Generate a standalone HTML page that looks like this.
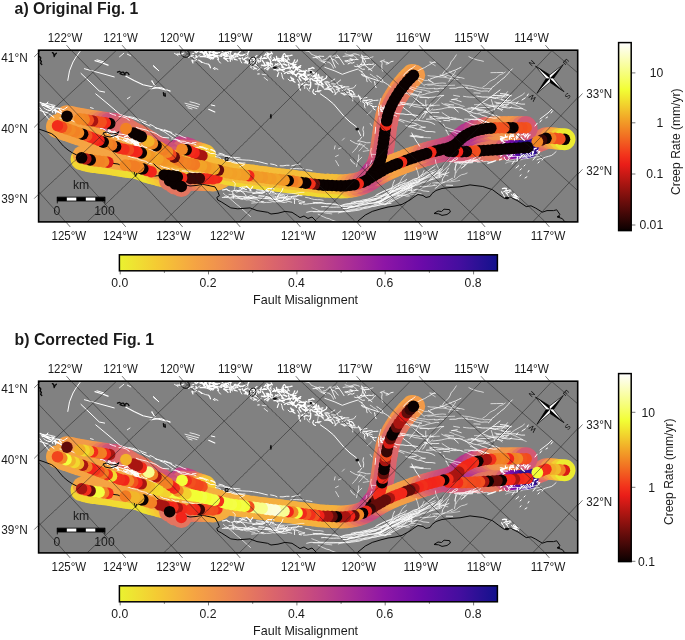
<!DOCTYPE html><html><head><meta charset="utf-8"><title>Fig. 1</title>
<style>html,body{margin:0;padding:0;background:#fff}svg{display:block;font-family:"Liberation Sans",sans-serif}</style></head><body>
<svg width="685" height="640" viewBox="0 0 685 640">
<defs><linearGradient id="gplasma" x1="0" x2="1" y1="0" y2="0">
<stop offset="0.000" stop-color="#eaf230"/>
<stop offset="0.050" stop-color="#f0de32"/>
<stop offset="0.100" stop-color="#f5ca33"/>
<stop offset="0.150" stop-color="#f5b73b"/>
<stop offset="0.200" stop-color="#f5a443"/>
<stop offset="0.250" stop-color="#f1954c"/>
<stop offset="0.300" stop-color="#ec8556"/>
<stop offset="0.350" stop-color="#e47660"/>
<stop offset="0.400" stop-color="#dc676a"/>
<stop offset="0.450" stop-color="#d25a74"/>
<stop offset="0.500" stop-color="#c84c7e"/>
<stop offset="0.550" stop-color="#bb3f89"/>
<stop offset="0.600" stop-color="#ae3194"/>
<stop offset="0.650" stop-color="#9e249d"/>
<stop offset="0.700" stop-color="#8e16a6"/>
<stop offset="0.750" stop-color="#7c10a7"/>
<stop offset="0.800" stop-color="#6b0aa9"/>
<stop offset="0.850" stop-color="#570ca4"/>
<stop offset="0.900" stop-color="#440e9f"/>
<stop offset="0.950" stop-color="#2b1095"/>
<stop offset="1.000" stop-color="#12118c"/>
</linearGradient>
<linearGradient id="ghot" x1="0" x2="0" y1="1" y2="0">
<stop offset="0.000" stop-color="#0a0101"/>
<stop offset="0.050" stop-color="#2a0504"/>
<stop offset="0.100" stop-color="#4a0908"/>
<stop offset="0.150" stop-color="#690d0b"/>
<stop offset="0.200" stop-color="#89110e"/>
<stop offset="0.250" stop-color="#a91511"/>
<stop offset="0.300" stop-color="#c91915"/>
<stop offset="0.350" stop-color="#e91d18"/>
<stop offset="0.400" stop-color="#f2331b"/>
<stop offset="0.450" stop-color="#f2501f"/>
<stop offset="0.500" stop-color="#f26e22"/>
<stop offset="0.550" stop-color="#f28b25"/>
<stop offset="0.600" stop-color="#f2a828"/>
<stop offset="0.650" stop-color="#f2c62c"/>
<stop offset="0.700" stop-color="#f2e32f"/>
<stop offset="0.750" stop-color="#f2fe35"/>
<stop offset="0.800" stop-color="#f5fe5e"/>
<stop offset="0.850" stop-color="#f7fe86"/>
<stop offset="0.900" stop-color="#fafeae"/>
<stop offset="0.950" stop-color="#fcfed7"/>
<stop offset="1.000" stop-color="#fffeff"/>
</linearGradient>
<clipPath id="clipmap"><rect x="38.6" y="50.2" width="539.1" height="171.7"/></clipPath>
<g id="faults"></g>
<g id="faults2"><path d="M80.0 51.5 L76.0 57.0 L73.0 62.0 L69.5 70.8 L67.8 80.4 M97.0 59.8 L104.0 62.0 M84.4 68.7 L100.0 73.0 L114.2 76.9 M81.0 73.4 L90.0 82.0 L99.3 91.0 L104.6 92.1 M95.8 93.9 L108.0 104.0 L120.3 114.6 L136.0 119.5 L150.0 126.0 M153.6 66.4 L158.0 70.0 M153.5 65.5 L158.8 70.8 M150.0 89.0 L160.5 87.4 L170.0 91.0 M211.3 105.0 L214.8 105.8 M155.3 127.7 L169.3 132.0 L176.3 136.5 M320.4 93.9 L327.0 98.5 L333.6 104.0 L344.0 116.3 L350.0 122.0 L356.4 126.8 L360.7 135.6 M39.8 107.6 L43.0 112.0 L46.8 116.3 M41.0 104.0 L50.0 108.3 L57.0 112.2 M40.0 110.5 L48.0 113.0 L54.0 117.5 M100.3 128.6 L102.5 128.6 L105.4 130.1 M108.7 130.2 L111.9 132.0 L115.6 132.1 L118.1 133.8 L121.8 134.4 L124.5 134.5 L128.2 136.1 L130.5 137.9 L134.2 139.0 M136.5 140.2 L140.0 141.0 M113.1 133.6 L114.7 133.0 L117.1 132.9 M134.2 143.8 L135.9 144.2 M112.5 134.9 L113.7 133.2 L114.2 130.9 M135.5 142.5 L137.2 143.6 M131.2 140.7 L133.5 140.6 M124.9 137.8 L126.1 139.4 M113.5 132.6 L115.5 132.2 M60.8 108.5 L62.7 109.5 L64.3 109.3 L65.6 108.0 L67.2 107.1 M43.0 105.6 L44.7 105.0 L46.5 103.9 L47.9 102.0 M43.7 107.7 L45.7 109.1 L47.1 109.8 L49.3 110.5 L51.6 110.6 M58.3 111.7 L59.6 112.5 L61.6 114.1 L63.1 115.2 M52.4 108.1 L54.4 108.6 M151.7 142.1 L153.8 143.2 L155.6 144.3 M178.6 154.7 L179.7 153.3 L180.2 151.7 M156.1 146.4 L157.6 146.7 L159.7 147.3 M193.4 57.3 L195.3 58.7 L196.9 59.9 M189.8 56.2 L191.5 56.7 L193.4 55.5 M253.2 57.6 L254.7 58.3 L257.1 58.3 M307.1 78.4 L308.4 79.3 M225.3 54.8 L227.6 54.8 M305.4 77.2 L306.3 79.1 L307.5 80.7 L308.8 82.3 M206.0 52.0 L207.2 53.3 L208.3 54.7 M226.2 55.5 L228.5 56.1 L229.9 56.8 L232.3 56.7 M226.4 58.4 L228.5 58.4 L230.7 58.0 L232.3 56.7 M319.0 83.0 L320.5 81.4 L321.6 79.9 L322.1 78.0 M307.6 79.4 L310.0 78.9 L312.3 78.1 M217.5 59.1 L218.2 60.3 L219.2 61.6 L220.5 63.1 M191.9 54.0 L194.0 53.3 M221.7 51.1 L223.5 52.3 M238.3 54.6 L240.7 55.3 M291.8 72.9 L292.7 74.6 M291.3 73.1 L293.5 73.1 L295.0 74.4 L297.0 74.8 M292.9 71.9 L293.5 74.1 M297.7 79.5 L298.8 81.6 M193.7 48.9 L195.3 48.4 L196.7 48.6 L198.5 49.6 M321.6 84.0 L323.8 84.9 M204.4 56.7 L206.8 57.3 L209.0 58.1 L210.4 58.9 M326.7 88.1 L328.9 87.0 L330.7 86.5 M281.4 58.7 L282.6 60.7 M306.0 70.2 L307.5 71.0 M308.2 69.9 L310.4 70.3 L312.5 71.1 M294.6 64.7 L294.7 66.7 L293.5 68.7 M271.1 55.6 L270.5 57.6 M287.6 58.9 L289.7 59.9 M267.4 54.9 L268.1 56.8 L269.4 58.0 M304.3 71.0 L305.7 73.1 M270.6 60.3 L271.2 58.1 L270.2 56.5 M280.7 58.4 L282.4 60.4 M291.3 63.4 L292.6 64.9 L294.4 66.5 M281.4 59.9 L283.3 61.1 L284.7 62.3 M229.7 57.0 L231.0 58.9 L232.6 59.9 M243.2 59.5 L245.1 58.6 M250.2 66.9 L252.0 68.2 M257.7 70.3 L259.6 68.9 L261.2 67.4 M235.0 55.2 L235.4 56.9 M251.1 64.1 L251.8 66.1 M349.3 90.3 L349.4 92.7 L350.8 93.5 L351.7 94.8 L352.9 96.7 M380.5 109.6 L382.4 109.2 L384.6 108.7 L386.5 108.9 L388.6 109.0 M351.1 93.4 L350.8 95.0 L351.5 96.7 L352.8 98.7 L352.8 100.9 M370.2 105.1 L372.0 105.8 L373.0 107.3 L373.5 108.9 L375.2 109.9 M331.8 86.9 L333.3 88.9 L334.6 90.2 L334.9 91.8 L335.6 94.2 M336.3 89.2 L337.7 89.5 L339.3 88.6 M372.2 106.2 L374.6 106.8 L376.3 106.5 M336.0 86.3 L337.4 87.8 L338.7 89.3 L339.2 91.6 M385.1 107.9 L386.8 107.6 L387.9 106.3 L389.7 106.0 L391.6 105.2 L393.2 105.4 M363.1 100.1 L365.0 100.3 L367.2 100.3 L369.0 99.8 L370.7 99.7 L372.2 99.9 M331.1 81.1 L332.9 80.3 L334.8 79.0 M339.2 88.1 L341.1 87.8 L343.1 87.4 L344.7 86.6 M383.0 108.5 L384.7 109.3 L387.1 109.8 L388.5 110.7 M321.9 79.8 L321.5 82.2 L321.6 84.5 L322.7 86.7 L323.3 88.1 M317.8 91.7 L319.9 91.8 M281.3 72.9 L282.0 74.8 L282.3 77.1 L283.5 79.1 M268.2 62.8 L268.6 65.0 L268.0 67.1 L268.4 68.6 M302.4 83.2 L301.6 84.8 M315.4 91.6 L317.1 91.2 L319.0 90.8 L321.0 90.6 M288.1 79.1 L289.9 80.8 L292.1 80.5 L294.3 81.3 M301.6 84.5 L303.3 83.9 L305.4 84.2 L307.1 84.4 M310.7 50.1 L312.9 50.4 L315.1 50.4 L317.5 50.0 L319.8 50.3 L321.9 49.9 M345.1 61.0 L347.0 60.7 L348.6 60.2 L350.7 59.7 L352.6 60.0 M374.5 81.7 L375.0 83.6 L375.3 85.7 L376.1 87.6 M360.4 64.4 L362.3 64.8 L364.4 64.9 L366.8 64.7 L368.9 64.2 L371.4 64.5 L373.6 64.0 M348.1 63.9 L350.2 62.8 L352.4 63.1 L354.1 62.3 M346.6 50.8 L348.7 49.1 L350.8 49.0 M277.5 196.5 L280.0 197.2 L281.8 197.4 L284.2 197.4 L285.9 197.1 L287.5 195.6 M278.1 196.0 L279.5 195.0 L281.5 195.0 L283.5 194.9 L284.9 196.2 L285.7 198.1 L287.4 199.7 M224.1 197.0 L226.6 196.9 L228.3 196.4 M235.7 191.2 L237.8 190.6 L239.3 190.2 L240.7 189.0 L242.9 187.9 M299.2 203.5 L301.4 203.9 L302.8 202.5 L304.7 201.8 M256.1 191.7 L258.5 192.3 L260.9 192.9 L262.8 192.6 L265.0 192.1 M279.2 200.4 L281.2 201.3 L282.9 200.3 L284.1 198.4 M239.2 191.0 L240.8 191.1 L242.5 192.1 L243.9 193.0 L245.1 194.6 L246.1 195.9 M266.0 190.0 L268.0 188.4 L269.9 188.6 L272.3 188.3 L274.1 188.9 M232.4 191.2 L233.9 190.7 L236.4 190.2 L238.0 190.7 M262.3 191.8 L264.2 191.9 L266.6 191.2 L268.0 189.9 M236.8 192.1 L239.0 191.1 L240.9 190.3 L242.4 189.1 L244.4 188.4 M252.6 193.7 L255.0 193.3 L257.3 192.7 L259.3 192.2 L261.6 192.0 M242.7 188.1 L244.9 189.2 L246.5 189.6 M246.3 197.7 L252.1 197.6 L257.8 197.9 L264.8 198.5 L270.3 198.9 L276.9 199.8 M519.7 135.1 L518.6 133.6 L516.9 132.9 M528.3 135.2 L530.3 134.9 M527.6 136.8 L527.3 138.4 M521.2 134.8 L523.5 134.6 M510.2 137.6 L511.7 138.6 M520.4 154.0 L522.0 153.0 L523.9 152.0 M528.6 149.7 L530.3 149.6 M520.6 157.6 L522.3 156.4 M522.2 155.3 L524.6 154.6 L526.8 155.3 M504.2 157.1 L504.7 158.8 L506.0 160.1 M534.3 149.1 L533.8 150.7 L533.4 153.0 M528.8 155.9 L530.7 156.2 M510.7 154.3 L512.8 154.3 M536.5 151.0 L538.3 150.1 M523.4 154.4 L524.8 155.6 M530.2 151.3 L530.8 149.8 L530.0 148.3 M502.2 192.9 L503.3 194.4 L504.4 196.7 M507.7 195.7 L509.9 197.3 L511.3 198.0 M514.8 198.1 L517.2 198.2 L518.7 199.5 M510.0 108.0 L511.3 107.1 M516.0 104.0 L518.0 101.7 M522.0 100.0 L525.3 97.8 M527.0 96.0 L528.3 94.0 M535.0 126.0 L537.2 123.2 M540.0 122.0 L541.6 119.9 M546.0 118.0 L547.6 117.0 M551.0 113.0 L552.6 110.8 M508.0 160.0 L509.7 157.8 M512.0 164.0 L514.3 160.9 M516.0 168.0 L518.7 165.7 M520.0 170.0 L521.4 168.8 M524.0 166.0 L525.1 164.9 M528.0 172.0 L529.0 170.4 M533.0 160.0 L535.5 156.9 M538.0 163.0 L539.4 161.7 M542.0 160.0 L543.4 159.0 M520.0 176.0 L521.0 174.8 M525.0 178.0 L526.9 176.8" fill="none" stroke="#fff" stroke-width="1.0" stroke-linecap="round" stroke-linejoin="round"/><path d="M95.0 60.6 L101.0 62.5 L108.0 65.2 M110.8 134.8 L112.0 135.8 M112.5 136.4 L114.3 136.2 M136.8 142.0 L138.4 142.0 L140.7 142.0 M112.8 134.9 L114.4 135.6 L116.5 135.8 M198.8 60.2 L200.5 61.2 L201.7 62.3 M234.8 53.7 L237.1 54.1 L238.6 54.5 L240.7 55.7 M298.7 73.1 L300.3 74.9 M247.6 55.7 L247.8 53.6 L248.6 51.6 L249.7 49.8 M209.1 55.2 L211.3 55.2 L213.5 55.2 L215.2 56.9 M203.8 54.8 L205.4 52.9 L206.8 51.7 M200.1 56.6 L202.6 56.4 L204.6 56.5 L206.3 55.8 M315.1 83.8 L316.8 84.1 M291.0 72.8 L292.6 73.0 M195.9 55.4 L196.8 57.2 M231.6 58.1 L233.2 58.0 M253.7 58.6 L255.5 59.4 M264.0 65.9 L265.9 65.5 L267.3 64.9 L267.4 63.3 M261.4 65.1 L263.4 65.5 L265.2 64.6 M207.3 56.8 L209.1 57.0 L210.9 57.5 L212.6 57.7 M255.5 63.2 L255.9 64.9 M210.4 57.3 L212.5 57.5 L214.6 56.8 L217.0 56.7 M270.6 61.6 L270.6 63.9 M324.7 89.1 L327.0 88.9 L329.2 89.0 L331.6 88.8 M207.5 55.5 L209.3 55.7 L211.6 55.6 M264.6 68.8 L266.5 67.7 M215.3 55.5 L216.9 56.2 M311.8 79.1 L313.2 80.3 L315.4 80.8 L317.2 82.1 M262.3 60.5 L263.7 62.4 L264.6 64.0 M196.1 52.8 L197.3 51.7 L198.7 50.1 L200.5 48.4 M296.0 75.4 L297.1 74.2 M310.7 82.1 L310.7 84.6 L310.5 87.0 L309.6 88.6 M198.4 50.5 L200.6 50.8 L202.6 51.0 M328.7 89.4 L330.4 89.8 L331.5 90.9 L332.8 92.2 M238.4 53.4 L240.3 51.5 M311.0 71.6 L313.1 72.3 L314.5 73.7 L316.5 74.4 M293.3 64.9 L294.4 66.8 M267.2 55.4 L268.5 53.4 M267.4 56.6 L267.8 54.8 L267.0 52.4 M266.9 56.8 L268.6 58.0 L269.9 60.0 L271.1 62.0 M279.0 59.9 L280.6 60.8 L281.9 61.5 M287.9 67.9 L290.0 67.9 L292.2 66.8 M276.8 58.7 L278.6 58.3 M282.7 57.3 L282.9 55.4 L284.2 53.6 M283.1 63.9 L285.0 64.6 L286.7 65.4 M285.4 56.6 L287.8 55.9 L290.1 55.7 L292.1 55.1 M297.4 73.4 L299.7 73.9 L302.0 74.3 L304.2 74.3 M312.7 76.5 L314.3 76.7 L316.0 76.1 L317.4 76.0 M314.0 78.8 L316.3 78.2 L317.7 78.4 M283.1 63.9 L285.4 64.5 L286.9 65.0 M312.9 72.2 L314.4 72.9 M509.4 136.8 L511.6 136.0 L513.7 136.4 M516.0 137.2 L517.8 137.1 M525.0 137.1 L526.6 135.3 L528.0 133.4 M500.5 139.4 L502.1 141.3 M521.1 137.1 L522.6 139.2 L524.2 140.3 M501.7 159.0 L499.6 159.9 M502.1 154.3 L503.4 152.9 L504.2 150.9 M517.5 156.9 L517.2 158.8 L517.3 160.9 M503.1 153.6 L504.8 153.4 M519.7 158.0 L521.5 156.8 M505.9 192.8 L507.4 194.3 M502.5 188.7 L504.5 188.2 L506.6 188.5" fill="none" stroke="#fff" stroke-width="1.3" stroke-linecap="round" stroke-linejoin="round"/><path d="M125.6 76.0 L134.0 80.5 L143.0 84.8 L158.0 88.0 L170.0 91.0 M43.3 105.0 L52.0 109.5 L62.5 113.7 M132.5 142.6 L134.5 143.7 M124.5 136.4 L125.9 136.6 L127.7 135.8 M130.0 140.0 L131.0 141.3 L133.3 141.7 M113.1 135.5 L115.5 135.9 M131.7 141.8 L134.0 140.6 M134.4 142.3 L135.9 143.5 L137.2 145.0 L138.4 147.2 M133.0 141.1 L134.9 141.4 L136.4 142.0 L138.5 143.0 M108.5 129.6 L109.9 130.3 L111.3 131.8 L113.2 131.9 M116.3 136.3 L118.0 136.2 M51.8 105.7 L53.9 106.8 L55.6 107.8 M50.1 108.4 L51.4 109.5 L52.2 111.0 L52.9 112.4 M42.1 105.8 L43.6 105.3 L44.5 104.1 L46.9 103.8 M53.1 108.3 L54.6 109.2 L56.6 110.7 L57.9 111.6 L59.7 112.5 M48.3 110.2 L50.2 110.6 L51.9 110.6 M151.5 140.4 L153.5 140.8 M154.5 146.7 L156.7 147.9 M157.1 145.7 L157.7 143.6 L159.8 142.7 M150.8 143.4 L151.6 145.6 L151.2 147.9 M176.5 153.6 L177.0 155.2 L176.5 157.5 M168.7 150.9 L170.3 150.9 M191.9 60.1 L193.7 60.9 L195.4 60.9 M179.8 53.1 L182.0 53.8 L183.9 53.0 M213.4 68.4 L214.9 69.4 M316.3 77.8 L318.6 77.8 L320.7 77.3 L323.0 76.9 M233.5 57.6 L235.7 56.8 L238.0 56.4 M303.4 74.7 L305.2 76.5 L306.7 78.1 M214.1 54.8 L215.4 53.4 L217.4 53.8 M314.2 74.8 L314.9 76.2 L315.9 77.9 L317.7 79.6 M292.5 68.1 L294.5 67.1 M200.3 50.7 L202.5 49.6 M291.3 70.5 L292.8 71.2 M215.5 52.5 L217.5 52.9 L219.8 52.5 M324.7 82.1 L326.3 81.9 L328.1 81.8 M223.5 54.7 L224.8 53.6 L226.7 52.8 M233.8 54.2 L236.1 54.7 L237.3 55.9 M244.1 62.8 L246.4 63.0 L248.3 62.5 M242.2 57.4 L243.1 59.5 M287.5 73.4 L289.2 73.2 L291.1 72.4 L293.3 71.4 M307.0 74.9 L308.8 75.5 M278.8 67.9 L280.8 69.5 L282.4 70.5 L284.1 71.7 M208.6 51.9 L210.9 52.1 L212.6 52.3 M222.3 53.7 L224.3 53.8 L226.4 54.3 M247.8 56.3 L249.2 57.7 L250.2 59.4 L250.5 60.9 M308.0 79.5 L309.3 78.3 M290.1 71.6 L292.5 72.3 L294.0 72.2 M212.4 52.7 L213.6 51.7 L215.1 50.2 L216.2 48.6 M308.1 74.9 L310.4 74.7 M232.2 56.5 L233.7 55.2 L235.2 53.2 M276.9 69.3 L277.6 70.6 M281.3 67.0 L283.6 67.9 L285.9 68.4 L287.9 68.2 M269.7 63.9 L271.7 63.8 L272.6 65.1 M210.6 59.1 L212.4 58.3 L213.9 58.0 M295.2 67.9 L296.7 68.3 L298.7 69.0 M319.1 83.9 L320.7 85.1 L321.9 86.2 L323.4 86.9 M274.9 65.3 L276.3 64.4 L278.1 63.4 M249.1 58.4 L250.9 59.3 L252.1 60.4 M253.7 58.9 L255.6 59.7 L257.1 60.7 L258.9 62.4 M304.5 71.9 L304.7 73.6 M282.3 59.0 L283.9 59.7 M286.4 61.9 L288.3 62.2 M272.5 60.4 L274.1 60.4 M288.4 58.4 L287.6 56.4 L285.7 55.5 L284.6 53.5 M276.7 59.7 L278.2 59.1 L280.3 58.5 M273.8 57.7 L275.0 59.2 M288.6 62.5 L290.6 63.7 M295.6 66.3 L297.2 67.5 M294.9 62.7 L296.8 61.7 L297.5 59.9 M280.1 60.2 L281.8 59.9 M299.5 69.7 L301.2 70.6 M283.2 58.1 L283.4 60.3 L283.1 61.8 M299.7 73.9 L301.4 74.8 L303.0 75.1 L304.5 76.4 M272.4 53.9 L271.1 51.8 M230.9 56.0 L232.6 55.9 M257.7 74.0 L259.2 73.9 M225.8 52.4 L228.1 52.1 L230.1 51.4 M227.9 52.0 L228.8 53.8 M230.1 54.2 L230.6 52.7 L231.4 50.8 M245.0 60.7 L246.7 61.8 L247.5 63.8 M253.8 67.4 L255.8 68.3 M318.9 81.9 L321.0 82.7 L322.7 83.6 M366.3 101.8 L367.3 102.9 L367.6 105.1 M340.1 85.6 L341.6 86.6 L342.0 88.9 M358.3 95.2 L359.7 97.2 L360.2 98.8 L360.6 101.1 M348.0 89.6 L349.6 90.2 L351.3 90.5 L352.9 91.8 L354.1 93.7 L353.9 95.3 M304.4 82.7 L305.9 82.5 M291.8 79.7 L293.6 81.4 L295.1 82.2 M284.3 73.6 L286.1 72.6 L288.2 71.8 L290.3 71.2 M313.6 89.5 L312.7 91.7 L313.6 93.4 L315.5 94.4 M266.1 62.1 L267.6 63.3 M304.4 85.4 L306.3 84.4 L308.4 85.1 L310.1 84.8 M268.7 62.7 L268.0 65.1 L267.9 67.1 M222.4 190.0 L224.4 189.6 L226.5 189.0 L228.1 190.3 L230.0 191.0 M246.4 186.3 L248.3 187.8 L249.7 189.0 L251.1 190.9 M249.9 190.3 L251.2 188.7 L252.7 186.7 M501.2 137.9 L502.8 138.4 M514.3 138.2 L514.6 140.2 M500.2 136.7 L501.7 136.7 L503.8 137.6 M501.6 140.4 L502.3 138.9 L503.0 137.4 M503.8 138.2 L505.7 137.1 L505.3 134.7 M516.5 136.7 L517.1 134.6 L518.8 132.7 M511.6 136.4 L513.6 135.1 M500.4 138.5 L502.1 139.9 L503.4 141.8 M518.0 136.6 L518.3 134.7 L517.9 133.0 M502.8 137.7 L505.2 136.9 L507.2 137.1 M502.8 143.2 L504.9 142.5 M511.4 134.7 L513.3 134.1 M520.6 157.9 L522.6 156.6 M526.8 153.8 L527.5 151.8 M500.5 156.1 L502.2 154.9 L504.3 153.6 M536.9 154.9 L538.6 153.4 L539.8 151.5 M505.8 154.5 L507.6 155.4 L508.6 157.3 M521.5 151.4 L523.9 151.4 M510.4 156.5 L512.1 155.7 M530.3 154.0 L531.2 155.5 M527.2 153.2 L528.2 155.1 M507.1 192.0 L509.2 192.7 M503.8 191.8 L505.6 190.7 L506.4 188.9 M501.6 191.7 L502.4 193.2 M506.2 190.9 L508.5 190.3 L510.6 189.7" fill="none" stroke="#fff" stroke-width="1.1" stroke-linecap="round" stroke-linejoin="round"/><path d="M119.5 56.8 L123.8 53.3 M127.3 54.1 L130.8 55.9 M151.9 80.4 L154.5 85.7 M127.3 98.8 L130.0 97.0 M90.5 107.6 L93.2 108.4 M151.7 81.3 L155.2 85.7 M47.0 103.5 L55.0 105.5 M44.0 114.0 L49.0 119.5 M128.8 116.6 L132.8 117.3 L136.4 118.5 L139.5 119.5 L142.8 120.9 L146.2 122.0 M149.9 124.4 L152.9 125.7 L156.8 128.5 M160.1 129.9 L163.9 131.5 L167.1 133.7 L169.6 135.5 L173.1 138.0 L176.3 139.4 L180.0 141.0 M109.9 113.3 L113.4 114.6 L115.7 115.3 M119.0 116.6 L122.3 116.7 L126.2 118.0 L129.2 120.3 M136.2 127.3 L139.6 128.5 L142.8 129.2 L146.6 130.1 L149.9 131.4 L153.5 132.5 L156.2 133.5 L159.2 135.7 L162.6 137.4 L165.0 137.6 L168.7 137.9 M171.7 138.9 L174.5 139.5 L178.3 140.2 L180.7 141.1 L184.4 141.3 L186.9 142.5 L190.5 143.4 L193.4 143.7 L195.9 144.8 M199.5 146.5 L201.6 146.6 L204.7 147.7 L208.3 149.1 M211.4 149.4 L215.0 151.0 M195.4 147.5 L199.5 147.2 L203.1 147.7 L206.5 149.4 M210.4 149.7 L212.7 150.5 L215.6 152.1 M219.0 153.2 L221.8 153.7 L225.7 155.6 L229.1 156.4 L232.4 157.3 L235.7 157.5 L240.0 158.0 M215.5 156.6 L218.5 157.2 L220.7 158.3 M223.6 159.6 L227.1 161.2 L230.4 161.5 L233.2 162.6 L235.5 163.2 L239.5 163.3 L242.3 163.0 L245.0 163.0 M205.5 151.3 L207.6 151.6 L210.6 153.5 L214.4 153.6 L217.4 155.1 L220.2 154.8 L223.1 155.1 L225.4 156.6 L229.7 157.0 L233.5 157.9 L236.9 159.4 L239.7 159.7 L242.8 159.9 L246.1 160.1 L248.9 160.2 L252.5 160.6 L254.9 161.1 L258.7 161.7 L262.0 162.5 L264.8 163.3 L267.4 163.9 M270.6 163.9 L274.4 164.6 L277.0 165.8 M280.1 165.8 L283.0 165.9 L286.3 165.3 L289.1 165.3 M291.7 165.8 L296.0 164.8 L300.0 164.0 M108.0 132.7 L110.5 133.6 L113.5 134.6 L116.8 135.8 L120.3 136.7 L123.0 137.7 L125.8 138.6 L128.7 139.7 L132.3 141.5 L134.6 142.5 L138.5 143.3 M141.4 145.0 L144.0 146.8 L146.9 147.7 M125.3 141.2 L127.5 142.5 L131.5 143.4 M134.3 144.7 L136.6 145.4 L140.0 146.9 L143.6 148.0 M146.5 149.2 L149.8 150.0 L152.5 150.3 L156.0 152.0 M160.5 165.6 L163.6 167.3 L165.4 167.5 L169.4 168.8 M171.9 168.7 L175.2 170.2 L178.7 170.3 M182.1 170.9 L186.5 171.1 L189.9 171.9 L193.5 172.5 L196.2 173.1 L200.0 173.0 M134.0 144.9 L135.0 146.6 L137.1 146.9 M134.3 141.4 L135.0 139.6 L135.1 137.9 L135.1 135.6 M127.6 138.0 L129.3 139.4 M57.9 111.4 L58.9 112.3 L60.3 113.2 L61.8 114.7 M149.7 144.2 L151.3 143.2 M157.2 147.7 L158.5 145.4 M169.4 152.0 L171.3 152.3 L173.0 150.9 M167.7 152.7 L169.2 154.2 M156.3 144.9 L157.8 146.2 M174.4 53.3 L176.6 54.6 L178.1 55.7 M201.8 62.2 L203.6 62.8 L205.5 63.6 L207.7 64.0 M195.4 57.3 L197.7 56.9 L198.7 55.5 L200.3 54.9 M214.4 67.5 L216.0 68.5 L217.9 69.4 M245.7 56.0 L247.4 54.8 M278.2 65.1 L279.9 64.5 M199.8 52.4 L202.2 52.8 M214.1 54.3 L214.2 56.7 L213.3 59.1 M251.3 63.0 L253.2 62.7 L255.3 62.0 L255.7 60.4 M266.6 69.5 L268.7 68.9 L269.9 67.2 M320.1 81.9 L321.7 80.1 M258.6 59.1 L259.9 58.3 L261.6 57.9 M301.2 71.4 L302.9 71.5 M207.5 57.2 L209.4 57.0 L211.1 58.1 L212.4 59.0 M265.3 53.6 L266.8 55.0 M290.5 68.4 L289.9 70.2 M226.4 53.6 L228.5 54.9 L229.7 56.4 M249.5 63.0 L249.7 64.8 L251.0 66.3 M256.2 65.1 L257.4 66.8 L259.1 67.1 M239.6 58.6 L240.6 60.9 L241.8 63.0 M237.4 54.2 L239.7 55.2 M252.8 66.5 L254.9 65.6 L256.3 65.0 M234.4 58.1 L235.8 59.6 L237.4 60.1 M342.2 93.6 L344.3 94.1 L346.1 93.9 L347.8 92.6 M367.2 103.2 L369.3 101.8 L371.1 101.3 L373.3 100.5 L375.8 100.4 L378.0 100.2 M338.3 90.1 L338.0 91.7 L336.0 93.2 L334.6 94.9 M325.3 83.4 L327.7 82.9 L329.4 82.4 M342.2 90.4 L344.4 90.2 L346.3 88.4 M362.8 100.9 L365.3 100.8 L367.7 100.2 M381.6 110.6 L383.3 111.7 L384.8 112.3 L386.4 112.5 L388.1 113.1 M384.1 105.9 L384.6 108.0 L386.6 109.3 L388.3 109.2 M346.3 92.0 L348.6 92.6 L350.7 93.8 M336.9 82.9 L337.8 84.7 L339.3 85.6 M331.7 83.8 L334.1 84.0 L336.0 83.9 L337.6 82.3 L338.9 81.4 L340.6 80.0 M360.1 98.4 L361.9 98.6 L363.8 97.9 L365.3 97.8 L367.0 97.4 M342.5 87.6 L344.4 87.0 L346.5 86.8 L348.9 86.9 M362.4 101.8 L363.9 102.7 L364.9 104.1 L364.4 106.1 L365.1 107.9 M380.2 108.0 L382.0 107.8 L383.9 107.5 L385.6 107.2 M306.9 87.9 L308.0 89.5 L309.5 91.2 M267.4 62.1 L269.0 63.0 L270.9 63.7 L272.6 63.9 M269.6 65.6 L271.5 66.6 L273.4 66.7 L275.0 65.4 M298.9 81.9 L299.8 83.4 L299.9 85.4 M302.9 84.8 L304.8 86.3 L304.7 88.5 M292.8 78.0 L293.3 80.1 M357.3 64.7 L358.3 66.0 L359.6 67.7 L360.9 68.4 L362.4 69.3 L364.5 69.2 M358.4 66.9 L360.7 66.6 L362.5 65.4 L364.5 64.7 L364.6 63.0 M335.5 57.8 L337.0 57.4 L339.2 57.4 M376.9 75.8 L378.6 76.7 L379.8 77.7 L381.9 79.1 L382.9 81.0 M319.5 57.5 L320.4 59.1 L322.2 60.8 L323.7 62.1 L325.3 63.4 M313.0 57.7 L315.2 57.6 L317.5 56.8 L319.4 56.1 L321.4 56.3 L323.7 56.4 M350.1 58.6 L352.4 59.4 L354.2 59.8 L356.0 59.4 L358.1 59.6 M383.9 61.6 L385.9 62.1 L388.2 62.8 M386.1 64.0 L387.9 63.8 L389.4 62.9 L390.9 61.7 L393.1 61.3 M362.6 56.9 L364.5 56.6 L366.9 56.2 L369.0 57.8 L370.5 59.2 M330.9 56.8 L333.0 62.0 L335.3 67.3 M337.0 55.0 L341.0 60.0 L344.0 64.6 M324.8 67.3 L335.0 71.0 L342.3 74.3 L350.0 71.5 L358.0 69.0 M361.6 55.0 L363.0 61.0 L365.1 65.5 L372.0 70.8 M361.6 74.3 L370.0 78.0 L380.0 81.3 M411.8 133.0 L412.9 135.4 L414.6 138.3 L416.1 141.0 L417.9 143.4 L419.6 146.2 M476.7 96.0 L479.4 96.5 L482.3 97.0 L485.6 97.0 L488.4 97.1 L491.7 97.6 L494.8 97.9 L497.6 97.8 M392.9 105.2 L395.7 105.2 L398.7 105.3 L401.6 104.6 L404.9 104.4 M500.4 93.6 L503.5 93.8 L506.1 94.2 L509.2 95.0 M468.5 120.2 L471.3 119.5 L474.5 119.8 L477.6 119.6 L480.7 119.7 L483.1 121.0 L486.0 121.6 L488.9 122.9 L491.7 123.8 M454.0 108.1 L456.3 110.1 L458.2 111.9 M428.4 79.4 L430.9 81.4 L433.3 82.8 M493.2 95.7 L496.1 95.4 L499.0 95.6 L502.3 95.4 L505.2 95.0 L508.1 95.7 L511.3 95.7 M408.1 126.1 L411.3 125.8 L413.9 125.6 L416.8 124.9 M403.6 75.3 L405.5 73.1 L407.5 71.1 L410.0 69.3 L412.9 67.8 L414.9 65.8 M394.3 112.5 L397.0 113.6 L400.1 113.9 L403.0 113.9 L406.2 114.5 L409.2 114.4 L411.8 114.6 L415.3 115.2 L418.1 115.7 M403.1 107.4 L405.4 109.2 L407.7 110.8 L410.1 112.5 L412.4 114.7 L415.0 116.2 L417.2 118.6 M399.9 87.6 L402.5 88.9 L404.6 91.0 L406.9 93.1 L409.4 94.9 L412.0 96.9 L414.2 98.5 L416.8 99.9 L419.3 102.2 L421.9 103.7 L424.3 105.4 M293.6 197.9 L294.8 200.0 L294.4 202.0 L294.6 203.6 M266.5 193.9 L268.7 193.9 L270.3 192.9 L270.8 190.8 L271.5 189.2 L273.2 188.3 M276.6 198.8 L277.3 197.2 L278.1 194.9 L280.0 193.1 L281.3 192.0 L282.4 189.9 L283.0 188.2 M239.1 187.9 L241.5 187.2 L243.8 187.0 L245.7 186.9 M286.5 199.6 L288.6 198.5 L290.5 198.0 L292.7 196.9 L295.2 197.0 L296.7 196.3 L298.6 194.8 M275.7 197.4 L277.5 199.3 L278.9 201.0 M231.3 191.1 L232.9 192.5 L232.9 194.5 L233.2 196.4 L233.4 198.2 M265.2 190.5 L267.2 190.3 L269.3 191.3 L271.4 191.8 L273.0 192.6 L274.5 192.9 L276.2 193.9 M256.6 189.8 L260.2 190.1 L263.4 190.5 L266.9 191.9 L269.3 191.0 L273.4 191.4 M243.8 197.5 L248.1 197.9 L252.2 198.6 L256.5 199.2 L259.4 201.1 L263.8 201.8 M230.9 197.2 L235.5 196.1 L241.0 196.6 L247.2 196.9 L251.0 195.7 L257.0 197.6 M313.1 202.3 L318.3 202.9 L322.0 202.7 L326.6 203.8 L331.1 203.8 L336.0 204.1 L340.4 205.7 L345.2 204.1 L348.9 203.5 L353.2 203.1 L357.3 201.5 L361.0 201.8 L364.7 200.8 L370.0 199.9 L373.3 198.9 L377.7 198.2 L380.9 196.8 L385.6 194.6 L388.6 193.7 L392.0 191.6 L396.2 189.8 L400.3 188.5 L403.3 187.4 L406.9 185.5 L410.7 183.4 L414.4 182.3 L418.3 180.7 L422.4 178.3 L425.5 176.8 L429.6 174.1 L433.8 172.4 L436.8 171.0 L440.8 168.6 M342.7 208.5 L346.9 208.7 L350.6 207.5 L354.9 206.5 L359.9 205.0 L364.2 204.3 L367.9 203.6 L372.3 203.2 L376.7 202.1 L380.3 201.7 L384.6 199.7 L387.9 197.8 L392.5 195.2 L396.1 193.1 L399.6 191.4 L403.3 188.8 L407.7 187.8 L411.4 185.3 M287.3 196.9 L290.5 196.7 L293.3 196.2 L296.4 195.9 L299.2 195.6 L302.1 195.7 M321.6 206.7 L324.6 206.5 L327.6 206.8 L330.5 207.2 L333.7 207.2 L336.3 207.1 L339.7 207.1 L342.4 206.3 L345.8 206.5 L348.4 206.1 L351.8 206.4 L354.2 207.0 M502.7 139.8 L505.1 140.0 L507.5 140.2 M523.8 134.7 L523.3 133.0 M503.5 138.1 L505.3 137.1 L507.6 136.2 M524.0 132.2 L525.2 133.8 L526.3 135.7 M514.5 154.5 L515.8 152.9 M529.2 154.0 L530.4 152.4 L530.0 150.2 M509.4 157.1 L509.9 155.2 L511.0 153.9 M524.6 155.9 L525.7 157.4 L527.9 158.2 M511.3 194.1 L512.8 196.2 M470.0 112.0 L480.0 104.0 L492.0 96.0 L500.0 90.0 M498.0 108.0 L506.0 100.0 L511.0 95.0 M540.0 119.0 L548.0 113.0 L552.0 109.0" fill="none" stroke="#fff" stroke-width="0.9" stroke-linecap="round" stroke-linejoin="round"/><path d="M185.0 103.2 L192.0 105.0 L198.5 106.8 M186.5 105.6 L193.0 107.4 L197.0 108.6 M190.0 101.8 L195.0 103.0 L199.5 104.6 M188.0 107.8 L192.0 109.0 M164.5 129.7 L168.3 131.3 L171.8 132.4 M175.6 134.0 L179.2 135.1 L183.1 137.0 L186.0 138.0 M177.8 141.0 L182.4 143.1 L186.0 143.5 L188.8 142.7 M192.5 142.6 L196.0 142.5 M227.5 159.2 L232.3 161.0 L235.6 162.3 L240.2 162.6 L244.5 164.6 L240.0 166.5 M290.6 168.9 L292.9 168.6 L296.7 168.6 L299.6 168.8 L303.3 168.8 M306.1 169.7 L308.4 169.9 L312.0 170.5 M117.5 139.3 L120.7 139.3 L123.5 140.9 L127.4 141.5 L129.7 141.7 L132.8 143.2 L135.6 144.4 L138.7 146.3 L142.0 147.0 M59.9 118.0 L63.0 118.4 L66.0 118.9 L68.7 119.8 L71.9 120.5 L74.4 121.6 L77.7 122.9 L81.0 123.9 L84.0 124.5 M150.2 150.2 L153.2 151.2 L155.4 152.9 L159.3 153.8 L162.0 155.2 L164.8 156.3 L168.4 156.5 L172.0 158.0 M127.9 156.0 L131.2 157.2 L134.1 157.9 L136.5 158.2 L139.7 159.8 L142.8 160.7 L145.4 161.2 L148.7 163.1 L152.0 164.0 M185.8 165.8 L189.7 166.4 L193.0 168.4 L195.5 169.5 L199.6 170.8 L202.4 171.5 L206.0 173.0 M47.5 105.1 L48.4 106.6 L50.6 106.6 M262.1 74.2 L264.1 74.6 L266.2 74.8 M245.5 60.8 L247.9 61.5 L250.0 62.5 M264.2 77.4 L265.7 79.0 L267.7 80.3 M340.9 93.2 L343.2 93.4 L344.8 92.7 M365.0 102.2 L366.6 103.0 L367.5 104.3 L369.5 104.0 M333.3 86.3 L334.9 86.6 L337.0 87.6 L339.2 88.0 L341.5 88.4 M341.6 93.0 L343.0 94.5 L344.9 95.2 M347.2 89.0 L348.8 88.8 L350.9 88.4 L353.4 88.0 L354.4 87.0 L355.8 85.1 M317.4 82.1 L318.1 83.9 L318.2 85.8 L318.0 87.5 L317.5 89.6 L317.9 91.8 M348.1 94.5 L349.7 95.6 L351.7 96.2 L353.2 96.4 L355.4 95.9 M380.8 111.4 L383.1 111.7 L385.5 111.6 L387.7 112.1 M354.4 96.8 L355.9 96.7 L358.3 96.7 L360.7 97.2 M381.0 105.1 L380.8 106.7 L380.3 108.6 L381.3 110.9 M369.1 103.1 L370.8 103.2 L372.3 103.8 M336.9 86.1 L337.6 87.4 L339.1 88.7 M275.4 69.4 L277.2 70.8 L279.0 72.7 M329.9 56.5 L330.8 58.0 L332.2 59.2 L334.2 59.8 L335.5 60.6 L336.8 62.8 L338.3 64.0 M358.8 69.9 L360.7 71.0 L362.5 71.9 M361.0 71.1 L362.3 72.9 L364.2 74.2 L365.0 76.2 L366.6 78.0 L366.6 80.0 L367.2 81.7 M345.1 61.0 L347.0 62.0 L348.6 61.5 L350.3 60.9 L352.5 60.2 M368.4 69.7 L370.0 69.2 L371.3 68.8 L373.0 67.5 L373.8 65.7 L375.7 64.7 M323.1 60.1 L325.3 59.7 L326.6 58.9 L328.0 57.4 L329.8 55.9 L332.2 56.3 L334.4 55.9 L336.0 56.1 M354.3 66.0 L356.0 66.7 L358.4 66.4 L360.0 65.2 L361.5 64.2 L362.2 62.2 L362.7 60.3 M380.0 81.2 L381.8 81.9 L383.7 82.0 L385.6 83.2 L387.5 84.4 L389.1 85.5 L390.5 87.1 M361.2 74.4 L362.8 75.9 L364.4 76.3 L366.4 77.2 L367.9 78.0 L368.9 79.5 L370.1 80.7 L371.2 82.1 M315.3 56.8 L317.6 57.2 L319.6 57.2 M323.8 61.8 L326.2 61.6 L328.3 62.1 L330.2 63.1 L331.5 64.3 L332.7 66.4 L333.5 68.2 M380.2 61.5 L382.3 60.6 L384.3 60.0 M362.0 55.2 L362.7 57.0 L364.2 59.0 L365.1 60.2 L365.7 62.0 M349.7 55.3 L351.9 54.6 L353.7 53.9 L355.9 54.0 L357.4 54.5 L359.3 55.2 M360.7 57.3 L362.6 58.4 L364.7 58.4 L366.8 58.2 L368.5 58.5 M381.8 61.4 L382.1 63.7 L381.7 65.9 L381.9 67.9 L381.9 69.5 L382.9 71.3 M343.1 56.4 L345.5 56.0 L347.3 56.0 L349.5 55.8 L351.4 56.2 L353.6 55.6 M489.9 97.0 L492.7 97.9 L495.7 98.5 M400.5 102.3 L403.7 102.5 L406.5 103.5 L409.5 103.8 L412.3 104.2 L415.2 104.5 L418.4 105.1 L421.3 105.3 L424.1 105.5 L427.2 105.0 L430.5 105.1 L433.3 105.7 M434.5 88.8 L437.2 88.9 L440.5 88.2 L443.6 88.3 M488.3 91.9 L490.5 89.9 L492.2 87.3 L494.8 85.6 L497.0 83.4 L499.4 81.6 L501.4 79.7 L503.9 78.0 L506.0 75.7 L508.0 73.6 L510.2 71.0 L512.3 68.9 M426.4 119.2 L429.2 119.1 L432.1 119.0 L435.5 118.9 L438.1 118.8 L441.1 118.4 L444.5 118.2 L447.1 118.0 L450.5 117.6 L453.1 118.1 L456.0 118.2 M429.8 116.2 L432.8 116.3 L435.7 116.5 L439.0 117.2 L442.0 117.2 L444.8 118.1 L447.9 118.3 L450.4 119.5 L453.3 119.6 L456.3 119.6 L459.6 119.3 L462.4 119.9 M468.0 108.3 L470.9 107.9 L474.1 108.3 L477.0 108.3 L479.8 107.8 L482.9 107.5 L486.0 107.3 L488.9 107.3 M429.9 117.4 L432.9 118.1 L435.3 119.8 L438.2 121.0 L440.8 121.5 M404.7 85.7 L407.3 87.2 L410.0 88.4 L412.9 89.7 L415.4 90.8 L418.4 91.5 L421.6 92.3 M405.8 125.5 L408.4 126.7 L411.4 127.1 L414.5 128.0 L417.3 129.2 L420.0 129.4 L422.9 130.2 L425.7 131.4 L429.1 131.5 L432.1 131.6 L435.0 132.1 M494.8 102.0 L497.8 102.7 L500.8 103.0 L503.4 102.5 L506.8 102.7 L509.6 102.7 L512.3 102.8 L515.5 102.8 L518.3 103.5 L521.4 104.1 L524.7 104.1 M449.8 88.3 L452.9 88.2 L455.8 88.2 L458.8 87.3 L461.9 87.1 L464.5 87.4 L467.4 87.2 M410.5 136.0 L413.2 136.7 L416.4 136.7 L419.2 137.1 L422.3 137.5 M440.2 75.0 L443.2 75.7 L446.3 76.7 M424.2 111.6 L427.2 111.6 L430.2 112.2 L433.1 112.5 L435.9 112.6 L438.9 112.4 M477.1 109.9 L480.0 110.7 L482.7 110.8 L485.9 112.2 L488.4 113.0 L491.1 114.5 L494.2 115.8 L496.8 115.9 M452.6 99.5 L455.8 99.8 L458.5 100.8 L461.2 101.7 M497.7 97.2 L500.8 97.0 L503.7 96.7 L506.8 97.2 M496.2 103.8 L499.2 103.5 L502.2 104.2 L505.1 104.5 L508.4 104.2 M430.1 79.1 L432.8 78.1 L435.7 77.2 L438.6 76.5 L441.7 75.4 L444.4 74.6 L446.9 73.2 L449.6 72.4 L452.5 71.0 L455.5 70.0 L458.4 68.5 L461.0 67.3 M444.8 104.0 L447.8 104.1 L450.8 104.7 L453.6 105.0 M496.8 108.3 L499.9 108.8 L502.7 109.5 M471.4 107.4 L474.5 108.2 L477.2 109.0 L480.1 109.6 L482.9 109.8 L485.8 110.6 M420.0 97.5 L423.2 97.2 L425.8 97.3 L428.9 97.5 L431.8 97.3 L435.1 97.0 L438.2 96.2 L441.2 95.5 L443.7 95.6 M501.9 107.5 L504.9 107.5 L507.8 108.0 L511.0 107.5 L513.8 107.9 L517.2 108.3 L520.1 108.5 L522.9 108.8 M501.4 99.7 L504.1 100.4 L507.6 100.7 L510.4 100.2 M411.2 120.1 L414.4 120.3 L417.2 120.0 L420.3 120.7 L423.0 121.1 L426.1 121.4 L429.0 121.9 L432.0 122.9 L434.8 124.5 M422.6 118.2 L424.5 115.8 L425.9 113.2 L427.1 110.4 L428.1 107.5 M443.7 120.4 L446.9 120.6 L449.8 120.8 M465.1 110.0 L468.0 111.2 L470.6 111.8 L473.3 113.0 L476.5 113.6 L479.4 114.0 L482.0 115.3 L485.1 116.1 L487.7 117.4 L491.1 117.6 L493.6 118.2 L496.9 117.9 M488.7 107.2 L491.8 106.5 L494.9 106.4 L497.8 106.3 L500.6 106.2 L503.8 105.3 M451.3 99.7 L454.2 99.2 L457.2 98.7 M375.6 127.2 L375.5 130.0 L375.1 133.4 M363.5 126.8 L362.9 129.6 L363.7 132.7 L363.5 136.0 M378.6 106.2 L378.3 109.3 L378.8 112.3 L378.9 115.3 M350.6 159.5 L352.3 162.0 L354.9 164.0 M358.0 141.4 L360.0 139.4 L361.8 137.0 M280.2 195.7 L282.5 196.2 L284.6 197.4 L286.5 197.5 L288.7 198.4 M233.0 193.9 L234.6 194.8 L236.5 196.2 L238.3 197.9 L240.1 198.9 L242.4 199.4 M265.8 195.1 L267.4 193.5 L269.1 192.0 L270.8 190.9 L271.7 188.9 M258.3 196.0 L265.6 196.2 L271.4 198.6 L278.3 200.3 L284.9 200.5 L291.8 202.2 M385.0 204.9 L388.3 203.1 L392.9 201.1 L395.8 199.4 L400.7 197.0 L404.3 195.0 L408.4 194.1 L412.6 191.6 L416.1 189.5 M306.7 212.3 L311.0 211.3 L316.4 211.7 L320.3 211.9 L324.1 211.6 L328.7 212.1 L333.5 212.0 L337.2 211.8 L342.4 211.4 L346.0 211.9 L351.2 211.2 L355.1 210.7 L359.2 210.1 L363.0 208.8 L367.6 208.0 L372.3 206.5 L376.0 205.9 L380.9 204.6 L385.3 204.1 L388.4 201.5 L392.8 198.7 L396.7 196.5 L400.4 194.5 L404.2 192.6 L407.7 189.7 L411.0 187.6 L415.1 184.9 L418.8 182.2 L422.0 179.6 L425.2 177.3 L428.7 175.1 L432.9 172.5 M376.8 194.6 L381.5 192.5 L384.9 191.0 L388.9 189.5 L393.3 188.0 L397.8 185.8 L401.8 184.1 L405.2 183.4 L409.1 181.7 L413.6 179.2 L417.3 178.4 L420.8 175.4 L424.3 173.6 L428.6 170.4 L431.9 167.9 L435.0 165.8 M374.8 202.9 L378.8 201.4 L383.6 200.0 L387.8 197.6 L391.3 195.8 L394.9 194.4 L399.3 193.2 L403.3 191.4 L407.3 188.8 L411.8 187.0 L415.6 185.4 L418.7 184.6 L422.7 182.4 L426.2 182.0 L430.6 180.0 L433.6 178.0 L437.4 177.3 L441.8 175.0 L444.8 174.3 L449.0 172.4 M375.5 195.6 L379.9 193.1 L383.8 191.0 L388.0 189.5 L391.8 187.7 L394.8 185.7 L399.1 183.3 L403.1 181.8 L406.7 179.5 M351.2 202.4 L355.5 201.3 L359.2 201.1 L362.9 200.0 L367.3 199.2 L371.1 197.9 L375.0 196.4 L379.8 195.9 L382.8 195.0 L386.7 192.9 L390.2 191.1 L394.8 190.0 L398.5 188.6 L401.5 185.9 L405.1 185.0 L409.4 183.1 L413.3 181.3 L416.8 180.1 M348.1 207.5 L352.4 206.8 L356.5 205.6 L360.6 203.8 L364.5 203.1 L368.2 202.3 L372.0 200.6 L376.0 200.0 M342.6 208.8 L346.7 208.4 L350.1 207.2 L354.2 206.6 L358.9 206.3 L362.1 205.0 L365.9 204.6 L370.0 203.1 L374.4 203.0 L377.8 202.3 L381.9 201.2 M263.9 197.0 L267.1 197.9 L269.8 198.0 L272.9 199.0 L276.0 199.2 L278.5 200.4 M242.1 191.1 L245.3 191.3 L248.1 192.1 L250.9 192.1 L253.8 192.5 L257.0 193.2 L260.2 193.5 L263.0 193.6 M222.3 197.5 L225.3 197.3 L228.4 197.7 L231.0 198.0 L234.5 197.8 L237.0 198.3 L240.4 198.0 L243.4 198.5 L246.0 198.4 L249.3 198.2 L252.3 198.7 M303.5 204.1 L306.5 204.1 L309.3 203.7 L312.5 203.5 L315.5 203.3 L318.7 202.9 L321.1 202.7 M379.0 203.5 L382.2 203.6 L384.8 203.9 L387.8 203.7 L391.0 203.4 M442.1 181.4 L442.8 178.3 L444.5 176.0 L445.7 173.1 L447.0 170.6 L448.6 168.1 M461.2 168.4 L463.4 166.6 L465.9 164.3 M411.4 191.3 L411.4 188.4 L412.0 185.6 M397.5 195.2 L400.3 195.5 L403.7 195.2 L406.6 196.1 L409.4 195.9 M435.1 188.4 L437.8 186.5 L439.6 184.6 L442.5 183.0 L445.2 181.8 M447.0 181.0 L449.6 179.8 L452.4 178.4 M380.2 201.3 L382.9 199.8 L385.4 198.0 L387.6 195.7 L389.7 193.9 L391.9 191.8 L393.4 189.3 L395.6 187.1 M446.3 185.2 L449.0 185.2 L452.6 185.4 M407.3 189.1 L409.2 186.6 L410.6 183.9 M389.6 191.4 L391.4 189.1 L392.5 186.1 L393.2 183.4 L394.5 180.3 M430.1 180.0 L433.2 179.4 L436.1 178.2 L438.8 177.8 L441.7 176.5 M429.8 178.3 L432.2 176.3 L435.0 175.2 L437.1 172.9 L439.7 171.7 M487.4 163.2 L490.2 162.4 L493.0 161.3 L495.9 160.3 M462.8 167.2 L465.0 165.7 L467.1 163.4 L469.3 160.9 L471.1 159.2 M472.8 158.9 L475.2 157.8 L478.0 156.2 L480.6 154.7 L483.2 152.6 L485.2 150.5 L487.7 148.9 L490.2 147.2 L492.5 145.8 M449.6 161.6 L452.6 161.2 L455.3 160.4 L457.8 158.6 M454.4 162.2 L457.4 161.8 L460.2 161.8 L463.3 162.1 L466.3 162.2 L469.6 162.9 L472.5 162.7 M512.3 156.5 L515.3 156.2 L518.0 156.7 L521.3 156.3 L524.4 156.5 L527.1 156.0 M458.8 162.5 L461.6 161.9 L464.5 161.5 L467.5 160.9 L470.6 161.2 L473.8 160.6 L476.3 160.3 L479.6 159.5 M537.1 159.8 L539.9 158.7 L543.0 158.2 L545.5 157.1 L548.5 156.3 L551.4 155.5 L553.6 153.9 L556.1 151.6" fill="none" stroke="#fff" stroke-width="0.8" stroke-linecap="round" stroke-linejoin="round"/><path d="M208.7 109.3 L214.8 112.0 M39.8 102.3 L46.0 105.0 L53.8 107.6 L60.0 108.6 M113.1 135.2 L114.8 135.4 L115.8 136.8 L118.0 138.0 M123.5 139.7 L125.6 140.6 L127.2 140.3 L129.4 139.6 M126.1 138.6 L127.7 138.6 M111.6 134.9 L112.0 136.3 L113.4 137.4 M59.1 108.8 L59.8 110.0 L61.3 111.5 M43.2 103.5 L45.2 104.6 L46.5 105.6 L47.5 106.7 M53.3 108.6 L55.2 109.8 L55.9 111.6 L55.4 113.2 M52.6 107.0 L53.0 109.1 L52.5 111.3 M192.0 60.8 L193.0 62.9 M176.8 54.2 L179.1 54.1 L180.7 54.5 L182.2 55.1 M208.5 64.2 L209.7 65.7 L210.5 67.8 M188.5 57.2 L190.3 56.5 L192.1 55.6 M230.1 54.9 L232.2 55.5 L233.7 56.1 M225.5 53.3 L226.8 54.4 M301.3 76.6 L302.8 78.3 L304.4 79.2 M304.7 78.5 L306.6 79.3 L308.9 79.3 L310.5 78.0 M304.4 72.1 L304.8 74.1 L305.5 75.6 L307.2 77.2 M204.3 55.0 L204.8 53.0 M275.5 64.0 L277.3 65.1 M300.2 75.7 L302.2 75.2 L303.6 73.8 L305.0 72.5 M273.9 69.7 L275.6 69.6 M215.9 55.2 L216.7 56.4 L218.2 57.8 L218.4 59.4 M229.7 57.9 L230.3 59.4 L230.3 61.3 M209.2 53.3 L209.9 51.7 L211.0 50.8 L212.9 50.3 M206.5 54.2 L208.0 55.0 M322.4 80.1 L324.4 79.1 L326.3 77.9 L327.0 75.7 M328.8 84.0 L330.0 85.5 M221.1 54.5 L222.1 53.2 M266.6 63.8 L269.0 64.7 M209.5 52.0 L209.9 53.5 M216.0 55.4 L218.0 55.7 L219.6 55.8 L221.7 56.3 M292.3 72.1 L293.7 73.8 L295.0 74.9 L296.5 76.3 M225.4 59.2 L226.7 60.1 L228.0 61.4 M316.8 82.7 L317.8 84.0 L319.5 84.9 M326.1 84.2 L327.5 85.4 L328.6 87.5 M255.6 56.5 L257.0 55.5 M234.3 59.5 L236.0 59.7 M267.9 68.0 L267.8 70.0 M224.0 57.4 L226.1 56.4 L227.9 56.1 M212.6 55.1 L214.5 54.2 M238.7 58.1 L240.9 58.6 M252.9 60.3 L254.5 60.3 L255.7 61.5 L256.6 63.3 M293.1 63.3 L293.9 61.8 L294.8 59.8 M311.6 75.8 L313.9 75.6 L315.4 75.4 M294.6 65.4 L296.0 67.1 L296.2 69.6 M310.2 77.0 L310.3 79.1 L310.0 81.5 M281.5 58.1 L283.9 58.6 L285.7 59.5 M292.7 63.9 L294.2 65.7 L295.5 67.6 M294.5 67.0 L295.9 67.5 L297.8 69.3 M290.7 64.2 L292.8 64.2 L294.5 64.3 L296.0 64.4 M282.2 60.3 L284.7 60.9 M277.6 60.2 L279.8 61.0 M316.3 75.1 L316.4 72.8 M261.4 56.4 L260.7 57.9 L260.7 60.3 M315.8 77.5 L317.4 78.9 L319.2 79.0 L321.4 78.5 M281.9 57.1 L282.3 58.6 M286.0 60.3 L287.3 61.7 L288.6 62.7 M245.7 60.7 L245.5 62.3 M253.4 69.2 L255.1 68.5 L256.8 68.8 M267.7 62.7 L268.9 64.9 L270.7 65.6 L271.3 67.1 M298.3 84.2 L299.2 86.0 L299.2 87.9 L300.5 90.1 M278.4 73.1 L277.9 74.7 L277.3 76.5 M262.2 58.7 L264.5 58.4 L266.8 58.4 M509.4 139.2 L509.6 136.8 L510.6 134.8 M528.9 135.3 L528.0 137.0 M524.0 135.1 L525.2 136.3 M516.5 138.9 L517.6 137.3 L518.4 135.9 M521.2 155.2 L523.3 155.8 M530.3 151.8 L531.2 150.7 M534.2 148.8 L536.4 148.2 M537.8 151.8 L539.4 151.8 M532.5 152.9 L532.8 155.3 M510.4 154.3 L511.7 155.7 M531.0 151.2 L532.7 151.9 M513.0 197.1 L514.8 197.5 L516.7 198.4 M513.3 194.3 L514.4 196.1 M514.2 193.3 L515.7 194.7 L516.8 196.1 M515.6 196.0 L517.5 196.6 L519.2 197.2 M509.4 191.2 L511.2 190.9 M514.8 195.6 L516.3 196.7" fill="none" stroke="#fff" stroke-width="1.2" stroke-linecap="round" stroke-linejoin="round"/><path d="M135.2 143.3 L136.0 145.2 M137.0 142.8 L138.3 144.3 L139.2 146.0 M130.2 140.0 L132.5 139.5 M135.7 141.1 L136.4 139.4 M106.4 131.2 L107.9 133.4 M117.2 136.8 L118.7 138.6 M108.0 130.8 L109.4 132.3 L110.2 133.8 M223.9 55.4 L224.5 53.2 L225.7 52.4 M281.8 65.5 L283.3 67.3 M258.3 60.6 L260.4 61.3 M263.8 57.6 L265.8 58.2 M292.1 72.5 L293.9 72.0 L295.0 70.4 L296.1 68.9 M249.3 57.7 L250.7 58.9 M255.7 59.2 L255.0 60.6 L254.9 63.0 L254.1 64.2 M206.0 52.6 L207.0 54.1 M240.8 55.2 L242.8 55.3 L244.3 54.4 L245.9 53.8 M290.8 77.1 L291.6 78.4 L293.7 79.4 M195.0 51.6 L196.4 52.3 M252.1 58.2 L254.1 58.0 L255.7 59.0 M201.0 51.3 L203.0 52.9 L203.9 54.3 L205.7 55.7 M223.9 58.3 L226.2 59.0 M220.6 55.0 L222.8 55.0 L224.7 55.7 L226.2 56.6 M299.0 76.9 L301.2 75.6 M204.2 52.4 L205.8 51.0 L207.1 49.7 M299.0 77.5 L299.8 79.0 L301.0 80.7 M303.5 78.5 L305.0 79.4 L305.8 80.6 M288.0 67.7 L290.4 67.8 M256.0 61.1 L257.1 59.1 M292.8 63.3 L293.8 65.1 M276.5 56.5 L276.9 58.8 L275.6 60.5 M308.9 70.9 L309.8 72.3 M292.4 63.8 L293.1 65.7 M273.4 59.7 L275.4 59.8 M264.2 55.6 L266.0 54.3 M288.4 64.0 L289.0 65.5 L289.1 67.2 M283.6 56.4 L283.0 57.9 L282.0 59.5 M308.8 68.8 L310.9 68.4 L312.5 67.5 L314.1 68.3 M301.6 71.2 L303.7 71.3 L305.3 71.5 M305.7 71.0 L305.0 73.4 L304.1 75.4 M298.4 67.3 L300.3 67.2 M277.7 61.0 L279.0 61.7 L280.5 63.7 L281.9 64.9 M293.5 65.9 L295.3 66.9 L296.6 68.3 L297.6 70.2" fill="none" stroke="#fff" stroke-width="1.4" stroke-linecap="round" stroke-linejoin="round"/><path d="M243.9 59.8 L245.3 58.3 L247.1 57.6 M316.0 80.6 L317.7 80.2 L320.1 81.0 M212.9 52.0 L215.2 52.4 M207.6 55.2 L209.9 54.8 L212.1 54.9 L213.7 53.7 M278.2 70.0 L280.5 69.7 L282.7 69.5 L284.5 69.4 M285.7 61.3 L287.2 60.1 M267.5 55.9 L269.1 54.2 L271.2 53.5 M318.4 74.4 L318.9 76.2 L319.3 77.8 M299.1 71.4 L300.8 71.1 M297.7 67.9 L298.9 66.9 L300.7 65.7 M312.0 76.2 L314.2 75.9" fill="none" stroke="#fff" stroke-width="1.5" stroke-linecap="round" stroke-linejoin="round"/><path d="M333.6 85.6 L335.6 86.4 L337.9 86.0 L340.4 85.6 L342.2 85.3 L343.4 87.0 M349.4 94.4 L351.2 94.3 L352.8 94.5 L355.0 94.2 M383.4 110.2 L385.0 110.6 L387.2 110.3 L388.8 111.2 M344.4 94.5 L346.9 94.4 L348.5 95.0 M370.2 74.2 L371.8 75.2 L373.5 76.7 L375.4 77.5 L376.4 78.5 L377.7 79.4 M305.2 50.7 L307.5 51.4 L309.8 50.6 L311.5 50.3 L311.6 48.4 L312.5 46.3 M308.5 51.4 L310.3 52.6 L311.2 54.2 L313.3 55.0 L315.3 55.9 L317.3 56.4 M316.2 57.8 L318.2 58.8 L319.3 59.9 L320.9 61.1 L322.6 62.0 L324.8 62.7 M345.1 53.8 L347.3 54.5 L348.7 54.9 L350.6 55.5 L352.8 55.8 M363.7 59.0 L365.4 58.7 L367.2 58.5 L369.0 58.2 L371.4 57.3 L373.0 56.8 M354.6 56.7 L355.9 57.4 L356.9 58.9 M501.4 98.2 L503.9 96.1 L505.8 93.9 L507.5 91.7 M399.5 119.2 L402.5 120.1 L405.4 120.9 L408.3 121.7 L411.2 122.5 L413.9 123.0 L416.6 123.9 L419.4 125.4 L422.1 126.8 L424.9 127.4 M441.7 103.2 L444.2 104.6 L447.0 105.4 L450.2 106.2 M443.3 124.1 L445.0 126.9 L446.3 129.6 L447.1 132.3 L448.7 135.2 M491.3 99.5 L492.2 102.3 L493.1 105.4 L494.2 107.8 L494.8 110.8 M463.5 96.3 L466.6 96.8 L469.7 97.1 L472.3 97.1 L475.4 97.3 M448.0 106.8 L450.7 106.9 L454.2 107.1 L456.7 107.5 L459.7 107.4 M470.3 115.4 L473.2 116.2 L476.2 117.5 L478.8 119.0 L481.2 120.2 L484.1 121.7 L486.6 123.3 M411.3 135.4 L414.6 135.3 L417.2 135.7 L420.3 136.6 L423.2 136.7 M473.9 92.9 L477.1 93.0 L480.1 93.2 M466.6 88.2 L469.5 88.4 L472.5 88.5 L475.6 89.7 L478.3 90.5 L481.3 91.2 L484.3 91.0 L487.5 91.0 M409.5 94.8 L412.3 94.8 L415.6 95.4 L418.4 95.2 L421.7 94.9 L424.4 94.4 L427.3 93.3 L430.1 92.7 L433.0 92.1 L436.3 91.4 L438.7 91.4 M442.1 112.6 L444.4 114.2 L447.4 116.1 L449.6 117.3 M464.6 119.1 L467.7 119.0 L470.5 119.3 L473.4 119.2 L476.8 119.2 M448.8 81.4 L450.3 78.9 L452.1 76.2 L453.8 73.9 L455.5 71.5 M401.7 92.6 L404.9 93.2 L407.8 93.1 L410.9 93.1 L413.4 93.8 L416.7 94.8 M446.5 127.5 L449.1 128.5 L452.2 129.5 L455.2 130.6 L457.9 131.0 L461.0 131.7 L463.7 132.3 M482.8 103.0 L485.5 103.8 L488.5 105.1 L491.2 106.0 L494.3 106.8 L496.9 108.0 L499.6 109.1 L502.1 110.9 M419.6 128.1 L422.8 127.5 L425.4 127.2 M418.7 119.7 L420.7 117.1 L422.3 114.7 L424.4 112.7 L426.4 110.3 L427.9 108.0 L429.8 105.7 L430.9 103.0 M425.8 100.0 L425.7 103.2 L426.0 105.8 L427.0 108.6 L428.3 111.4 M391.4 114.0 L393.9 115.2 L396.6 116.3 M442.4 74.2 L444.2 71.6 L446.1 69.5 L448.4 67.2 L449.9 65.0 L451.0 61.9 L453.1 59.6 L454.9 57.1 L456.3 54.9 M400.3 103.1 L403.1 104.1 L406.3 104.4 L408.8 104.9 L412.3 105.6 L414.9 106.6 L417.9 106.9 L420.7 107.5 L423.7 107.9 L426.8 108.6 L429.4 109.1 M406.5 77.6 L409.2 75.8 L411.9 74.4 L414.2 73.2 L417.0 71.5 L419.6 69.8 L421.9 68.7 L424.7 67.6 L427.3 65.9 L430.0 64.5 L432.8 62.6 L435.2 61.4 M432.8 110.0 L435.6 109.7 L438.8 109.3 L441.6 108.9 L444.8 108.1 L447.5 107.6 L450.3 107.6 L453.9 107.9 L456.9 107.4 L459.8 107.9 L462.6 108.2 M460.6 107.9 L463.5 109.3 L466.1 110.3 L468.3 112.4 L471.0 114.1 L473.1 116.2 L475.4 117.8 L478.1 119.9 L480.4 121.5 L482.7 123.4 L485.1 124.6 M453.6 95.3 L456.8 95.9 L459.5 96.4 M504.7 106.4 L507.3 105.0 L509.4 103.2 L511.9 101.2 L514.5 99.3 L517.1 97.8 L519.8 96.3 L522.3 94.9 L524.4 93.1 M398.5 120.2 L401.1 121.1 L404.0 122.5 M468.9 56.6 L471.5 58.0 L474.3 58.9 L477.1 59.9 L480.2 60.5 L483.4 61.3 M490.9 72.7 L493.9 72.6 L496.6 72.6 L500.1 72.5 L502.9 72.5 M360.8 143.8 L363.3 145.6 L365.4 147.6 L367.9 149.1 M370.2 123.5 L371.9 125.9 M369.6 165.7 L370.8 163.1 L371.9 160.3 M358.7 154.9 L358.7 158.0 L357.8 161.0 L357.2 163.7 L356.5 166.5 M350.3 140.4 L352.8 141.9 L355.6 143.4 L358.6 144.2 L361.0 145.0 M338.4 148.9 L341.3 147.7 M352.6 152.3 L354.6 150.3 L356.7 147.8 L358.2 145.4 L359.9 142.9 M335.7 160.6 L337.4 163.5 L338.7 165.8 M335.6 156.5 L338.3 155.2 M334.4 149.0 L335.1 145.8 M357.4 161.9 L359.4 159.6 L361.8 157.3 M358.1 140.7 L360.9 141.3 L364.0 142.0 L366.8 142.8 L370.1 142.7 M233.0 190.9 L234.4 189.5 L234.8 187.8 L234.9 185.4 L235.3 183.9 L234.5 182.3 L232.8 181.3 M298.4 201.6 L300.0 202.4 L301.6 202.3 M270.0 195.8 L274.7 196.2 L278.6 197.7 L282.7 197.4 L287.0 199.5 L290.5 199.2 M313.5 211.8 L318.2 211.6 L321.4 211.2 L326.3 211.3 L329.8 211.4 L334.0 211.4 L338.1 211.7 L342.4 212.0 L346.3 210.8 L350.9 209.5 L354.9 209.1 L358.8 207.8 L362.6 207.8 L366.8 206.3 L370.4 206.2 L374.1 204.9 L378.6 204.0 L381.9 202.8 L386.8 200.9 L389.9 198.7 L393.5 195.9 L398.2 194.5 L401.3 191.6 L405.0 189.4 L409.3 187.3 M338.3 213.0 L342.1 211.7 L346.6 211.4 L351.2 210.6 L355.2 209.6 L359.8 209.1 L363.7 207.6 L367.9 207.2 L372.2 206.4 L376.4 205.7 L380.9 204.8 L384.6 204.5 L388.8 201.9 L393.3 200.2 L396.2 197.3 L400.5 195.7 L405.1 192.8 L408.7 190.3 L412.5 188.3 M381.1 199.9 L384.2 197.8 L388.8 194.5 L391.9 192.1 L395.8 190.0 L398.9 187.9 L402.9 185.7 L406.6 183.6 L410.8 181.2 L414.3 179.5 L418.9 177.6 L422.7 176.2 L426.5 173.1 L431.0 171.7 L435.1 169.7 M378.0 202.9 L382.2 201.0 L385.3 198.5 L389.5 196.4 L394.0 193.8 L397.3 192.4 L401.6 189.7 L405.0 187.5 L409.2 186.0 L413.2 183.6 L417.0 182.7 L420.5 180.6 L425.0 178.4 L428.3 177.4 L432.3 176.0 L436.1 174.0 L440.4 172.3 M376.0 202.0 L379.6 200.8 L382.9 199.5 L386.4 197.2 L390.8 195.7 L393.7 194.3 L398.0 192.4 L401.4 190.7 L405.7 189.5 L408.7 188.3 L412.9 186.2 M305.5 197.4 L308.7 197.9 L311.6 198.9 L314.4 199.5 L317.4 199.7 L320.1 199.7 L323.2 200.3 M251.7 203.1 L254.8 202.8 L257.8 202.7 L260.5 202.2 L263.5 202.7 L266.4 202.4 L269.8 202.4 L272.5 201.7 L275.5 202.0 L278.9 201.7 L281.7 201.9 L284.3 202.3 M229.0 194.4 L232.1 194.7 L234.6 195.9 L237.6 197.0 L240.2 198.2 L243.0 198.9 L246.3 199.9 L249.1 199.7 L251.9 201.0 L254.9 201.4 M223.3 193.2 L225.4 195.2 L228.0 196.6 L230.5 199.0 L232.6 200.8 L235.0 203.0 L236.9 204.6 L239.2 206.4 L241.6 208.6 L243.9 210.6 L246.1 212.6 L248.2 214.4 L250.5 216.5 M318.2 214.2 L321.0 215.6 L323.3 216.7 L326.5 218.1 L329.2 218.7 L331.8 220.0 L335.0 221.2 L337.8 222.0 L340.8 222.8 L343.5 224.0 L345.8 225.3 L348.5 226.6 M296.0 199.0 L298.8 200.1 L301.8 201.1 L304.4 202.0 M259.3 195.5 L262.4 196.1 L265.2 196.4 L268.0 196.9 L271.3 197.8 L274.2 197.9 L277.3 198.5 L280.2 198.6 L282.8 198.7 L286.3 199.1 L289.2 199.1 L291.7 198.7 L294.7 198.9 L298.1 199.4 M414.6 180.5 L417.6 179.7 L420.7 179.0 L423.4 178.2 M454.4 177.5 L455.1 174.8 L455.4 171.7 L455.4 168.4 L455.6 165.3 L456.0 162.6 M379.9 202.8 L382.2 200.7 L384.5 198.9 L386.8 196.7 L389.0 194.9 L390.9 192.5 L393.5 191.1 M454.6 169.9 L455.3 167.1 L456.7 164.2 L457.9 161.6 M436.0 177.7 L438.2 175.3 L440.5 173.4 L442.3 171.7 L444.5 169.6 L446.8 167.7 L449.0 165.3 L450.5 162.7 L453.0 160.5 M420.1 186.7 L423.1 186.3 L426.2 186.5 L428.9 186.2 L432.0 185.9 L434.7 184.8 M396.0 188.6 L398.6 188.2 L401.6 187.0 L404.9 186.3 L407.6 185.0 L410.2 183.8 L412.8 183.3 L415.8 182.8 L419.2 181.6 M408.5 190.5 L411.4 190.6 L414.6 189.6 L417.4 189.3 L420.6 189.9 L423.1 190.9 L425.9 191.1 L428.9 191.5 M465.4 161.1 L468.1 160.5 L471.4 160.5 L474.2 160.3 M452.3 160.5 L454.7 158.5 L457.3 157.4 L459.9 155.1 L462.4 154.1 M458.8 163.4 L461.6 163.8 L464.8 164.3 M472.3 161.4 L475.0 160.4 L477.8 158.9 L480.6 157.8 M465.1 162.8 L467.8 162.1 L471.1 161.8 L474.1 161.1 L477.2 161.5 L480.0 161.0 L482.8 160.3 M488.4 162.9 L491.5 162.3 L494.0 161.5" fill="none" stroke="#fff" stroke-width="0.7" stroke-linecap="round" stroke-linejoin="round"/><path d="M474.4 104.7 L477.2 104.6 L480.4 104.8 L483.7 105.0 L486.4 105.3 L489.3 105.4 L492.4 105.1 L495.4 105.5 L498.1 105.2 L501.1 105.8 L504.5 106.7 L507.3 106.7 M482.8 87.1 L485.5 85.5 L487.7 83.6 L489.6 81.5 L492.3 80.1 L495.2 78.7 L497.4 76.8 L499.7 74.9 L502.8 73.7 L505.3 72.0 M429.7 106.6 L432.1 105.0 L434.6 103.6 L437.1 101.3 L438.7 99.3 L441.1 96.7 L443.3 95.4 M430.7 105.9 L433.9 105.6 L436.8 105.2 L439.4 105.2 M496.1 97.9 L499.1 98.9 L501.7 99.5 L504.9 100.5 L507.8 101.6 L510.0 102.6 L512.9 104.0 L515.5 105.2 L518.6 106.5 L521.3 107.8 L523.8 109.5 L526.2 110.4 M416.6 86.6 L419.4 87.3 L422.3 87.8 L425.6 88.2 L428.2 88.7 L431.2 88.5 L434.5 88.3 M427.7 85.1 L430.4 85.0 L433.7 84.7 L436.6 85.4 L439.8 85.7 L442.7 85.9 L445.9 85.6 L448.7 85.4 L451.8 85.3 L454.7 85.2 M445.6 130.3 L448.3 131.1 L451.7 131.5 L454.2 132.0 L456.9 133.6 L460.3 134.0 L463.3 134.9 L465.4 136.3 L468.3 137.0 L471.2 137.5 M461.4 84.8 L464.4 85.2 L467.2 85.4 L470.6 86.0 L473.1 86.6 L476.3 87.2 L479.4 87.9 L482.3 88.2 L484.8 88.8 L487.9 88.6 L491.2 88.8 M451.5 117.4 L454.1 118.5 L457.1 118.7 L460.5 119.6 L463.0 120.8 L466.0 121.4 L468.5 122.6 L471.1 123.9 L474.3 125.0 L477.3 125.0 L480.2 125.3 M407.0 75.5 L410.3 75.8 L413.0 76.7 L416.1 77.5 L419.0 78.1 L421.8 79.1 L424.5 80.4 L427.5 80.4 L430.5 81.2 M424.7 84.7 L427.9 84.2 L430.8 84.2 L433.7 83.9 L436.9 83.4 L439.6 83.2 L442.5 83.0 L445.6 83.3 M446.1 75.1 L448.9 75.8 L452.0 76.6 L454.8 77.0 L458.0 77.5 L461.0 77.6 L464.1 78.5 M417.9 79.9 L420.3 81.7 L422.3 84.0 L424.5 85.7 M403.7 85.5 L406.8 86.4 L409.6 86.7 L412.7 87.5 L415.7 88.6 L418.1 89.0 L420.9 89.5 L424.0 90.1 L427.2 91.0 L430.0 91.4 M425.9 112.2 L428.9 112.8 L431.6 113.3 M428.0 75.6 L431.0 76.1 L434.2 76.1 L437.0 76.5 L439.9 77.0 L442.9 77.1 L446.1 77.6 L448.9 78.2 L451.9 78.7 L454.7 79.4 L458.0 79.6 M491.4 114.3 L494.3 114.8 L497.2 116.1 L499.8 117.2 M478.6 113.2 L481.3 112.8 L484.2 112.4 L487.7 111.5 L490.3 110.9 L493.4 109.6 L496.0 108.7 M411.7 94.2 L414.6 94.6 L417.3 95.7 L420.4 96.6 L422.9 97.4 L426.5 97.5 L428.8 98.4 M422.2 114.5 L424.7 113.1 L427.8 111.6 L430.3 110.7 L432.6 108.8 M409.9 136.0 L412.7 136.1 L415.6 136.6 L418.9 136.9 L421.5 137.5 L424.6 137.5 L427.7 137.7 L430.6 137.8 M463.3 109.3 L466.4 109.0 L469.3 109.1 L472.1 109.0 L475.5 109.0 L478.1 109.4 M409.4 107.9 L411.4 105.4 L412.9 102.8 L415.2 100.7 L416.5 98.3 L418.0 95.5 L419.5 93.1 L421.6 90.8 M449.8 101.3 L452.3 102.0 L455.1 103.5 L458.3 104.3 L461.2 105.6 L464.2 106.4 M430.1 62.6 L432.6 64.0 L435.3 65.7 M429.9 61.9 L433.0 62.6 L435.8 62.5 M371.3 148.3 L370.7 151.1 L371.1 154.2 L372.1 157.4 M359.0 151.0 L361.1 148.9 L363.0 146.2 L365.2 144.6 M371.5 154.4 L374.3 154.4 L377.2 154.6 L380.6 154.4 L383.4 154.0 M380.2 109.5 L382.3 111.3 L384.7 112.9 L387.5 114.5 L390.2 115.8 M379.3 104.5 L379.8 101.6 L380.7 98.4 M380.8 106.0 L383.0 108.3 L384.7 110.5 M342.3 140.3 L344.4 138.1 M363.2 151.4 L366.2 150.9 L369.0 150.5 M316.0 202.7 L319.7 202.9 L324.3 203.7 L329.2 203.6 L333.0 204.2 L337.0 204.9 L341.3 205.7 L346.3 205.8 L349.5 204.6 L353.9 203.7 L357.2 203.5 L361.9 203.1 L365.7 201.3 L370.2 201.0 L374.4 199.9 L377.6 198.9 L381.8 198.5 M376.5 199.1 L380.0 197.9 L384.4 195.4 L388.0 194.9 L391.5 192.2 L396.4 191.6 L400.0 189.1 L403.7 188.3 L408.2 185.8 L412.0 185.0 L415.7 182.9 L419.6 180.8 L423.4 179.5 L427.7 176.8 L431.5 174.8 L435.1 173.0 L438.8 171.1 L442.4 169.4 M343.2 204.9 L348.0 204.3 L352.5 203.3 L356.6 202.2 L361.7 201.7 L365.5 200.1 L369.7 199.2 L373.8 199.1 L378.3 197.5 L382.4 195.1 L385.9 193.4 L390.5 190.4 L394.1 188.4 L398.3 186.2 L401.9 184.6 L405.8 181.8 M374.6 204.3 L379.3 202.2 L382.5 200.6 L385.7 198.4 L389.7 196.9 L393.5 195.1 L397.9 193.1 L400.6 190.8 L405.2 189.6 L408.4 187.3 L411.7 185.7 L416.4 184.3 L419.4 183.3 L423.4 181.5 L427.2 180.5 L431.3 178.3 L434.2 176.8 L437.9 175.4 L441.3 174.6 L445.5 172.7 M348.9 206.2 L353.1 205.0 L356.7 203.5 L361.6 202.9 L364.6 201.9 L369.2 200.4 L373.3 199.7 L376.5 199.3 L380.6 196.8 L384.1 195.9 L388.3 194.0 L392.3 192.2 L395.4 191.0 L399.3 189.0 L402.9 187.8 L407.4 186.5 L410.6 184.8 L414.8 182.8 M311.8 207.7 L314.5 208.8 L317.3 209.8 L319.9 211.1 L323.2 212.3 L325.5 213.1 L328.8 213.5 L331.8 213.9 M268.2 194.2 L271.2 193.9 L274.1 194.2 L277.0 193.8 L280.3 194.0 L283.1 194.0 L286.1 194.2 L289.0 193.8 L291.9 193.6 L295.1 193.5 L298.3 192.8 L301.0 192.4 L304.0 192.4 M269.0 200.4 L271.7 200.8 L275.0 201.3 L277.8 201.6 L280.9 201.5 L283.7 202.3 L286.8 202.3 M381.1 197.5 L383.4 195.5 L386.0 193.4 L388.6 192.3 L391.2 190.9 M451.1 180.6 L454.3 179.7 L456.7 178.1 L458.8 176.3 L461.7 174.7 L464.6 174.1 L467.1 173.0 M432.7 183.0 L435.9 182.7 L438.5 182.8 L441.6 183.9 M433.8 185.5 L436.6 185.3 M438.1 174.5 L440.2 172.4 L441.7 169.6 L442.7 166.6 L444.1 164.2 L446.1 161.6 L448.3 159.8 L450.1 157.4 M412.2 192.5 L415.2 192.5 L418.2 193.2 L421.2 193.7 M398.2 186.7 L399.1 183.6 L400.6 181.1 L401.9 178.6 L403.9 176.1 L406.3 174.2 M421.4 175.8 L422.6 173.4 L424.1 170.3 M430.4 174.2 L433.6 174.1 L436.6 173.7 L439.5 173.8 L442.2 174.2 L444.9 174.9 L447.9 175.8 M439.4 177.4 L439.7 174.4 L438.9 171.2 L438.4 168.3 L437.0 165.6 L435.9 163.1 L435.4 159.9 M419.6 182.1 L419.3 178.9 L418.7 176.5 L418.0 173.0 L417.2 170.5 L416.1 167.5 M477.4 162.3 L480.4 162.1 L483.2 161.7 L486.5 161.3 L489.4 161.9 L492.3 161.7 L495.3 161.4 M487.9 163.5 L490.8 162.7 L493.6 161.5 M454.9 162.5 L457.6 162.8 L460.6 162.4 L463.6 162.8 L466.8 163.1 L469.6 162.5 L472.9 162.0 M519.2 158.2 L521.9 157.9 L525.3 157.1 L528.2 156.2 L531.1 155.7 L533.7 155.1 L536.8 154.1 M520.8 159.9 L523.3 158.8 L526.3 158.6 L529.3 158.1 L532.5 157.3 L535.1 157.1 L538.1 156.6 L541.0 155.9" fill="none" stroke="#fff" stroke-width="0.6" stroke-linecap="round" stroke-linejoin="round"/><path d="M449.5 71.4 L451.8 73.3 L454.1 75.1 L457.1 76.4 L459.5 77.6 M366.8 164.3 L366.1 167.3 M379.7 117.7 L380.2 120.5 L380.5 123.6 M371.6 110.6 L369.5 113.1 L367.2 114.7 M456.1 172.8 L457.2 170.0 L459.6 168.0 L461.1 165.1 L463.0 162.8 L465.0 160.9 M418.3 190.9 L420.3 188.8 L423.0 187.6 L426.2 186.5 L428.8 185.1 L430.8 183.4 M435.8 183.1 L438.6 182.9 L441.5 182.5 L445.0 181.9 L447.8 181.9 L450.8 181.8 L454.0 181.4 L456.9 181.0 L459.8 180.4 M410.6 194.2 L413.9 194.3 L416.4 194.9 M468.9 159.6 L472.1 159.4 L474.8 159.8 L478.1 160.1 L480.7 160.6 M506.3 160.7 L509.2 160.4 L512.2 159.6 L515.4 159.0 L518.1 158.5 M505.6 163.2 L508.1 162.1 L511.1 161.5 L514.1 161.4 L517.5 161.4" fill="none" stroke="#fff" stroke-width="0.5" stroke-linecap="round" stroke-linejoin="round"/></g>
<g id="coast"><path d="M38.6 129.0 L44.0 130.8 L51.7 133.7 L56.0 137.0 L59.0 141.0 L63.4 146.1 L68.0 150.0 L72.1 152.7 L76.5 154.9 L82.0 158.0 L92.0 160.5 L100.0 161.5 L108.0 162.8 L114.0 163.5 L118.0 164.0 L123.0 166.6 L127.0 168.0 L131.0 170.0 L134.0 171.5 L135.6 176.4 L137.0 172.5 L141.0 174.0 L146.0 173.0 L150.0 175.0 L155.0 176.0 L160.0 175.5 L166.0 178.0 L172.0 180.0 L178.0 182.0 L184.0 184.5 L190.0 186.0 L196.0 185.5 L202.8 184.3 L215.0 186.9 L217.7 191.3 L219.4 195.7 L216.8 197.4 L217.7 200.0 L221.2 201.8 L230.8 207.9 L237.8 208.8 L250.0 207.9 L257.0 210.6 L267.6 212.3 L271.0 214.0 L278.0 213.2 L285.0 211.4 L292.0 212.3 L297.4 215.8 L300.0 217.6 L304.0 216.0 L308.0 218.5 L312.0 217.0 L316.0 221.0 L318.0 223.0 M148.0 158.1 L152.0 162.0 L156.8 166.9 L162.6 171.3 L166.0 175.0 M356.0 223.0 L358.0 221.0 L365.3 215.0 L372.3 211.4 L381.0 208.8 L388.0 207.0 L395.0 206.0 L402.0 204.4 L410.0 200.0 L414.0 197.0 L418.0 194.5 L423.0 195.5 L426.0 197.5 L430.0 196.5 L432.0 193.5 L436.0 190.5 L442.0 188.5 L450.0 187.5 L460.0 186.8 L470.0 184.9 L482.8 186.5 L492.5 189.7 L498.9 194.5 L504.5 198.5 L510.0 197.0 L518.0 201.0 L526.2 206.6 L531.0 205.8 L535.8 208.2 L542.3 212.2 L547.0 210.6 L553.5 210.6 L556.7 209.8 L560.0 214.6 L557.5 217.0 L562.3 218.6 L564.8 221.8 L570.0 223.0 M189.0 55.7 L187.9 56.9 L186.2 57.3 L184.2 57.1 L182.4 56.1 L181.1 54.6 L180.6 52.9 L181.0 51.3 L182.1 50.1 L183.8 49.7 L185.8 49.9 L187.6 50.9 L188.9 52.4 L189.4 54.1 L189.0 55.7 M255.5 62.4 L254.5 64.0 L253.2 65.0 L251.7 65.2 L250.3 64.7 L249.5 63.4 L249.2 61.8 L249.7 60.0 L250.7 58.4 L252.0 57.4 L253.5 57.2 L254.9 57.7 L255.7 59.0 L256.0 60.6 L255.5 62.4 M434.0 213.5 L438.0 211.0 L441.5 211.5 L444.0 209.2 L449.5 209.6 L450.4 212.0 L447.0 214.5 L442.0 215.4 L438.5 213.8 L434.0 213.5 M103.0 133.0 L107.0 132.0 L111.0 134.0 L116.0 133.5 L119.0 131.5 L117.0 135.0 L110.0 137.0 L105.0 136.0 L103.0 133.0 M225.2 157.6 L228.0 157.6 L228.0 160.4 L225.2 160.4 L225.2 157.6" fill="none" stroke="#0a0a0a" stroke-width="1.0" stroke-linejoin="round"/><path d="M39.6 56.5 L40.8 58.0 L40.2 60.0 L41.4 61.5 L40.6 63.2 L41.8 64.5 M52.4 52.6 L53.6 53.4 L54.2 56.6 L55.2 54.2 L56.4 53.2 M117.5 72.2 L119.5 71.4 L121.0 72.6 L123.0 72.0 L124.5 73.6 L126.5 72.4 L128.0 73.0 L129.0 74.6 M120.0 73.6 L122.5 74.6 L125.5 74.8 M163.4 92.6 L163.8 95.6 L165.4 96.0 L165.0 93.4" fill="none" stroke="#0a0a0a" stroke-width="1.3" stroke-linejoin="round" stroke-linecap="round"/><ellipse cx="274.9" cy="67.6" rx="2.0" ry="1.2" fill="#0a0a0a"/><ellipse cx="310.8" cy="72.0" rx="1.6" ry="1.0" fill="#0a0a0a"/><ellipse cx="270.9" cy="116.3" rx="0.9" ry="2.6" fill="#0a0a0a"/><ellipse cx="357.2" cy="129.0" rx="1.8" ry="1.5" fill="#0a0a0a"/><ellipse cx="507.0" cy="198.0" rx="2.0" ry="1.2" fill="#0a0a0a"/><ellipse cx="558.5" cy="216.6" rx="1.6" ry="0.9" fill="#0a0a0a"/></g>
<g id="deco"><rect x="57.3" y="197.1" width="47.5" height="3.9" fill="#fff" stroke="#000" stroke-width="0.8"/><rect x="57.3" y="197.1" width="9.5" height="3.9" fill="#000"/><rect x="76.3" y="197.1" width="9.5" height="3.9" fill="#000"/><rect x="95.3" y="197.1" width="9.5" height="3.9" fill="#000"/><path d="M57.3 197.1 V203.4 M104.8 197.1 V203.4" stroke="#000" stroke-width="0.8"/><g font-size="12.2" fill="#1a1a1a" text-anchor="middle"><text x="81" y="189.4">km</text><text x="57" y="215.4">0</text><text x="104.5" y="215.4">100</text></g><path d="M549.8 78.6 L535.5 66.1 L549.8 74.9 Z" fill="#000"/><path d="M549.8 78.6 L535.5 66.1 L546.1 78.6 Z" fill="#fff"/><path d="M549.8 78.6 L563.3 64.5 L549.8 74.9 Z" fill="#fff"/><path d="M549.8 78.6 L563.3 64.5 L553.5 78.6 Z" fill="#000"/><path d="M549.8 78.6 L564.0 91.7 L553.5 78.6 Z" fill="#fff"/><path d="M549.8 78.6 L564.0 91.7 L549.8 82.3 Z" fill="#000"/><path d="M549.8 78.6 L536.9 93.3 L549.8 82.3 Z" fill="#fff"/><path d="M549.8 78.6 L536.9 93.3 L546.1 78.6 Z" fill="#000"/><path d="M535.5 66.1 L549.8 74.9 L563.3 64.5 L553.5 78.6 L564.0 91.7 L549.8 82.3 L536.9 93.3 L546.1 78.6 Z" fill="none" stroke="#000" stroke-width="0.7" stroke-linejoin="miter"/><text transform="translate(531.7,63.1) rotate(-45)" font-size="7.2" text-anchor="middle" y="2.5" fill="#000">N</text><text transform="translate(565.9,61.7) rotate(45)" font-size="7.2" text-anchor="middle" y="2.5" fill="#000">E</text><text transform="translate(567.8,95.9) rotate(135)" font-size="7.2" text-anchor="middle" y="2.5" fill="#000">S</text><text transform="translate(532.7,97.8) rotate(-135)" font-size="7.2" text-anchor="middle" y="2.5" fill="#000">W</text></g>
</defs>
<rect width="685" height="640" fill="#fff"/>
<text x="14.6" y="14.2" font-size="15.8" font-weight="bold" fill="#1a1a1a">a) Original Fig. 1</text>
<text x="14.6" y="345.2" font-size="15.8" font-weight="bold" fill="#1a1a1a">b) Corrected Fig. 1</text>
<g transform="translate(0,0)">
<rect x="38.6" y="50.2" width="539.1" height="171.7" fill="#818181"/>
<g clip-path="url(#clipmap)">
<use href="#faults"/>
<circle cx="81.6" cy="159.3" r="11.0" fill="#f2d632"/>
<circle cx="85.9" cy="160.4" r="11.0" fill="#f2d632"/>
<circle cx="90.2" cy="161.4" r="11.0" fill="#f2d732"/>
<circle cx="94.6" cy="162.1" r="11.0" fill="#f2d732"/>
<circle cx="99.0" cy="162.7" r="11.0" fill="#f1d832"/>
<circle cx="103.5" cy="163.2" r="11.0" fill="#f1d832"/>
<circle cx="107.9" cy="163.8" r="11.0" fill="#f1d932"/>
<circle cx="112.3" cy="164.5" r="11.0" fill="#f1d932"/>
<circle cx="116.7" cy="165.3" r="11.0" fill="#f1da32"/>
<circle cx="121.1" cy="166.0" r="11.0" fill="#f1da32"/>
<circle cx="125.5" cy="166.7" r="11.0" fill="#f0dc32"/>
<circle cx="129.9" cy="167.2" r="11.0" fill="#f0dd32"/>
<circle cx="134.3" cy="167.7" r="11.0" fill="#efdf31"/>
<circle cx="138.6" cy="168.8" r="11.0" fill="#efe031"/>
<circle cx="142.8" cy="170.3" r="11.0" fill="#efe131"/>
<circle cx="146.9" cy="171.9" r="11.0" fill="#eee231"/>
<circle cx="151.2" cy="173.2" r="11.0" fill="#efe131"/>
<circle cx="155.5" cy="174.3" r="11.0" fill="#f1d732"/>
<circle cx="159.8" cy="175.4" r="11.0" fill="#f4ce33"/>
<circle cx="164.1" cy="176.5" r="11.0" fill="#f5c535"/>
<circle cx="168.5" cy="177.1" r="11.0" fill="#f5b43c"/>
<circle cx="172.9" cy="177.8" r="11.0" fill="#f4a145"/>
<circle cx="177.3" cy="178.4" r="11.0" fill="#ef914e"/>
<circle cx="181.7" cy="179.4" r="11.0" fill="#ec8556"/>
<circle cx="186.1" cy="180.0" r="11.0" fill="#e97f59"/>
<circle cx="190.5" cy="180.0" r="11.0" fill="#e67a5d"/>
<circle cx="195.0" cy="180.0" r="11.0" fill="#e37560"/>
<circle cx="199.4" cy="180.0" r="11.0" fill="#ea8158"/>
<circle cx="203.9" cy="180.1" r="11.0" fill="#ee8d51"/>
<circle cx="208.3" cy="180.3" r="11.0" fill="#f29949"/>
<circle cx="212.8" cy="180.4" r="11.0" fill="#f5a642"/>
<circle cx="217.0" cy="179.4" r="11.0" fill="#f5ad3f"/>
<circle cx="221.0" cy="177.5" r="11.0" fill="#f5ad3f"/>
<circle cx="81.6" cy="154.8" r="9.0" fill="#f5a443"/>
<circle cx="85.9" cy="155.9" r="9.0" fill="#f5a443"/>
<circle cx="90.2" cy="156.9" r="9.0" fill="#f5a443"/>
<circle cx="94.6" cy="157.6" r="9.0" fill="#f5a443"/>
<circle cx="99.0" cy="158.2" r="9.0" fill="#f5a443"/>
<circle cx="103.5" cy="158.7" r="9.0" fill="#f5a443"/>
<circle cx="107.9" cy="159.3" r="9.0" fill="#f5a443"/>
<circle cx="112.3" cy="160.0" r="9.0" fill="#f5a443"/>
<circle cx="116.7" cy="160.8" r="9.0" fill="#f5a443"/>
<circle cx="121.1" cy="161.5" r="9.0" fill="#f5a443"/>
<circle cx="125.5" cy="162.2" r="9.0" fill="#f5a443"/>
<circle cx="129.9" cy="162.7" r="9.0" fill="#f5a443"/>
<circle cx="134.3" cy="163.2" r="9.0" fill="#f5a443"/>
<circle cx="138.6" cy="164.3" r="9.0" fill="#f5a443"/>
<circle cx="142.8" cy="165.8" r="9.0" fill="#f5a443"/>
<circle cx="146.9" cy="167.4" r="9.0" fill="#f5a443"/>
<circle cx="151.2" cy="168.7" r="9.0" fill="#f5a443"/>
<circle cx="155.5" cy="169.8" r="9.0" fill="#f5a244"/>
<circle cx="159.8" cy="170.9" r="9.0" fill="#f4a045"/>
<circle cx="164.1" cy="172.0" r="9.0" fill="#f49e46"/>
<circle cx="168.5" cy="172.6" r="9.0" fill="#f39c48"/>
<circle cx="172.9" cy="173.3" r="9.0" fill="#f29a49"/>
<circle cx="177.3" cy="173.9" r="9.0" fill="#f29a49"/>
<circle cx="181.7" cy="174.9" r="9.0" fill="#f39c47"/>
<circle cx="186.1" cy="175.5" r="9.0" fill="#f49e46"/>
<circle cx="190.5" cy="175.5" r="9.0" fill="#f4a045"/>
<circle cx="195.0" cy="175.5" r="9.0" fill="#f5a344"/>
<circle cx="199.4" cy="175.5" r="9.0" fill="#f5a543"/>
<circle cx="203.9" cy="175.6" r="9.0" fill="#f5a742"/>
<circle cx="208.3" cy="175.8" r="9.0" fill="#f5a941"/>
<circle cx="212.8" cy="175.9" r="9.0" fill="#f5ac40"/>
<circle cx="217.0" cy="174.9" r="9.0" fill="#f5ad3f"/>
<circle cx="221.0" cy="173.0" r="9.0" fill="#f5ad3f"/>
<circle cx="181.0" cy="147.3" r="11.0" fill="#bf4385"/>
<circle cx="185.2" cy="147.8" r="11.0" fill="#c04485"/>
<circle cx="189.2" cy="149.1" r="11.0" fill="#c24683"/>
<circle cx="193.1" cy="150.9" r="11.0" fill="#da646c"/>
<circle cx="197.0" cy="152.4" r="11.0" fill="#ed8754"/>
<circle cx="201.0" cy="153.7" r="11.0" fill="#f5a642"/>
<circle cx="205.0" cy="155.3" r="11.0" fill="#f5c336"/>
<circle cx="182.0" cy="149.8" r="10.5" fill="#d8626e"/>
<circle cx="186.2" cy="150.3" r="10.5" fill="#d9636d"/>
<circle cx="190.2" cy="151.6" r="10.5" fill="#db666b"/>
<circle cx="194.1" cy="153.4" r="10.5" fill="#ed8754"/>
<circle cx="198.0" cy="154.9" r="10.5" fill="#f5ad3f"/>
<circle cx="202.0" cy="156.2" r="10.5" fill="#f5c635"/>
<circle cx="206.0" cy="157.8" r="10.5" fill="#f5cc33"/>
<circle cx="67.0" cy="116.2" r="11.0" fill="#f39d47"/>
<circle cx="71.2" cy="117.1" r="11.0" fill="#f39c48"/>
<circle cx="75.5" cy="117.9" r="11.0" fill="#f39c48"/>
<circle cx="79.7" cy="118.8" r="11.0" fill="#f39b48"/>
<circle cx="84.0" cy="119.5" r="11.0" fill="#f29b48"/>
<circle cx="88.3" cy="120.2" r="11.0" fill="#f29a49"/>
<circle cx="92.6" cy="120.9" r="11.0" fill="#f29a49"/>
<circle cx="96.8" cy="121.6" r="11.0" fill="#ef904f"/>
<circle cx="101.1" cy="122.2" r="11.0" fill="#e77c5c"/>
<circle cx="105.4" cy="122.8" r="11.0" fill="#dd6969"/>
<circle cx="109.7" cy="123.5" r="11.0" fill="#d05776"/>
<circle cx="114.0" cy="123.7" r="11.0" fill="#cd5279"/>
<circle cx="118.1" cy="125.0" r="11.0" fill="#d45c72"/>
<circle cx="122.1" cy="126.7" r="11.0" fill="#d9636d"/>
<circle cx="126.0" cy="128.6" r="11.0" fill="#dd6869"/>
<circle cx="129.7" cy="130.8" r="11.0" fill="#df6e66"/>
<circle cx="133.5" cy="133.0" r="11.0" fill="#e27362"/>
<circle cx="137.4" cy="134.8" r="11.0" fill="#e37560"/>
<circle cx="141.3" cy="136.6" r="11.0" fill="#e37560"/>
<circle cx="145.0" cy="138.9" r="11.0" fill="#e37560"/>
<circle cx="148.7" cy="141.2" r="11.0" fill="#e37560"/>
<circle cx="152.3" cy="143.6" r="11.0" fill="#e17064"/>
<circle cx="156.1" cy="145.7" r="11.0" fill="#dc6869"/>
<circle cx="160.0" cy="147.4" r="11.0" fill="#d7616f"/>
<circle cx="163.7" cy="149.7" r="11.0" fill="#d25a74"/>
<circle cx="167.4" cy="152.0" r="11.0" fill="#cd5379"/>
<circle cx="170.8" cy="154.6" r="11.0" fill="#cb507b"/>
<circle cx="174.3" cy="157.2" r="11.0" fill="#d25a74"/>
<circle cx="177.8" cy="159.8" r="11.0" fill="#d9646d"/>
<circle cx="181.7" cy="161.5" r="11.0" fill="#e27262"/>
<circle cx="185.8" cy="162.9" r="11.0" fill="#ec8555"/>
<circle cx="190.1" cy="163.8" r="11.0" fill="#f29949"/>
<circle cx="194.3" cy="164.7" r="11.0" fill="#f29949"/>
<circle cx="412.2" cy="75.3" r="11.2" fill="#f4a145"/>
<circle cx="409.0" cy="78.4" r="11.2" fill="#f4a145"/>
<circle cx="406.0" cy="81.7" r="11.2" fill="#f49f46"/>
<circle cx="403.1" cy="85.1" r="11.2" fill="#f39d47"/>
<circle cx="400.4" cy="88.7" r="11.2" fill="#f29a49"/>
<circle cx="397.8" cy="92.3" r="11.2" fill="#f2974a"/>
<circle cx="395.4" cy="96.1" r="11.2" fill="#f1954c"/>
<circle cx="393.1" cy="99.9" r="11.2" fill="#f0924e"/>
<circle cx="391.0" cy="103.9" r="11.2" fill="#ef904f"/>
<circle cx="389.2" cy="107.9" r="11.2" fill="#ef8e50"/>
<circle cx="387.6" cy="112.1" r="11.2" fill="#ee8c51"/>
<circle cx="386.4" cy="116.4" r="11.2" fill="#ed8a53"/>
<circle cx="385.5" cy="120.8" r="11.2" fill="#ed8754"/>
<circle cx="384.6" cy="125.2" r="11.2" fill="#ec8555"/>
<circle cx="384.0" cy="129.6" r="11.2" fill="#eb8357"/>
<circle cx="383.4" cy="134.0" r="11.2" fill="#e98059"/>
<circle cx="382.8" cy="138.4" r="11.2" fill="#e87d5b"/>
<circle cx="382.2" cy="142.9" r="11.2" fill="#e67a5d"/>
<circle cx="381.5" cy="147.3" r="11.2" fill="#e4775f"/>
<circle cx="380.8" cy="151.7" r="11.2" fill="#e27263"/>
<circle cx="380.2" cy="156.1" r="11.2" fill="#dd6a68"/>
<circle cx="379.0" cy="160.4" r="11.2" fill="#d8626e"/>
<circle cx="377.5" cy="164.6" r="11.2" fill="#d35b73"/>
<circle cx="375.4" cy="168.6" r="11.2" fill="#c94e7d"/>
<circle cx="372.6" cy="172.0" r="11.2" fill="#be4286"/>
<circle cx="369.8" cy="175.5" r="11.2" fill="#b33690"/>
<circle cx="414.6" cy="75.3" r="10.6" fill="#f29a49"/>
<circle cx="411.4" cy="78.4" r="10.6" fill="#f29a49"/>
<circle cx="408.4" cy="81.7" r="10.6" fill="#f1954c"/>
<circle cx="405.5" cy="85.1" r="10.6" fill="#ee8c51"/>
<circle cx="402.8" cy="88.7" r="10.6" fill="#eb8456"/>
<circle cx="400.2" cy="92.3" r="10.6" fill="#e77c5c"/>
<circle cx="397.8" cy="96.1" r="10.6" fill="#e5785e"/>
<circle cx="395.5" cy="99.9" r="10.6" fill="#e37461"/>
<circle cx="393.4" cy="103.9" r="10.6" fill="#e17064"/>
<circle cx="391.6" cy="107.9" r="10.6" fill="#df6d66"/>
<circle cx="390.0" cy="112.1" r="10.6" fill="#dd6a68"/>
<circle cx="388.8" cy="116.4" r="10.6" fill="#dd6969"/>
<circle cx="387.9" cy="120.8" r="10.6" fill="#dc686a"/>
<circle cx="387.0" cy="125.2" r="10.6" fill="#db676b"/>
<circle cx="386.4" cy="129.6" r="10.6" fill="#db666b"/>
<circle cx="385.8" cy="134.0" r="10.6" fill="#da646c"/>
<circle cx="385.2" cy="138.4" r="10.6" fill="#d9636d"/>
<circle cx="384.6" cy="142.9" r="10.6" fill="#d8626e"/>
<circle cx="383.9" cy="147.3" r="10.6" fill="#d8616e"/>
<circle cx="383.2" cy="151.7" r="10.6" fill="#d65f70"/>
<circle cx="382.6" cy="156.1" r="10.6" fill="#d35b73"/>
<circle cx="381.4" cy="160.4" r="10.6" fill="#d05776"/>
<circle cx="379.9" cy="164.6" r="10.6" fill="#cd5379"/>
<circle cx="377.8" cy="168.6" r="10.6" fill="#ca4f7c"/>
<circle cx="375.0" cy="172.0" r="10.6" fill="#c14584"/>
<circle cx="372.2" cy="175.5" r="10.6" fill="#b3368f"/>
<circle cx="537.3" cy="141.6" r="11.0" fill="#de6a68"/>
<circle cx="541.7" cy="140.0" r="11.0" fill="#de6a68"/>
<circle cx="546.0" cy="138.3" r="11.0" fill="#e77b5c"/>
<circle cx="550.6" cy="138.1" r="11.0" fill="#f1954c"/>
<circle cx="555.2" cy="138.4" r="11.0" fill="#f5af3e"/>
<circle cx="559.9" cy="138.9" r="11.0" fill="#f4cf33"/>
<circle cx="564.5" cy="139.3" r="11.0" fill="#eceb30"/>
<circle cx="448.8" cy="151.1" r="11.0" fill="#d25a74"/>
<circle cx="453.2" cy="151.4" r="11.0" fill="#d25a74"/>
<circle cx="457.6" cy="151.6" r="11.0" fill="#d25a74"/>
<circle cx="461.9" cy="151.7" r="11.0" fill="#d25a74"/>
<circle cx="466.3" cy="151.5" r="11.0" fill="#d25a74"/>
<circle cx="470.7" cy="151.3" r="11.0" fill="#d35b73"/>
<circle cx="475.1" cy="151.1" r="11.0" fill="#d7616f"/>
<circle cx="479.5" cy="150.9" r="11.0" fill="#db666b"/>
<circle cx="483.8" cy="150.5" r="11.0" fill="#df6c66"/>
<circle cx="488.2" cy="150.2" r="11.0" fill="#e27362"/>
<circle cx="492.6" cy="149.9" r="11.0" fill="#e4775f"/>
<circle cx="497.0" cy="149.6" r="11.0" fill="#e67a5d"/>
<circle cx="501.3" cy="149.3" r="11.0" fill="#e37560"/>
<circle cx="505.7" cy="148.9" r="11.0" fill="#d65f70"/>
<circle cx="510.1" cy="148.6" r="11.0" fill="#bd4187"/>
<circle cx="514.5" cy="148.3" r="11.0" fill="#9219a3"/>
<circle cx="518.8" cy="148.0" r="11.0" fill="#730da8"/>
<circle cx="523.2" cy="147.7" r="11.0" fill="#550ca4"/>
<circle cx="527.6" cy="147.4" r="11.0" fill="#330f99"/>
<circle cx="57.5" cy="126.7" r="11.5" fill="#f5a443"/>
<circle cx="61.7" cy="128.1" r="11.5" fill="#f5a443"/>
<circle cx="65.9" cy="129.5" r="11.5" fill="#f5a443"/>
<circle cx="70.0" cy="130.9" r="11.5" fill="#f5a443"/>
<circle cx="74.2" cy="132.4" r="11.5" fill="#f5a443"/>
<circle cx="78.4" cy="133.8" r="11.5" fill="#f5a443"/>
<circle cx="82.6" cy="135.2" r="11.5" fill="#f5a443"/>
<circle cx="86.7" cy="136.7" r="11.5" fill="#f5a443"/>
<circle cx="90.8" cy="138.3" r="11.5" fill="#f5a443"/>
<circle cx="94.9" cy="139.9" r="11.5" fill="#f5a443"/>
<circle cx="99.0" cy="141.5" r="11.5" fill="#f5a443"/>
<circle cx="103.2" cy="143.1" r="11.5" fill="#f5a443"/>
<circle cx="107.3" cy="144.7" r="11.5" fill="#f5a443"/>
<circle cx="111.4" cy="146.2" r="11.5" fill="#f5a443"/>
<circle cx="115.6" cy="147.7" r="11.5" fill="#f5a443"/>
<circle cx="119.7" cy="149.2" r="11.5" fill="#f5a443"/>
<circle cx="124.0" cy="150.1" r="11.5" fill="#f5a443"/>
<circle cx="128.4" cy="151.0" r="11.5" fill="#f5a443"/>
<circle cx="132.7" cy="151.9" r="11.5" fill="#f5a443"/>
<circle cx="137.0" cy="152.8" r="11.5" fill="#f5a443"/>
<circle cx="141.3" cy="153.9" r="11.5" fill="#f5a443"/>
<circle cx="145.5" cy="155.2" r="11.5" fill="#f5a443"/>
<circle cx="149.6" cy="156.8" r="11.5" fill="#f5a443"/>
<circle cx="153.7" cy="158.5" r="11.5" fill="#f5a741"/>
<circle cx="157.9" cy="159.8" r="11.5" fill="#f5ab40"/>
<circle cx="162.2" cy="160.9" r="11.5" fill="#f5ae3f"/>
<circle cx="166.5" cy="161.7" r="11.5" fill="#f5b13d"/>
<circle cx="170.9" cy="162.2" r="11.5" fill="#f5b53c"/>
<circle cx="175.2" cy="162.8" r="11.5" fill="#f5b83a"/>
<circle cx="179.6" cy="163.4" r="11.5" fill="#f5bc39"/>
<circle cx="184.0" cy="164.0" r="11.5" fill="#f5bf38"/>
<circle cx="188.3" cy="164.7" r="11.5" fill="#f5c336"/>
<circle cx="192.7" cy="165.5" r="11.5" fill="#f5c635"/>
<circle cx="197.0" cy="166.2" r="11.5" fill="#f5c933"/>
<circle cx="201.4" cy="167.0" r="11.5" fill="#f5cc33"/>
<circle cx="205.7" cy="168.0" r="11.5" fill="#f4ce33"/>
<circle cx="210.0" cy="169.1" r="11.5" fill="#f4cf33"/>
<circle cx="214.2" cy="170.1" r="11.5" fill="#f3d033"/>
<circle cx="218.5" cy="171.1" r="11.5" fill="#f3d233"/>
<circle cx="222.8" cy="172.3" r="11.5" fill="#f3d332"/>
<circle cx="227.0" cy="173.5" r="11.5" fill="#f2d432"/>
<circle cx="231.3" cy="174.4" r="11.5" fill="#f2d532"/>
<circle cx="235.7" cy="175.0" r="11.5" fill="#f2d632"/>
<circle cx="240.1" cy="175.5" r="11.5" fill="#f2d632"/>
<circle cx="244.5" cy="176.1" r="11.5" fill="#f2d632"/>
<circle cx="248.8" cy="176.7" r="11.5" fill="#f2d632"/>
<circle cx="253.2" cy="177.3" r="11.5" fill="#f2d632"/>
<circle cx="257.6" cy="177.9" r="11.5" fill="#f2d632"/>
<circle cx="262.0" cy="178.4" r="11.5" fill="#f2d732"/>
<circle cx="266.3" cy="179.0" r="11.5" fill="#f2d732"/>
<circle cx="270.7" cy="179.6" r="11.5" fill="#f2d732"/>
<circle cx="275.1" cy="180.1" r="11.5" fill="#f2d732"/>
<circle cx="279.5" cy="180.6" r="11.5" fill="#f1d732"/>
<circle cx="283.9" cy="181.2" r="11.5" fill="#f1d832"/>
<circle cx="288.2" cy="181.7" r="11.5" fill="#f1d832"/>
<circle cx="292.6" cy="182.2" r="11.5" fill="#f1d832"/>
<circle cx="297.0" cy="182.9" r="11.5" fill="#f1d832"/>
<circle cx="301.3" cy="183.5" r="11.5" fill="#f1d832"/>
<circle cx="305.7" cy="184.1" r="11.5" fill="#f1d832"/>
<circle cx="310.1" cy="184.6" r="11.5" fill="#f1d932"/>
<circle cx="314.5" cy="185.1" r="11.5" fill="#f1d932"/>
<circle cx="318.9" cy="185.7" r="11.5" fill="#f1d932"/>
<circle cx="323.3" cy="186.1" r="11.5" fill="#f1d932"/>
<circle cx="327.7" cy="186.3" r="11.5" fill="#f1d932"/>
<circle cx="332.1" cy="186.5" r="11.5" fill="#f1da32"/>
<circle cx="336.5" cy="186.7" r="11.5" fill="#f1da32"/>
<circle cx="340.9" cy="186.9" r="11.5" fill="#f1da32"/>
<circle cx="345.3" cy="186.8" r="11.5" fill="#f1d832"/>
<circle cx="349.7" cy="186.3" r="11.5" fill="#f5b63b"/>
<circle cx="354.0" cy="185.7" r="11.5" fill="#f2984a"/>
<circle cx="358.3" cy="184.7" r="11.5" fill="#e87d5b"/>
<circle cx="362.5" cy="183.2" r="11.5" fill="#db656b"/>
<circle cx="366.4" cy="181.3" r="11.5" fill="#d05876"/>
<circle cx="370.2" cy="179.0" r="11.5" fill="#c64a7f"/>
<circle cx="374.0" cy="176.7" r="11.5" fill="#cb507b"/>
<circle cx="377.7" cy="174.4" r="11.5" fill="#db666b"/>
<circle cx="381.5" cy="172.2" r="11.5" fill="#e77b5c"/>
<circle cx="385.4" cy="170.0" r="11.5" fill="#ed8a53"/>
<circle cx="389.4" cy="168.2" r="11.5" fill="#f29a49"/>
<circle cx="393.4" cy="166.3" r="11.5" fill="#f5a443"/>
<circle cx="397.5" cy="164.7" r="11.5" fill="#f5a244"/>
<circle cx="401.6" cy="163.1" r="11.5" fill="#f4a045"/>
<circle cx="405.7" cy="161.5" r="11.5" fill="#f39e47"/>
<circle cx="409.9" cy="160.0" r="11.5" fill="#f39c48"/>
<circle cx="414.0" cy="158.6" r="11.5" fill="#f29a49"/>
<circle cx="418.2" cy="157.1" r="11.5" fill="#ee8c51"/>
<circle cx="422.4" cy="155.8" r="11.5" fill="#e77c5c"/>
<circle cx="426.6" cy="154.5" r="11.5" fill="#df6c67"/>
<circle cx="430.9" cy="153.3" r="11.5" fill="#d9636d"/>
<circle cx="435.1" cy="152.1" r="11.5" fill="#d45c72"/>
<circle cx="439.4" cy="151.1" r="11.5" fill="#cf5677"/>
<circle cx="443.7" cy="150.0" r="11.5" fill="#ca507b"/>
<circle cx="448.0" cy="149.0" r="11.5" fill="#c84c7e"/>
<circle cx="452.1" cy="147.3" r="11.5" fill="#c54980"/>
<circle cx="455.8" cy="145.1" r="11.5" fill="#c24683"/>
<circle cx="458.9" cy="142.0" r="11.5" fill="#be4286"/>
<circle cx="462.1" cy="138.9" r="11.5" fill="#b93d8a"/>
<circle cx="465.6" cy="136.3" r="11.5" fill="#b4388e"/>
<circle cx="469.5" cy="134.2" r="11.5" fill="#b5388e"/>
<circle cx="473.5" cy="132.4" r="11.5" fill="#bf4286"/>
<circle cx="477.8" cy="131.2" r="11.5" fill="#c94d7d"/>
<circle cx="482.1" cy="130.3" r="11.5" fill="#d25974"/>
<circle cx="486.4" cy="129.5" r="11.5" fill="#db666b"/>
<circle cx="490.8" cy="129.2" r="11.5" fill="#e5785e"/>
<circle cx="495.2" cy="128.9" r="11.5" fill="#ef8e50"/>
<circle cx="499.6" cy="128.7" r="11.5" fill="#f0934d"/>
<circle cx="504.0" cy="128.7" r="11.5" fill="#f1954c"/>
<circle cx="508.5" cy="128.7" r="11.5" fill="#f1974b"/>
<circle cx="512.9" cy="128.7" r="11.5" fill="#f2984a"/>
<circle cx="517.3" cy="128.7" r="11.5" fill="#ee8d50"/>
<circle cx="521.7" cy="128.7" r="11.5" fill="#e4775f"/>
<circle cx="526.1" cy="128.7" r="11.5" fill="#d25a74"/>
<circle cx="57.5" cy="124.2" r="10.2" fill="#f5a443"/>
<circle cx="61.7" cy="125.6" r="10.2" fill="#f5a443"/>
<circle cx="65.9" cy="127.0" r="10.2" fill="#f5a443"/>
<circle cx="70.0" cy="128.4" r="10.2" fill="#f5a443"/>
<circle cx="74.2" cy="129.9" r="10.2" fill="#f5a443"/>
<circle cx="78.4" cy="131.3" r="10.2" fill="#f5a443"/>
<circle cx="82.6" cy="132.7" r="10.2" fill="#f5a443"/>
<circle cx="86.7" cy="134.2" r="10.2" fill="#f5a443"/>
<circle cx="90.8" cy="135.8" r="10.2" fill="#f5a443"/>
<circle cx="94.9" cy="137.4" r="10.2" fill="#f5a443"/>
<circle cx="99.0" cy="139.0" r="10.2" fill="#f5a443"/>
<circle cx="103.2" cy="140.6" r="10.2" fill="#f5a443"/>
<circle cx="107.3" cy="142.2" r="10.2" fill="#f5a443"/>
<circle cx="111.4" cy="143.7" r="10.2" fill="#f5a443"/>
<circle cx="115.6" cy="145.2" r="10.2" fill="#f5a443"/>
<circle cx="119.7" cy="146.7" r="10.2" fill="#f5a443"/>
<circle cx="124.0" cy="147.6" r="10.2" fill="#f5a443"/>
<circle cx="128.4" cy="148.5" r="10.2" fill="#f5a443"/>
<circle cx="132.7" cy="149.4" r="10.2" fill="#f5a443"/>
<circle cx="137.0" cy="150.3" r="10.2" fill="#f5a443"/>
<circle cx="141.3" cy="151.4" r="10.2" fill="#f5a443"/>
<circle cx="145.5" cy="152.7" r="10.2" fill="#f5a443"/>
<circle cx="149.6" cy="154.3" r="10.2" fill="#f5a443"/>
<circle cx="153.7" cy="156.0" r="10.2" fill="#f5a642"/>
<circle cx="157.9" cy="157.3" r="10.2" fill="#f5a841"/>
<circle cx="162.2" cy="158.4" r="10.2" fill="#f5aa40"/>
<circle cx="166.5" cy="159.2" r="10.2" fill="#f5ac40"/>
<circle cx="170.9" cy="159.7" r="10.2" fill="#f5ae3f"/>
<circle cx="175.2" cy="160.3" r="10.2" fill="#f5af3e"/>
<circle cx="179.6" cy="160.9" r="10.2" fill="#f5b13d"/>
<circle cx="184.0" cy="161.5" r="10.2" fill="#f5b33c"/>
<circle cx="188.3" cy="162.2" r="10.2" fill="#f5b53c"/>
<circle cx="192.7" cy="163.0" r="10.2" fill="#f5b73b"/>
<circle cx="197.0" cy="163.7" r="10.2" fill="#f5b93a"/>
<circle cx="201.4" cy="164.5" r="10.2" fill="#f5ba3a"/>
<circle cx="205.7" cy="165.5" r="10.2" fill="#f5ba3a"/>
<circle cx="210.0" cy="166.6" r="10.2" fill="#f5bb39"/>
<circle cx="214.2" cy="167.6" r="10.2" fill="#f5bb39"/>
<circle cx="218.5" cy="168.6" r="10.2" fill="#f5bb39"/>
<circle cx="222.8" cy="169.8" r="10.2" fill="#f5bb39"/>
<circle cx="227.0" cy="171.0" r="10.2" fill="#f5bb39"/>
<circle cx="231.3" cy="171.9" r="10.2" fill="#f5bb39"/>
<circle cx="235.7" cy="172.5" r="10.2" fill="#f5bb39"/>
<circle cx="240.1" cy="173.0" r="10.2" fill="#f5bc39"/>
<circle cx="244.5" cy="173.6" r="10.2" fill="#f5bc39"/>
<circle cx="248.8" cy="174.2" r="10.2" fill="#f5bc39"/>
<circle cx="253.2" cy="174.8" r="10.2" fill="#f5bc39"/>
<circle cx="257.6" cy="175.4" r="10.2" fill="#f5bc39"/>
<circle cx="262.0" cy="175.9" r="10.2" fill="#f5bc39"/>
<circle cx="266.3" cy="176.5" r="10.2" fill="#f5bc39"/>
<circle cx="270.7" cy="177.1" r="10.2" fill="#f5bc39"/>
<circle cx="275.1" cy="177.6" r="10.2" fill="#f5bd39"/>
<circle cx="279.5" cy="178.1" r="10.2" fill="#f5bd39"/>
<circle cx="283.9" cy="178.7" r="10.2" fill="#f5bd39"/>
<circle cx="288.2" cy="179.2" r="10.2" fill="#f5bd38"/>
<circle cx="292.6" cy="179.7" r="10.2" fill="#f5bd38"/>
<circle cx="297.0" cy="180.4" r="10.2" fill="#f5bd38"/>
<circle cx="301.3" cy="181.0" r="10.2" fill="#f5bd38"/>
<circle cx="305.7" cy="181.6" r="10.2" fill="#f5be38"/>
<circle cx="310.1" cy="182.1" r="10.2" fill="#f5be38"/>
<circle cx="314.5" cy="182.6" r="10.2" fill="#f5be38"/>
<circle cx="318.9" cy="183.2" r="10.2" fill="#f5be38"/>
<circle cx="323.3" cy="183.6" r="10.2" fill="#f5be38"/>
<circle cx="327.7" cy="183.8" r="10.2" fill="#f5be38"/>
<circle cx="332.1" cy="184.0" r="10.2" fill="#f5be38"/>
<circle cx="336.5" cy="184.2" r="10.2" fill="#f5bf38"/>
<circle cx="340.9" cy="184.4" r="10.2" fill="#f5bb39"/>
<circle cx="345.3" cy="184.3" r="10.2" fill="#f5a941"/>
<circle cx="349.7" cy="183.8" r="10.2" fill="#f29a49"/>
<circle cx="354.0" cy="183.2" r="10.2" fill="#ed8953"/>
<circle cx="358.3" cy="182.2" r="10.2" fill="#e4775f"/>
<circle cx="362.5" cy="180.7" r="10.2" fill="#db656b"/>
<circle cx="366.4" cy="178.8" r="10.2" fill="#d05876"/>
<circle cx="370.2" cy="176.5" r="10.2" fill="#c64a7f"/>
<circle cx="374.0" cy="174.2" r="10.2" fill="#cb507b"/>
<circle cx="377.7" cy="171.9" r="10.2" fill="#db666b"/>
<circle cx="381.5" cy="169.7" r="10.2" fill="#e77b5c"/>
<circle cx="385.4" cy="167.5" r="10.2" fill="#ed8a53"/>
<circle cx="389.4" cy="165.7" r="10.2" fill="#f29a49"/>
<circle cx="393.4" cy="163.8" r="10.2" fill="#f5a443"/>
<circle cx="397.5" cy="162.2" r="10.2" fill="#f5a244"/>
<circle cx="401.6" cy="160.6" r="10.2" fill="#f4a045"/>
<circle cx="405.7" cy="159.0" r="10.2" fill="#f39e47"/>
<circle cx="409.9" cy="157.5" r="10.2" fill="#f39c48"/>
<circle cx="414.0" cy="156.1" r="10.2" fill="#f29a49"/>
<circle cx="418.2" cy="154.6" r="10.2" fill="#ee8c51"/>
<circle cx="422.4" cy="153.3" r="10.2" fill="#e77c5c"/>
<circle cx="426.6" cy="152.0" r="10.2" fill="#df6c67"/>
<circle cx="430.9" cy="150.8" r="10.2" fill="#d9636d"/>
<circle cx="435.1" cy="149.6" r="10.2" fill="#d45c72"/>
<circle cx="439.4" cy="148.6" r="10.2" fill="#cf5677"/>
<circle cx="443.7" cy="147.5" r="10.2" fill="#ca507b"/>
<circle cx="448.0" cy="146.5" r="10.2" fill="#c84c7e"/>
<circle cx="452.1" cy="144.8" r="10.2" fill="#c54980"/>
<circle cx="455.8" cy="142.6" r="10.2" fill="#c24683"/>
<circle cx="458.9" cy="139.5" r="10.2" fill="#be4286"/>
<circle cx="462.1" cy="136.4" r="10.2" fill="#b93d8a"/>
<circle cx="465.6" cy="133.8" r="10.2" fill="#b4388e"/>
<circle cx="469.5" cy="131.7" r="10.2" fill="#b5388e"/>
<circle cx="473.5" cy="129.9" r="10.2" fill="#bf4286"/>
<circle cx="477.8" cy="128.7" r="10.2" fill="#c94d7d"/>
<circle cx="482.1" cy="127.8" r="10.2" fill="#d25974"/>
<circle cx="486.4" cy="127.0" r="10.2" fill="#db666b"/>
<circle cx="490.8" cy="126.7" r="10.2" fill="#e5785e"/>
<circle cx="495.2" cy="126.4" r="10.2" fill="#ef8e50"/>
<circle cx="499.6" cy="126.2" r="10.2" fill="#f0934d"/>
<circle cx="504.0" cy="126.2" r="10.2" fill="#f1954c"/>
<circle cx="508.5" cy="126.2" r="10.2" fill="#f1974b"/>
<circle cx="512.9" cy="126.2" r="10.2" fill="#f2984a"/>
<circle cx="517.3" cy="126.2" r="10.2" fill="#ee8d50"/>
<circle cx="521.7" cy="126.2" r="10.2" fill="#e4775f"/>
<circle cx="526.1" cy="126.2" r="10.2" fill="#d25a74"/>
<circle cx="169.6" cy="180.7" r="10.5" fill="#e37560"/>
<circle cx="175.0" cy="184.0" r="10.5" fill="#e37560"/>
<circle cx="181.3" cy="186.5" r="10.5" fill="#e37560"/>
<use href="#faults2"/>
<use href="#coast"/>
<circle cx="217.0" cy="177.9" r="5.7" fill="#f2251a"/>
<circle cx="212.8" cy="178.9" r="5.7" fill="#f22b1a"/>
<circle cx="208.3" cy="178.8" r="5.7" fill="#f2281a"/>
<circle cx="203.9" cy="178.6" r="5.7" fill="#f22b1b"/>
<circle cx="199.4" cy="178.5" r="5.7" fill="#370706"/>
<circle cx="195.0" cy="178.5" r="5.7" fill="#370706"/>
<circle cx="190.5" cy="178.5" r="5.7" fill="#370706"/>
<circle cx="181.7" cy="177.9" r="5.7" fill="#f22c1b"/>
<circle cx="177.3" cy="176.9" r="5.8" fill="#0a0101"/>
<circle cx="172.9" cy="176.3" r="5.8" fill="#0a0101"/>
<circle cx="168.5" cy="175.6" r="5.8" fill="#0a0101"/>
<circle cx="164.1" cy="175.0" r="5.8" fill="#0a0101"/>
<circle cx="151.2" cy="171.7" r="5.7" fill="#f2231a"/>
<circle cx="146.9" cy="170.4" r="5.7" fill="#f22219"/>
<circle cx="142.8" cy="168.8" r="5.8" fill="#0a0101"/>
<circle cx="138.6" cy="167.3" r="5.9" fill="#f28825"/>
<circle cx="134.3" cy="166.2" r="5.9" fill="#f27e24"/>
<circle cx="129.9" cy="165.7" r="5.9" fill="#f27e24"/>
<circle cx="125.5" cy="165.2" r="5.9" fill="#f28a25"/>
<circle cx="107.9" cy="162.3" r="5.7" fill="#db1b17"/>
<circle cx="103.5" cy="161.7" r="5.9" fill="#f28825"/>
<circle cx="99.0" cy="161.2" r="5.9" fill="#f28224"/>
<circle cx="94.6" cy="160.6" r="5.9" fill="#f28424"/>
<circle cx="90.2" cy="159.9" r="5.8" fill="#0a0101"/>
<circle cx="85.9" cy="158.9" r="5.7" fill="#a91511"/>
<circle cx="81.6" cy="157.8" r="5.8" fill="#0a0101"/>
<circle cx="202.0" cy="155.7" r="5.7" fill="#a91511"/>
<circle cx="198.0" cy="154.4" r="5.7" fill="#a91511"/>
<circle cx="194.1" cy="152.9" r="5.7" fill="#f2241a"/>
<circle cx="190.2" cy="151.1" r="5.7" fill="#f22c1b"/>
<circle cx="186.2" cy="149.8" r="5.8" fill="#0a0101"/>
<circle cx="182.0" cy="149.3" r="5.9" fill="#f28825"/>
<circle cx="371.0" cy="175.5" r="5.8" fill="#0a0101"/>
<circle cx="373.8" cy="172.0" r="5.8" fill="#0a0101"/>
<circle cx="376.6" cy="168.6" r="5.8" fill="#0a0101"/>
<circle cx="378.7" cy="164.6" r="5.8" fill="#0a0101"/>
<circle cx="380.2" cy="160.4" r="5.8" fill="#0a0101"/>
<circle cx="381.4" cy="156.1" r="5.8" fill="#0a0101"/>
<circle cx="382.0" cy="151.7" r="5.8" fill="#0a0101"/>
<circle cx="382.7" cy="147.3" r="5.8" fill="#0a0101"/>
<circle cx="383.4" cy="142.9" r="5.8" fill="#0a0101"/>
<circle cx="384.0" cy="138.4" r="5.8" fill="#0a0101"/>
<circle cx="384.6" cy="134.0" r="5.8" fill="#0a0101"/>
<circle cx="385.2" cy="129.6" r="5.8" fill="#0a0101"/>
<circle cx="385.8" cy="125.2" r="5.7" fill="#f22a1a"/>
<circle cx="386.7" cy="120.8" r="5.8" fill="#0a0101"/>
<circle cx="387.6" cy="116.4" r="5.8" fill="#0a0101"/>
<circle cx="388.8" cy="112.1" r="5.8" fill="#0a0101"/>
<circle cx="390.4" cy="107.9" r="5.8" fill="#0a0101"/>
<circle cx="392.2" cy="103.9" r="5.8" fill="#0a0101"/>
<circle cx="394.3" cy="99.9" r="5.8" fill="#0a0101"/>
<circle cx="396.6" cy="96.1" r="5.8" fill="#0a0101"/>
<circle cx="399.0" cy="92.3" r="5.8" fill="#0a0101"/>
<circle cx="401.6" cy="88.7" r="5.8" fill="#0a0101"/>
<circle cx="404.3" cy="85.1" r="5.8" fill="#0a0101"/>
<circle cx="407.2" cy="81.7" r="5.8" fill="#0a0101"/>
<circle cx="410.2" cy="78.4" r="5.8" fill="#0a0101"/>
<circle cx="413.4" cy="75.3" r="5.8" fill="#0a0101"/>
<circle cx="564.5" cy="139.3" r="5.8" fill="#0a0101"/>
<circle cx="559.9" cy="138.9" r="5.8" fill="#f2511f"/>
<circle cx="555.2" cy="138.4" r="5.8" fill="#f2501f"/>
<circle cx="550.6" cy="138.1" r="5.9" fill="#f27b23"/>
<circle cx="546.0" cy="138.3" r="5.8" fill="#0a0101"/>
<circle cx="541.7" cy="140.0" r="5.7" fill="#370706"/>
<circle cx="537.3" cy="141.6" r="5.9" fill="#f28625"/>
<circle cx="527.6" cy="147.4" r="5.8" fill="#0a0101"/>
<circle cx="523.2" cy="147.7" r="5.8" fill="#0a0101"/>
<circle cx="518.8" cy="148.0" r="5.8" fill="#0a0101"/>
<circle cx="514.5" cy="148.3" r="5.8" fill="#0a0101"/>
<circle cx="510.1" cy="148.6" r="5.8" fill="#0a0101"/>
<circle cx="505.7" cy="148.9" r="5.8" fill="#0a0101"/>
<circle cx="501.3" cy="149.3" r="5.8" fill="#0a0101"/>
<circle cx="497.0" cy="149.6" r="5.8" fill="#0a0101"/>
<circle cx="492.6" cy="149.9" r="5.8" fill="#0a0101"/>
<circle cx="488.2" cy="150.2" r="5.8" fill="#0a0101"/>
<circle cx="483.8" cy="150.5" r="5.8" fill="#0a0101"/>
<circle cx="479.5" cy="150.9" r="5.8" fill="#0a0101"/>
<circle cx="475.1" cy="151.1" r="5.8" fill="#f24f1e"/>
<circle cx="470.7" cy="151.3" r="5.8" fill="#f24a1e"/>
<circle cx="466.3" cy="151.5" r="5.8" fill="#0a0101"/>
<circle cx="461.9" cy="151.7" r="5.8" fill="#0a0101"/>
<circle cx="457.6" cy="151.6" r="5.7" fill="#f22219"/>
<circle cx="453.2" cy="151.4" r="5.8" fill="#0a0101"/>
<circle cx="448.8" cy="151.1" r="5.8" fill="#0a0101"/>
<circle cx="526.1" cy="127.7" r="5.8" fill="#f2531f"/>
<circle cx="521.7" cy="127.7" r="5.8" fill="#f24d1e"/>
<circle cx="517.3" cy="127.7" r="5.8" fill="#f2511f"/>
<circle cx="512.9" cy="127.7" r="5.8" fill="#0a0101"/>
<circle cx="508.5" cy="127.7" r="5.8" fill="#0a0101"/>
<circle cx="504.0" cy="127.7" r="5.8" fill="#f2531f"/>
<circle cx="499.6" cy="127.7" r="5.8" fill="#f2511f"/>
<circle cx="495.2" cy="127.9" r="5.8" fill="#f2541f"/>
<circle cx="490.8" cy="128.2" r="5.8" fill="#0a0101"/>
<circle cx="486.4" cy="128.5" r="5.8" fill="#0a0101"/>
<circle cx="482.1" cy="129.3" r="5.8" fill="#0a0101"/>
<circle cx="477.8" cy="130.2" r="5.8" fill="#0a0101"/>
<circle cx="473.5" cy="131.4" r="5.8" fill="#0a0101"/>
<circle cx="469.5" cy="133.2" r="5.8" fill="#0a0101"/>
<circle cx="465.6" cy="135.3" r="5.8" fill="#0a0101"/>
<circle cx="462.1" cy="137.9" r="5.8" fill="#0a0101"/>
<circle cx="458.9" cy="141.0" r="5.8" fill="#0a0101"/>
<circle cx="455.8" cy="144.1" r="5.8" fill="#0a0101"/>
<circle cx="452.1" cy="146.3" r="5.8" fill="#0a0101"/>
<circle cx="448.0" cy="148.0" r="5.8" fill="#0a0101"/>
<circle cx="443.7" cy="149.0" r="5.8" fill="#0a0101"/>
<circle cx="439.4" cy="150.1" r="5.8" fill="#0a0101"/>
<circle cx="435.1" cy="151.1" r="5.8" fill="#0a0101"/>
<circle cx="430.9" cy="152.3" r="5.7" fill="#f2281a"/>
<circle cx="426.6" cy="153.5" r="5.8" fill="#0a0101"/>
<circle cx="422.4" cy="154.8" r="5.8" fill="#0a0101"/>
<circle cx="418.2" cy="156.1" r="5.8" fill="#0a0101"/>
<circle cx="414.0" cy="157.6" r="5.8" fill="#0a0101"/>
<circle cx="409.9" cy="159.0" r="5.8" fill="#0a0101"/>
<circle cx="405.7" cy="160.5" r="5.8" fill="#0a0101"/>
<circle cx="401.6" cy="162.1" r="5.7" fill="#f22f1b"/>
<circle cx="397.5" cy="163.7" r="5.8" fill="#0a0101"/>
<circle cx="393.4" cy="165.3" r="5.8" fill="#0a0101"/>
<circle cx="389.4" cy="167.2" r="5.8" fill="#0a0101"/>
<circle cx="385.4" cy="169.0" r="5.8" fill="#0a0101"/>
<circle cx="381.5" cy="171.2" r="5.8" fill="#0a0101"/>
<circle cx="377.7" cy="173.4" r="5.8" fill="#0a0101"/>
<circle cx="374.0" cy="175.7" r="5.8" fill="#0a0101"/>
<circle cx="370.2" cy="178.0" r="5.8" fill="#0a0101"/>
<circle cx="366.4" cy="180.3" r="5.8" fill="#0a0101"/>
<circle cx="362.5" cy="182.2" r="5.8" fill="#0a0101"/>
<circle cx="358.3" cy="183.7" r="5.7" fill="#f2291a"/>
<circle cx="354.0" cy="184.7" r="5.8" fill="#0a0101"/>
<circle cx="349.7" cy="185.3" r="5.8" fill="#0a0101"/>
<circle cx="345.3" cy="185.8" r="5.8" fill="#0a0101"/>
<circle cx="340.9" cy="185.9" r="5.8" fill="#0a0101"/>
<circle cx="336.5" cy="185.7" r="5.8" fill="#0a0101"/>
<circle cx="332.1" cy="185.5" r="5.8" fill="#0a0101"/>
<circle cx="327.7" cy="185.3" r="5.8" fill="#0a0101"/>
<circle cx="323.3" cy="185.1" r="5.8" fill="#0a0101"/>
<circle cx="318.9" cy="184.7" r="5.8" fill="#0a0101"/>
<circle cx="314.5" cy="184.1" r="5.7" fill="#630c0a"/>
<circle cx="310.1" cy="183.6" r="5.7" fill="#f2311b"/>
<circle cx="305.7" cy="183.1" r="5.8" fill="#0a0101"/>
<circle cx="301.3" cy="182.5" r="5.8" fill="#0a0101"/>
<circle cx="297.0" cy="181.9" r="5.9" fill="#f28825"/>
<circle cx="292.6" cy="181.2" r="5.9" fill="#f27b23"/>
<circle cx="288.2" cy="180.7" r="5.8" fill="#0a0101"/>
<circle cx="283.9" cy="180.2" r="5.9" fill="#f29726"/>
<circle cx="279.5" cy="179.6" r="5.9" fill="#f29827"/>
<circle cx="275.1" cy="179.1" r="5.9" fill="#f2a428"/>
<circle cx="270.7" cy="178.6" r="5.9" fill="#f29c27"/>
<circle cx="266.3" cy="178.0" r="5.9" fill="#f29f27"/>
<circle cx="262.0" cy="177.4" r="5.9" fill="#f29927"/>
<circle cx="257.6" cy="176.9" r="5.9" fill="#f29d27"/>
<circle cx="253.2" cy="176.3" r="5.9" fill="#f29b27"/>
<circle cx="248.8" cy="175.7" r="5.7" fill="#f2271a"/>
<circle cx="244.5" cy="175.1" r="5.9" fill="#f29e27"/>
<circle cx="240.1" cy="174.5" r="5.9" fill="#f29e27"/>
<circle cx="235.7" cy="174.0" r="5.9" fill="#f2a328"/>
<circle cx="231.3" cy="173.4" r="5.9" fill="#f2a027"/>
<circle cx="227.0" cy="172.5" r="5.9" fill="#f2a428"/>
<circle cx="222.8" cy="171.3" r="5.9" fill="#f2a328"/>
<circle cx="218.5" cy="170.1" r="5.7" fill="#630c0a"/>
<circle cx="214.2" cy="169.1" r="5.9" fill="#f2a528"/>
<circle cx="210.0" cy="168.1" r="5.9" fill="#f29f27"/>
<circle cx="205.7" cy="167.0" r="5.9" fill="#f29726"/>
<circle cx="201.4" cy="166.0" r="5.9" fill="#f2a328"/>
<circle cx="197.0" cy="165.2" r="5.9" fill="#f2a428"/>
<circle cx="192.7" cy="164.5" r="5.9" fill="#f2a328"/>
<circle cx="188.3" cy="163.7" r="5.9" fill="#f29e27"/>
<circle cx="184.0" cy="163.0" r="5.9" fill="#f2a028"/>
<circle cx="179.6" cy="162.4" r="5.9" fill="#f29827"/>
<circle cx="175.2" cy="161.8" r="5.9" fill="#f2a228"/>
<circle cx="170.9" cy="161.2" r="5.9" fill="#f29e27"/>
<circle cx="166.5" cy="160.7" r="5.9" fill="#f29927"/>
<circle cx="162.2" cy="159.9" r="5.9" fill="#f29526"/>
<circle cx="157.9" cy="158.8" r="5.9" fill="#f2a228"/>
<circle cx="153.7" cy="157.5" r="5.9" fill="#f2a528"/>
<circle cx="149.6" cy="155.8" r="5.9" fill="#f29626"/>
<circle cx="145.5" cy="154.2" r="5.9" fill="#f2a228"/>
<circle cx="141.3" cy="152.9" r="5.8" fill="#0a0101"/>
<circle cx="137.0" cy="151.8" r="5.7" fill="#f2281a"/>
<circle cx="132.7" cy="150.9" r="5.7" fill="#f2241a"/>
<circle cx="128.4" cy="150.0" r="5.8" fill="#f24a1e"/>
<circle cx="124.0" cy="149.1" r="5.7" fill="#f22e1b"/>
<circle cx="119.7" cy="148.2" r="5.7" fill="#f2301b"/>
<circle cx="115.6" cy="146.7" r="5.8" fill="#0a0101"/>
<circle cx="111.4" cy="145.2" r="5.9" fill="#f27b23"/>
<circle cx="107.3" cy="143.7" r="5.9" fill="#f28424"/>
<circle cx="103.2" cy="142.1" r="5.8" fill="#0a0101"/>
<circle cx="99.0" cy="140.5" r="5.7" fill="#f22219"/>
<circle cx="94.9" cy="138.9" r="5.7" fill="#f22d1b"/>
<circle cx="90.8" cy="137.3" r="5.7" fill="#f2271a"/>
<circle cx="86.7" cy="135.7" r="5.8" fill="#f2531f"/>
<circle cx="82.6" cy="134.2" r="5.8" fill="#0a0101"/>
<circle cx="78.4" cy="132.8" r="5.9" fill="#f28a25"/>
<circle cx="74.2" cy="131.4" r="5.9" fill="#f28224"/>
<circle cx="70.0" cy="129.9" r="5.9" fill="#f28a25"/>
<circle cx="65.9" cy="128.5" r="5.9" fill="#f27f24"/>
<circle cx="61.7" cy="127.1" r="5.8" fill="#f2461d"/>
<circle cx="57.5" cy="125.7" r="5.7" fill="#f22b1a"/>
<circle cx="194.3" cy="164.7" r="5.9" fill="#f27a23"/>
<circle cx="190.1" cy="163.8" r="5.9" fill="#f27d24"/>
<circle cx="185.8" cy="162.9" r="5.9" fill="#f28124"/>
<circle cx="181.7" cy="161.5" r="5.9" fill="#f28424"/>
<circle cx="177.8" cy="159.8" r="5.9" fill="#f27c24"/>
<circle cx="174.3" cy="157.2" r="5.7" fill="#630c0a"/>
<circle cx="170.8" cy="154.6" r="5.8" fill="#f2461d"/>
<circle cx="167.4" cy="152.0" r="5.9" fill="#f28825"/>
<circle cx="163.7" cy="149.7" r="5.9" fill="#f27f24"/>
<circle cx="160.0" cy="147.4" r="5.9" fill="#f28a25"/>
<circle cx="156.1" cy="145.7" r="5.8" fill="#0a0101"/>
<circle cx="152.3" cy="143.6" r="5.9" fill="#f28925"/>
<circle cx="148.7" cy="141.2" r="5.9" fill="#f2b22a"/>
<circle cx="141.3" cy="136.6" r="5.8" fill="#0a0101"/>
<circle cx="137.4" cy="134.8" r="5.8" fill="#0a0101"/>
<circle cx="133.5" cy="133.0" r="5.8" fill="#0a0101"/>
<circle cx="126.0" cy="128.6" r="5.9" fill="#f28124"/>
<circle cx="109.7" cy="123.5" r="5.8" fill="#0a0101"/>
<circle cx="105.4" cy="122.8" r="5.7" fill="#f22a1a"/>
<circle cx="101.1" cy="122.2" r="5.8" fill="#f24f1f"/>
<circle cx="96.8" cy="121.6" r="5.8" fill="#f24f1e"/>
<circle cx="92.6" cy="120.9" r="5.7" fill="#a91511"/>
<circle cx="88.3" cy="120.2" r="5.8" fill="#f24e1e"/>
<circle cx="84.0" cy="119.5" r="5.9" fill="#f28424"/>
<circle cx="79.7" cy="118.8" r="5.9" fill="#f28925"/>
<circle cx="67.0" cy="116.2" r="5.8" fill="#0a0101"/>
<circle cx="169.6" cy="180.7" r="5.8" fill="#0a0101"/>
<circle cx="175.0" cy="184.0" r="5.8" fill="#0a0101"/>
<circle cx="181.3" cy="186.5" r="5.8" fill="#0a0101"/>
<circle cx="173.0" cy="176.0" r="5.8" fill="#0a0101"/>
<path d="M550.2 49.2 L552.5 51.2 L554.7 53.1 L557.0 55.1 L559.3 57.0 L561.6 59.0 L563.8 60.9 L566.1 62.9 L568.4 64.8 L570.7 66.8 L572.9 68.7 L575.2 70.7 L577.5 72.6 L579.8 74.6 L582.0 76.5 L584.3 78.5 M485.3 49.2 L487.6 51.2 L489.8 53.1 L492.0 55.1 L494.2 57.0 L496.4 59.0 L498.6 60.9 L500.9 62.9 L503.1 64.8 L505.3 66.8 L507.5 68.7 L509.7 70.7 L511.9 72.6 L514.1 74.6 L516.4 76.5 L518.6 78.5 L520.8 80.4 L523.0 82.4 L525.2 84.3 L527.4 86.3 L529.6 88.2 L531.8 90.2 L534.1 92.1 L536.3 94.1 L538.5 96.0 L540.7 98.0 L542.9 99.9 L545.1 101.9 L547.3 103.8 L549.5 105.8 L551.7 107.8 L553.9 109.7 L556.1 111.7 L558.3 113.6 L560.6 115.6 L562.8 117.5 L565.0 119.5 L567.2 121.4 L569.4 123.4 L571.6 125.3 L573.8 127.3 L576.0 129.2 L578.2 131.2 L580.4 133.1 L582.6 135.1 L584.8 137.0 M422.1 49.2 L424.2 51.2 L426.4 53.1 L428.6 55.1 L430.7 57.0 L432.9 59.0 L435.0 60.9 L437.2 62.9 L439.4 64.8 L441.5 66.8 L443.7 68.7 L445.8 70.7 L448.0 72.6 L450.2 74.6 L452.3 76.5 L454.5 78.5 L456.6 80.4 L458.8 82.4 L461.0 84.3 L463.1 86.3 L465.3 88.2 L467.4 90.2 L469.6 92.1 L471.7 94.1 L473.9 96.0 L476.0 98.0 L478.2 99.9 L480.3 101.9 L482.5 103.8 L484.6 105.8 L486.8 107.8 L489.0 109.7 L491.1 111.7 L493.3 113.6 L495.4 115.6 L497.6 117.5 L499.7 119.5 L501.8 121.4 L504.0 123.4 L506.1 125.3 L508.3 127.3 L510.4 129.2 L512.6 131.2 L514.7 133.1 L516.9 135.1 L519.0 137.0 L521.2 139.0 L523.3 140.9 L525.4 142.9 L527.6 144.8 L529.7 146.8 L531.9 148.7 L534.0 150.7 L536.2 152.6 L538.3 154.6 L540.4 156.5 L542.6 158.5 L544.7 160.4 L546.8 162.4 L549.0 164.3 L551.1 166.3 L553.3 168.3 L555.4 170.2 L557.5 172.2 L559.7 174.1 L561.8 176.1 L563.9 178.0 L566.1 180.0 L568.2 181.9 L570.3 183.9 L572.5 185.8 L574.6 187.8 L576.7 189.7 L578.9 191.7 L581.0 193.6 L583.1 195.6 L585.3 197.5 M360.3 49.2 L362.4 51.2 L364.5 53.1 L366.6 55.1 L368.7 57.0 L370.8 59.0 L372.9 60.9 L375.1 62.9 L377.2 64.8 L379.3 66.8 L381.4 68.7 L383.5 70.7 L385.6 72.6 L387.7 74.6 L389.8 76.5 L391.9 78.5 L394.0 80.4 L396.1 82.4 L398.2 84.3 L400.3 86.3 L402.4 88.2 L404.6 90.2 L406.7 92.1 L408.8 94.1 L410.9 96.0 L413.0 98.0 L415.1 99.9 L417.2 101.9 L419.3 103.8 L421.4 105.8 L423.5 107.8 L425.6 109.7 L427.7 111.7 L429.8 113.6 L431.9 115.6 L434.0 117.5 L436.0 119.5 L438.1 121.4 L440.2 123.4 L442.3 125.3 L444.4 127.3 L446.5 129.2 L448.6 131.2 L450.7 133.1 L452.8 135.1 L454.9 137.0 L457.0 139.0 L459.1 140.9 L461.2 142.9 L463.2 144.8 L465.3 146.8 L467.4 148.7 L469.5 150.7 L471.6 152.6 L473.7 154.6 L475.8 156.5 L477.9 158.5 L479.9 160.4 L482.0 162.4 L484.1 164.3 L486.2 166.3 L488.3 168.3 L490.4 170.2 L492.4 172.2 L494.5 174.1 L496.6 176.1 L498.7 178.0 L500.7 180.0 L502.8 181.9 L504.9 183.9 L507.0 185.8 L509.1 187.8 L511.1 189.7 L513.2 191.7 L515.3 193.6 L517.4 195.6 L519.4 197.5 L521.5 199.5 L523.6 201.4 L525.6 203.4 L527.7 205.3 L529.8 207.3 L531.9 209.2 L533.9 211.2 L536.0 213.1 L538.1 215.1 L540.1 217.0 L542.2 219.0 L544.3 220.9 L546.3 222.9 M299.8 49.2 L301.9 51.2 L304.0 53.1 L306.0 55.1 L308.1 57.0 L310.2 59.0 L312.2 60.9 L314.3 62.9 L316.4 64.8 L318.4 66.8 L320.5 68.7 L322.5 70.7 L324.6 72.6 L326.7 74.6 L328.7 76.5 L330.8 78.5 L332.8 80.4 L334.9 82.4 L337.0 84.3 L339.0 86.3 L341.1 88.2 L343.1 90.2 L345.2 92.1 L347.2 94.1 L349.3 96.0 L351.3 98.0 L353.4 99.9 L355.5 101.9 L357.5 103.8 L359.6 105.8 L361.6 107.8 L363.7 109.7 L365.7 111.7 L367.8 113.6 L369.8 115.6 L371.8 117.5 L373.9 119.5 L375.9 121.4 L378.0 123.4 L380.0 125.3 L382.1 127.3 L384.1 129.2 L386.2 131.2 L388.2 133.1 L390.2 135.1 L392.3 137.0 L394.3 139.0 L396.4 140.9 L398.4 142.9 L400.5 144.8 L402.5 146.8 L404.5 148.7 L406.6 150.7 L408.6 152.6 L410.6 154.6 L412.7 156.5 L414.7 158.5 L416.7 160.4 L418.8 162.4 L420.8 164.3 L422.8 166.3 L424.9 168.3 L426.9 170.2 L428.9 172.2 L431.0 174.1 L433.0 176.1 L435.0 178.0 L437.0 180.0 L439.1 181.9 L441.1 183.9 L443.1 185.8 L445.1 187.8 L447.2 189.7 L449.2 191.7 L451.2 193.6 L453.2 195.6 L455.3 197.5 L457.3 199.5 L459.3 201.4 L461.3 203.4 L463.3 205.3 L465.4 207.3 L467.4 209.2 L469.4 211.2 L471.4 213.1 L473.4 215.1 L475.4 217.0 L477.5 219.0 L479.5 220.9 L481.5 222.9 M240.7 49.2 L242.7 51.2 L244.7 53.1 L246.8 55.1 L248.8 57.0 L250.8 59.0 L252.8 60.9 L254.8 62.9 L256.9 64.8 L258.9 66.8 L260.9 68.7 L262.9 70.7 L264.9 72.6 L266.9 74.6 L269.0 76.5 L271.0 78.5 L273.0 80.4 L275.0 82.4 L277.0 84.3 L279.0 86.3 L281.0 88.2 L283.1 90.2 L285.1 92.1 L287.1 94.1 L289.1 96.0 L291.1 98.0 L293.1 99.9 L295.1 101.9 L297.1 103.8 L299.1 105.8 L301.1 107.8 L303.1 109.7 L305.1 111.7 L307.1 113.6 L309.1 115.6 L311.1 117.5 L313.1 119.5 L315.1 121.4 L317.1 123.4 L319.1 125.3 L321.1 127.3 L323.1 129.2 L325.1 131.2 L327.1 133.1 L329.1 135.1 L331.1 137.0 L333.1 139.0 L335.1 140.9 L337.1 142.9 L339.1 144.8 L341.1 146.8 L343.1 148.7 L345.1 150.7 L347.1 152.6 L349.0 154.6 L351.0 156.5 L353.0 158.5 L355.0 160.4 L357.0 162.4 L359.0 164.3 L361.0 166.3 L363.0 168.3 L364.9 170.2 L366.9 172.2 L368.9 174.1 L370.9 176.1 L372.9 178.0 L374.8 180.0 L376.8 181.9 L378.8 183.9 L380.8 185.8 L382.8 187.8 L384.7 189.7 L386.7 191.7 L388.7 193.6 L390.7 195.6 L392.6 197.5 L394.6 199.5 L396.6 201.4 L398.5 203.4 L400.5 205.3 L402.5 207.3 L404.5 209.2 L406.4 211.2 L408.4 213.1 L410.4 215.1 L412.3 217.0 L414.3 219.0 L416.3 220.9 L418.2 222.9 M182.8 49.2 L184.7 51.2 L186.7 53.1 L188.7 55.1 L190.7 57.0 L192.7 59.0 L194.6 60.9 L196.6 62.9 L198.6 64.8 L200.6 66.8 L202.5 68.7 L204.5 70.7 L206.5 72.6 L208.5 74.6 L210.4 76.5 L212.4 78.5 L214.4 80.4 L216.4 82.4 L218.3 84.3 L220.3 86.3 L222.3 88.2 L224.2 90.2 L226.2 92.1 L228.2 94.1 L230.1 96.0 L232.1 98.0 L234.1 99.9 L236.0 101.9 L238.0 103.8 L240.0 105.8 L241.9 107.8 L243.9 109.7 L245.9 111.7 L247.8 113.6 L249.8 115.6 L251.7 117.5 L253.7 119.5 L255.6 121.4 L257.6 123.4 L259.6 125.3 L261.5 127.3 L263.5 129.2 L265.4 131.2 L267.4 133.1 L269.3 135.1 L271.3 137.0 L273.2 139.0 L275.2 140.9 L277.1 142.9 L279.1 144.8 L281.0 146.8 L283.0 148.7 L284.9 150.7 L286.9 152.6 L288.8 154.6 L290.8 156.5 L292.7 158.5 L294.6 160.4 L296.6 162.4 L298.5 164.3 L300.5 166.3 L302.4 168.3 L304.4 170.2 L306.3 172.2 L308.2 174.1 L310.2 176.1 L312.1 178.0 L314.0 180.0 L316.0 181.9 L317.9 183.9 L319.8 185.8 L321.8 187.8 L323.7 189.7 L325.6 191.7 L327.6 193.6 L329.5 195.6 L331.4 197.5 L333.4 199.5 L335.3 201.4 L337.2 203.4 L339.1 205.3 L341.1 207.3 L343.0 209.2 L344.9 211.2 L346.8 213.1 L348.8 215.1 L350.7 217.0 L352.6 219.0 L354.5 220.9 L356.4 222.9 M126.0 49.2 L127.9 51.2 L129.8 53.1 L131.8 55.1 L133.7 57.0 L135.7 59.0 L137.6 60.9 L139.5 62.9 L141.5 64.8 L143.4 66.8 L145.4 68.7 L147.3 70.7 L149.2 72.6 L151.2 74.6 L153.1 76.5 L155.0 78.5 L157.0 80.4 L158.9 82.4 L160.8 84.3 L162.8 86.3 L164.7 88.2 L166.6 90.2 L168.5 92.1 L170.5 94.1 L172.4 96.0 L174.3 98.0 L176.3 99.9 L178.2 101.9 L180.1 103.8 L182.0 105.8 L183.9 107.8 L185.9 109.7 L187.8 111.7 L189.7 113.6 L191.6 115.6 L193.5 117.5 L195.5 119.5 L197.4 121.4 L199.3 123.4 L201.2 125.3 L203.1 127.3 L205.0 129.2 L207.0 131.2 L208.9 133.1 L210.8 135.1 L212.7 137.0 L214.6 139.0 L216.5 140.9 L218.4 142.9 L220.3 144.8 L222.2 146.8 L224.1 148.7 L226.1 150.7 L228.0 152.6 L229.9 154.6 L231.8 156.5 L233.7 158.5 L235.6 160.4 L237.5 162.4 L239.4 164.3 L241.3 166.3 L243.2 168.3 L245.1 170.2 L247.0 172.2 L248.9 174.1 L250.8 176.1 L252.7 178.0 L254.5 180.0 L256.4 181.9 L258.3 183.9 L260.2 185.8 L262.1 187.8 L264.0 189.7 L265.9 191.7 L267.8 193.6 L269.7 195.6 L271.6 197.5 L273.4 199.5 L275.3 201.4 L277.2 203.4 L279.1 205.3 L281.0 207.3 L282.9 209.2 L284.7 211.2 L286.6 213.1 L288.5 215.1 L290.4 217.0 L292.3 219.0 L294.1 220.9 L296.0 222.9 M70.2 49.2 L72.1 51.2 L74.0 53.1 L76.0 55.1 L77.9 57.0 L79.8 59.0 L81.7 60.9 L83.6 62.9 L85.5 64.8 L87.4 66.8 L89.3 68.7 L91.2 70.7 L93.1 72.6 L95.0 74.6 L96.9 76.5 L98.8 78.5 L100.6 80.4 L102.5 82.4 L104.4 84.3 L106.3 86.3 L108.2 88.2 L110.1 90.2 L112.0 92.1 L113.9 94.1 L115.8 96.0 L117.7 98.0 L119.6 99.9 L121.4 101.9 L123.3 103.8 L125.2 105.8 L127.1 107.8 L129.0 109.7 L130.9 111.7 L132.8 113.6 L134.6 115.6 L136.5 117.5 L138.4 119.5 L140.3 121.4 L142.2 123.4 L144.0 125.3 L145.9 127.3 L147.8 129.2 L149.7 131.2 L151.5 133.1 L153.4 135.1 L155.3 137.0 L157.2 139.0 L159.0 140.9 L160.9 142.9 L162.8 144.8 L164.6 146.8 L166.5 148.7 L168.4 150.7 L170.2 152.6 L172.1 154.6 L174.0 156.5 L175.8 158.5 L177.7 160.4 L179.6 162.4 L181.4 164.3 L183.3 166.3 L185.1 168.3 L187.0 170.2 L188.9 172.2 L190.7 174.1 L192.6 176.1 L194.4 178.0 L196.3 180.0 L198.1 181.9 L200.0 183.9 L201.8 185.8 L203.7 187.8 L205.5 189.7 L207.4 191.7 L209.2 193.6 L211.1 195.6 L212.9 197.5 L214.8 199.5 L216.6 201.4 L218.5 203.4 L220.3 205.3 L222.2 207.3 L224.0 209.2 L225.8 211.2 L227.7 213.1 L229.5 215.1 L231.4 217.0 L233.2 219.0 L235.0 220.9 L236.9 222.9 M32.3 66.8 L34.2 68.7 L36.1 70.7 L37.9 72.6 L39.8 74.6 L41.7 76.5 L43.5 78.5 L45.4 80.4 L47.2 82.4 L49.1 84.3 L51.0 86.3 L52.8 88.2 L54.7 90.2 L56.5 92.1 L58.4 94.1 L60.2 96.0 L62.1 98.0 L63.9 99.9 L65.8 101.9 L67.6 103.8 L69.5 105.8 L71.3 107.8 L73.2 109.7 L75.0 111.7 L76.9 113.6 L78.7 115.6 L80.6 117.5 L82.4 119.5 L84.3 121.4 L86.1 123.4 L87.9 125.3 L89.8 127.3 L91.6 129.2 L93.5 131.2 L95.3 133.1 L97.1 135.1 L99.0 137.0 L100.8 139.0 L102.6 140.9 L104.5 142.9 L106.3 144.8 L108.1 146.8 L110.0 148.7 L111.8 150.7 L113.6 152.6 L115.5 154.6 L117.3 156.5 L119.1 158.5 L121.0 160.4 L122.8 162.4 L124.6 164.3 L126.4 166.3 L128.2 168.3 L130.1 170.2 L131.9 172.2 L133.7 174.1 L135.5 176.1 L137.4 178.0 L139.2 180.0 L141.0 181.9 L142.8 183.9 L144.6 185.8 L146.4 187.8 L148.3 189.7 L150.1 191.7 L151.9 193.6 L153.7 195.6 L155.5 197.5 L157.3 199.5 L159.1 201.4 L160.9 203.4 L162.7 205.3 L164.5 207.3 L166.3 209.2 L168.1 211.2 L169.9 213.1 L171.8 215.1 L173.6 217.0 L175.4 219.0 L177.2 220.9 L179.0 222.9 M31.1 123.4 L32.9 125.3 L34.7 127.3 L36.5 129.2 L38.3 131.2 L40.1 133.1 L41.9 135.1 L43.7 137.0 L45.5 139.0 L47.3 140.9 L49.1 142.9 L50.9 144.8 L52.7 146.8 L54.5 148.7 L56.3 150.7 L58.1 152.6 L59.9 154.6 L61.7 156.5 L63.5 158.5 L65.3 160.4 L67.1 162.4 L68.9 164.3 L70.6 166.3 L72.4 168.3 L74.2 170.2 L76.0 172.2 L77.8 174.1 L79.6 176.1 L81.4 178.0 L83.2 180.0 L84.9 181.9 L86.7 183.9 L88.5 185.8 L90.3 187.8 L92.1 189.7 L93.8 191.7 L95.6 193.6 L97.4 195.6 L99.2 197.5 L100.9 199.5 L102.7 201.4 L104.5 203.4 L106.3 205.3 L108.0 207.3 L109.8 209.2 L111.6 211.2 L113.3 213.1 L115.1 215.1 L116.9 217.0 L118.6 219.0 L120.4 220.9 L122.2 222.9 M31.7 183.9 L33.4 185.8 L35.2 187.8 L36.9 189.7 L38.6 191.7 L40.4 193.6 L42.1 195.6 L43.9 197.5 L45.6 199.5 L47.4 201.4 L49.1 203.4 L50.8 205.3 L52.6 207.3 L54.3 209.2 L56.0 211.2 L57.8 213.1 L59.5 215.1 L61.3 217.0 L63.0 219.0 L64.7 220.9 L66.4 222.9 M584.3 166.3 L582.5 168.3 L580.7 170.2 L578.9 172.2 L577.1 174.1 L575.3 176.1 L573.5 178.0 L571.7 180.0 L569.9 181.9 L568.1 183.9 L566.2 185.8 L564.4 187.8 L562.6 189.7 L560.8 191.7 L559.0 193.6 L557.2 195.6 L555.4 197.5 L553.6 199.5 L551.8 201.4 L550.0 203.4 L548.1 205.3 L546.3 207.3 L544.5 209.2 L542.7 211.2 L540.9 213.1 L539.1 215.1 L537.3 217.0 L535.4 219.0 L533.6 220.9 L531.8 222.9 M584.7 90.2 L582.9 92.1 L581.1 94.1 L579.3 96.0 L577.4 98.0 L575.6 99.9 L573.8 101.9 L571.9 103.8 L570.1 105.8 L568.3 107.8 L566.5 109.7 L564.6 111.7 L562.8 113.6 L561.0 115.6 L559.1 117.5 L557.3 119.5 L555.5 121.4 L553.6 123.4 L551.8 125.3 L550.0 127.3 L548.1 129.2 L546.3 131.2 L544.5 133.1 L542.6 135.1 L540.8 137.0 L539.0 139.0 L537.1 140.9 L535.3 142.9 L533.5 144.8 L531.6 146.8 L529.8 148.7 L527.9 150.7 L526.1 152.6 L524.3 154.6 L522.4 156.5 L520.6 158.5 L518.8 160.4 L516.9 162.4 L515.1 164.3 L513.2 166.3 L511.4 168.3 L509.6 170.2 L507.7 172.2 L505.9 174.1 L504.0 176.1 L502.2 178.0 L500.3 180.0 L498.5 181.9 L496.7 183.9 L494.8 185.8 L493.0 187.8 L491.1 189.7 L489.3 191.7 L487.4 193.6 L485.6 195.6 L483.8 197.5 L481.9 199.5 L480.1 201.4 L478.2 203.4 L476.4 205.3 L474.5 207.3 L472.7 209.2 L470.8 211.2 L469.0 213.1 L467.1 215.1 L465.3 217.0 L463.4 219.0 L461.6 220.9 L459.7 222.9 M553.2 49.2 L551.4 51.2 L549.5 53.1 L547.7 55.1 L545.8 57.0 L544.0 59.0 L542.1 60.9 L540.3 62.9 L538.4 64.8 L536.5 66.8 L534.7 68.7 L532.8 70.7 L531.0 72.6 L529.1 74.6 L527.3 76.5 L525.4 78.5 L523.5 80.4 L521.7 82.4 L519.8 84.3 L518.0 86.3 L516.1 88.2 L514.2 90.2 L512.4 92.1 L510.5 94.1 L508.7 96.0 L506.8 98.0 L504.9 99.9 L503.1 101.9 L501.2 103.8 L499.3 105.8 L497.5 107.8 L495.6 109.7 L493.7 111.7 L491.9 113.6 L490.0 115.6 L488.1 117.5 L486.3 119.5 L484.4 121.4 L482.5 123.4 L480.7 125.3 L478.8 127.3 L476.9 129.2 L475.1 131.2 L473.2 133.1 L471.3 135.1 L469.5 137.0 L467.6 139.0 L465.7 140.9 L463.8 142.9 L462.0 144.8 L460.1 146.8 L458.2 148.7 L456.4 150.7 L454.5 152.6 L452.6 154.6 L450.7 156.5 L448.9 158.5 L447.0 160.4 L445.1 162.4 L443.2 164.3 L441.4 166.3 L439.5 168.3 L437.6 170.2 L435.7 172.2 L433.9 174.1 L432.0 176.1 L430.1 178.0 L428.2 180.0 L426.3 181.9 L424.5 183.9 L422.6 185.8 L420.7 187.8 L418.8 189.7 L416.9 191.7 L415.1 193.6 L413.2 195.6 L411.3 197.5 L409.4 199.5 L407.5 201.4 L405.6 203.4 L403.8 205.3 L401.9 207.3 L400.0 209.2 L398.1 211.2 L396.2 213.1 L394.3 215.1 L392.4 217.0 L390.6 219.0 L388.7 220.9 L386.8 222.9 M482.7 49.2 L480.8 51.2 L478.9 53.1 L477.0 55.1 L475.1 57.0 L473.2 59.0 L471.4 60.9 L469.5 62.9 L467.6 64.8 L465.7 66.8 L463.8 68.7 L461.9 70.7 L460.0 72.6 L458.1 74.6 L456.2 76.5 L454.3 78.5 L452.4 80.4 L450.5 82.4 L448.6 84.3 L446.7 86.3 L444.8 88.2 L443.0 90.2 L441.1 92.1 L439.2 94.1 L437.3 96.0 L435.4 98.0 L433.5 99.9 L431.6 101.9 L429.7 103.8 L427.8 105.8 L425.9 107.8 L424.0 109.7 L422.1 111.7 L420.2 113.6 L418.3 115.6 L416.4 117.5 L414.5 119.5 L412.5 121.4 L410.6 123.4 L408.7 125.3 L406.8 127.3 L404.9 129.2 L403.0 131.2 L401.1 133.1 L399.2 135.1 L397.3 137.0 L395.4 139.0 L393.5 140.9 L391.6 142.9 L389.7 144.8 L387.8 146.8 L385.9 148.7 L383.9 150.7 L382.0 152.6 L380.1 154.6 L378.2 156.5 L376.3 158.5 L374.4 160.4 L372.5 162.4 L370.6 164.3 L368.7 166.3 L366.7 168.3 L364.8 170.2 L362.9 172.2 L361.0 174.1 L359.1 176.1 L357.2 178.0 L355.3 180.0 L353.3 181.9 L351.4 183.9 L349.5 185.8 L347.6 187.8 L345.7 189.7 L343.7 191.7 L341.8 193.6 L339.9 195.6 L338.0 197.5 L336.1 199.5 L334.1 201.4 L332.2 203.4 L330.3 205.3 L328.4 207.3 L326.5 209.2 L324.5 211.2 L322.6 213.1 L320.7 215.1 L318.8 217.0 L316.8 219.0 L314.9 220.9 L313.0 222.9 M411.4 49.2 L409.4 51.2 L407.5 53.1 L405.6 55.1 L403.7 57.0 L401.7 59.0 L399.8 60.9 L397.9 62.9 L396.0 64.8 L394.0 66.8 L392.1 68.7 L390.2 70.7 L388.2 72.6 L386.3 74.6 L384.4 76.5 L382.4 78.5 L380.5 80.4 L378.6 82.4 L376.7 84.3 L374.7 86.3 L372.8 88.2 L370.9 90.2 L368.9 92.1 L367.0 94.1 L365.1 96.0 L363.1 98.0 L361.2 99.9 L359.2 101.9 L357.3 103.8 L355.4 105.8 L353.4 107.8 L351.5 109.7 L349.6 111.7 L347.6 113.6 L345.7 115.6 L343.7 117.5 L341.8 119.5 L339.9 121.4 L337.9 123.4 L336.0 125.3 L334.0 127.3 L332.1 129.2 L330.1 131.2 L328.2 133.1 L326.3 135.1 L324.3 137.0 L322.4 139.0 L320.4 140.9 L318.5 142.9 L316.5 144.8 L314.6 146.8 L312.6 148.7 L310.7 150.7 L308.7 152.6 L306.8 154.6 L304.8 156.5 L302.9 158.5 L300.9 160.4 L299.0 162.4 L297.0 164.3 L295.1 166.3 L293.1 168.3 L291.2 170.2 L289.2 172.2 L287.3 174.1 L285.3 176.1 L283.4 178.0 L281.4 180.0 L279.5 181.9 L277.5 183.9 L275.5 185.8 L273.6 187.8 L271.6 189.7 L269.7 191.7 L267.7 193.6 L265.8 195.6 L263.8 197.5 L261.8 199.5 L259.9 201.4 L257.9 203.4 L256.0 205.3 L254.0 207.3 L252.0 209.2 L250.1 211.2 L248.1 213.1 L246.1 215.1 L244.2 217.0 L242.2 219.0 L240.2 220.9 L238.3 222.9 M339.2 49.2 L337.3 51.2 L335.3 53.1 L333.3 55.1 L331.4 57.0 L329.4 59.0 L327.4 60.9 L325.5 62.9 L323.5 64.8 L321.5 66.8 L319.6 68.7 L317.6 70.7 L315.6 72.6 L313.7 74.6 L311.7 76.5 L309.7 78.5 L307.8 80.4 L305.8 82.4 L303.8 84.3 L301.9 86.3 L299.9 88.2 L297.9 90.2 L295.9 92.1 L294.0 94.1 L292.0 96.0 L290.0 98.0 L288.1 99.9 L286.1 101.9 L284.1 103.8 L282.1 105.8 L280.2 107.8 L278.2 109.7 L276.2 111.7 L274.2 113.6 L272.2 115.6 L270.3 117.5 L268.3 119.5 L266.3 121.4 L264.3 123.4 L262.3 125.3 L260.4 127.3 L258.4 129.2 L256.4 131.2 L254.4 133.1 L252.4 135.1 L250.5 137.0 L248.5 139.0 L246.5 140.9 L244.5 142.9 L242.5 144.8 L240.5 146.8 L238.5 148.7 L236.6 150.7 L234.6 152.6 L232.6 154.6 L230.6 156.5 L228.6 158.5 L226.6 160.4 L224.6 162.4 L222.6 164.3 L220.6 166.3 L218.6 168.3 L216.7 170.2 L214.7 172.2 L212.7 174.1 L210.7 176.1 L208.7 178.0 L206.7 180.0 L204.7 181.9 L202.7 183.9 L200.7 185.8 L198.7 187.8 L196.7 189.7 L194.7 191.7 L192.7 193.6 L190.7 195.6 L188.7 197.5 L186.7 199.5 L184.7 201.4 L182.7 203.4 L180.7 205.3 L178.7 207.3 L176.7 209.2 L174.7 211.2 L172.7 213.1 L170.7 215.1 L168.7 217.0 L166.7 219.0 L164.7 220.9 L162.6 222.9 M266.2 49.2 L264.2 51.2 L262.2 53.1 L260.2 55.1 L258.2 57.0 L256.2 59.0 L254.2 60.9 L252.2 62.9 L250.2 64.8 L248.2 66.8 L246.2 68.7 L244.2 70.7 L242.2 72.6 L240.2 74.6 L238.2 76.5 L236.2 78.5 L234.2 80.4 L232.2 82.4 L230.1 84.3 L228.1 86.3 L226.1 88.2 L224.1 90.2 L222.1 92.1 L220.1 94.1 L218.1 96.0 L216.1 98.0 L214.1 99.9 L212.0 101.9 L210.0 103.8 L208.0 105.8 L206.0 107.8 L204.0 109.7 L202.0 111.7 L199.9 113.6 L197.9 115.6 L195.9 117.5 L193.9 119.5 L191.9 121.4 L189.8 123.4 L187.8 125.3 L185.8 127.3 L183.8 129.2 L181.8 131.2 L179.7 133.1 L177.7 135.1 L175.7 137.0 L173.7 139.0 L171.6 140.9 L169.6 142.9 L167.6 144.8 L165.6 146.8 L163.5 148.7 L161.5 150.7 L159.5 152.6 L157.4 154.6 L155.4 156.5 L153.4 158.5 L151.4 160.4 L149.3 162.4 L147.3 164.3 L145.3 166.3 L143.2 168.3 L141.2 170.2 L139.2 172.2 L137.1 174.1 L135.1 176.1 L133.0 178.0 L131.0 180.0 L129.0 181.9 L126.9 183.9 L124.9 185.8 L122.9 187.8 L120.8 189.7 L118.8 191.7 L116.7 193.6 L114.7 195.6 L112.7 197.5 L110.6 199.5 L108.6 201.4 L106.5 203.4 L104.5 205.3 L102.4 207.3 L100.4 209.2 L98.3 211.2 L96.3 213.1 L94.2 215.1 L92.2 217.0 L90.1 219.0 L88.1 220.9 L86.0 222.9 M192.4 49.2 L190.3 51.2 L188.3 53.1 L186.3 55.1 L184.2 57.0 L182.2 59.0 L180.1 60.9 L178.1 62.9 L176.0 64.8 L174.0 66.8 L172.0 68.7 L169.9 70.7 L167.9 72.6 L165.8 74.6 L163.8 76.5 L161.7 78.5 L159.7 80.4 L157.6 82.4 L155.6 84.3 L153.5 86.3 L151.5 88.2 L149.4 90.2 L147.4 92.1 L145.3 94.1 L143.3 96.0 L141.2 98.0 L139.1 99.9 L137.1 101.9 L135.0 103.8 L133.0 105.8 L130.9 107.8 L128.9 109.7 L126.8 111.7 L124.7 113.6 L122.7 115.6 L120.6 117.5 L118.6 119.5 L116.5 121.4 L114.4 123.4 L112.4 125.3 L110.3 127.3 L108.3 129.2 L106.2 131.2 L104.1 133.1 L102.1 135.1 L100.0 137.0 L97.9 139.0 L95.9 140.9 L93.8 142.9 L91.7 144.8 L89.6 146.8 L87.6 148.7 L85.5 150.7 L83.4 152.6 L81.4 154.6 L79.3 156.5 L77.2 158.5 L75.1 160.4 L73.1 162.4 L71.0 164.3 L68.9 166.3 L66.8 168.3 L64.8 170.2 L62.7 172.2 L60.6 174.1 L58.5 176.1 L56.4 178.0 L54.4 180.0 L52.3 181.9 L50.2 183.9 L48.1 185.8 L46.0 187.8 L44.0 189.7 L41.9 191.7 L39.8 193.6 L37.7 195.6 L35.6 197.5 L33.5 199.5 L31.4 201.4 M117.6 49.2 L115.5 51.2 L113.5 53.1 L111.4 55.1 L109.3 57.0 L107.2 59.0 L105.1 60.9 L103.0 62.9 L101.0 64.8 L98.9 66.8 L96.8 68.7 L94.7 70.7 L92.6 72.6 L90.5 74.6 L88.4 76.5 L86.3 78.5 L84.2 80.4 L82.2 82.4 L80.1 84.3 L78.0 86.3 L75.9 88.2 L73.8 90.2 L71.7 92.1 L69.6 94.1 L67.5 96.0 L65.4 98.0 L63.3 99.9 L61.2 101.9 L59.1 103.8 L57.0 105.8 L54.9 107.8 L52.8 109.7 L50.7 111.7 L48.6 113.6 L46.5 115.6 L44.4 117.5 L42.3 119.5 L40.2 121.4 L38.1 123.4 L36.0 125.3 L33.9 127.3 L31.8 129.2 M41.9 49.2 L39.8 51.2 L37.7 53.1 L35.6 55.1 L33.4 57.0 L31.3 59.0" fill="none" stroke="#1a1a1a" stroke-width="0.55" opacity="0.9"/>
<use href="#deco"/>
</g>
<rect x="38.6" y="50.2" width="539.1" height="171.7" fill="none" stroke="#000" stroke-width="1.6"/>
<path d="M70.9 50.2 l-4.4 -5.0 M126.5 50.2 l-4.4 -5.0 M183.5 50.2 l-4.4 -5.0 M241.7 50.2 l-4.4 -5.0 M300.2 50.2 l-4.4 -5.0 M361.0 50.2 l-4.4 -5.0 M423.5 50.2 l-4.4 -5.0 M485.4 50.2 l-4.4 -5.0 M549.8 50.2 l-4.4 -5.0 M65.8 221.9 l4.4 5.0 M121.4 221.9 l4.4 5.0 M178.2 221.9 l4.4 5.0 M235.8 221.9 l4.4 5.0 M296.0 221.9 l4.4 5.0 M356.6 221.9 l4.4 5.0 M418.0 221.9 l4.4 5.0 M480.7 221.9 l4.4 5.0 M545.0 221.9 l4.4 5.0 M38.6 52.5 l-4.4 4.4 M38.6 123.0 l-4.4 4.4 M38.6 194.2 l-4.4 4.4 M577.7 98.7 l4.8 -5.2 M577.7 174.5 l4.8 -5.2" fill="none" stroke="#1a1a1a" stroke-width="0.6"/>
<g font-size="12.6" fill="#1a1a1a" text-anchor="middle">
 <text x="65.0" y="42.2" textLength="34.6" lengthAdjust="spacingAndGlyphs">122°W</text>
 <text x="120.6" y="42.2" textLength="34.6" lengthAdjust="spacingAndGlyphs">121°W</text>
 <text x="177.4" y="42.2" textLength="34.6" lengthAdjust="spacingAndGlyphs">120°W</text>
 <text x="235.4" y="42.2" textLength="34.6" lengthAdjust="spacingAndGlyphs">119°W</text>
 <text x="294.4" y="42.2" textLength="34.6" lengthAdjust="spacingAndGlyphs">118°W</text>
 <text x="355.0" y="42.2" textLength="34.6" lengthAdjust="spacingAndGlyphs">117°W</text>
 <text x="413.0" y="42.2" textLength="34.6" lengthAdjust="spacingAndGlyphs">116°W</text>
 <text x="471.6" y="42.2" textLength="34.6" lengthAdjust="spacingAndGlyphs">115°W</text>
 <text x="531.6" y="42.2" textLength="34.6" lengthAdjust="spacingAndGlyphs">114°W</text>
<text x="68.8" y="239.8" textLength="34.6" lengthAdjust="spacingAndGlyphs">125°W</text>
<text x="120.4" y="239.8" textLength="34.6" lengthAdjust="spacingAndGlyphs">124°W</text>
<text x="173.5" y="239.8" textLength="34.6" lengthAdjust="spacingAndGlyphs">123°W</text>
<text x="227.2" y="239.8" textLength="34.6" lengthAdjust="spacingAndGlyphs">122°W</text>
<text x="298.4" y="239.8" textLength="34.6" lengthAdjust="spacingAndGlyphs">121°W</text>
<text x="358.7" y="239.8" textLength="34.6" lengthAdjust="spacingAndGlyphs">120°W</text>
<text x="420.7" y="239.8" textLength="34.6" lengthAdjust="spacingAndGlyphs">119°W</text>
<text x="484.1" y="239.8" textLength="34.6" lengthAdjust="spacingAndGlyphs">118°W</text>
<text x="548.0" y="239.8" textLength="34.6" lengthAdjust="spacingAndGlyphs">117°W</text>
<text x="14.5" y="61.8" textLength="26.4" lengthAdjust="spacingAndGlyphs">41°N</text>
<text x="14.5" y="132.8" textLength="26.4" lengthAdjust="spacingAndGlyphs">40°N</text>
<text x="14.5" y="203.1" textLength="26.4" lengthAdjust="spacingAndGlyphs">39°N</text>
<text x="599.2" y="97.5" textLength="26" lengthAdjust="spacingAndGlyphs">33°N</text>
<text x="599.2" y="175.0" textLength="26" lengthAdjust="spacingAndGlyphs">32°N</text>
</g>
<rect x="119.4" y="254.8" width="378" height="16" fill="url(#gplasma)" stroke="#000" stroke-width="1.5"/>
<path d="M120.2 270.8 v3.6 M164.4 270.8 v2.0 M208.5 270.8 v3.6 M252.7 270.8 v2.0 M296.9 270.8 v3.6 M341.1 270.8 v2.0 M385.2 270.8 v3.6 M429.4 270.8 v2.0 M473.6 270.8 v3.6" stroke="#1a1a1a" stroke-width="0.6" fill="none"/>
<g font-size="12.2" fill="#1a1a1a" text-anchor="middle">
<text x="119.7" y="287.4">0.0</text>
<text x="208.0" y="287.4">0.2</text>
<text x="296.4" y="287.4">0.4</text>
<text x="384.7" y="287.4">0.6</text>
<text x="473.1" y="287.4">0.8</text>
<text x="305.6" y="304" font-size="12.8" textLength="105" lengthAdjust="spacingAndGlyphs">Fault Misalignment</text>
</g>
<rect x="618.6" y="42.6" width="12.6" height="188" fill="url(#ghot)" stroke="#000" stroke-width="1.5"/>
<path d="M631.8 72.9 h3.6 M631.8 122.8 h3.6 M631.8 174.0 h3.6 M631.8 225.0 h3.6" stroke="#1a1a1a" stroke-width="0.6" fill="none"/>
<g font-size="12.2" fill="#1a1a1a" text-anchor="end">
<text x="663.2" y="77.2">10</text>
<text x="663.2" y="127.1">1</text>
<text x="663.2" y="178.3">0.1</text>
<text x="663.2" y="229.3">0.01</text>
</g>
<text transform="translate(680.0,141.8) rotate(-90)" font-size="12.2" fill="#1a1a1a" text-anchor="middle" textLength="106.5" lengthAdjust="spacingAndGlyphs">Creep Rate (mm/yr)</text>
</g>
<g transform="translate(0,331)">
<rect x="38.6" y="50.2" width="539.1" height="171.7" fill="#818181"/>
<g clip-path="url(#clipmap)">
<use href="#faults"/>
<circle cx="81.6" cy="159.3" r="11.0" fill="#f2d632"/>
<circle cx="85.9" cy="160.4" r="11.0" fill="#f2d632"/>
<circle cx="90.2" cy="161.4" r="11.0" fill="#f2d732"/>
<circle cx="94.6" cy="162.1" r="11.0" fill="#f2d732"/>
<circle cx="99.0" cy="162.7" r="11.0" fill="#f1d832"/>
<circle cx="103.5" cy="163.2" r="11.0" fill="#f1d832"/>
<circle cx="107.9" cy="163.8" r="11.0" fill="#f1d932"/>
<circle cx="112.3" cy="164.5" r="11.0" fill="#f1d932"/>
<circle cx="116.7" cy="165.3" r="11.0" fill="#f1da32"/>
<circle cx="121.1" cy="166.0" r="11.0" fill="#f1da32"/>
<circle cx="125.5" cy="166.7" r="11.0" fill="#f0dc32"/>
<circle cx="129.9" cy="167.2" r="11.0" fill="#f0dd32"/>
<circle cx="134.3" cy="167.7" r="11.0" fill="#efdf31"/>
<circle cx="138.6" cy="168.8" r="11.0" fill="#efe031"/>
<circle cx="142.8" cy="170.3" r="11.0" fill="#efe131"/>
<circle cx="146.9" cy="171.9" r="11.0" fill="#eee231"/>
<circle cx="151.2" cy="173.2" r="11.0" fill="#efe131"/>
<circle cx="155.5" cy="174.3" r="11.0" fill="#f1d732"/>
<circle cx="159.8" cy="175.4" r="11.0" fill="#f4ce33"/>
<circle cx="164.1" cy="176.5" r="11.0" fill="#f5c535"/>
<circle cx="168.5" cy="177.1" r="11.0" fill="#f5b43c"/>
<circle cx="172.9" cy="177.8" r="11.0" fill="#f4a145"/>
<circle cx="177.3" cy="178.4" r="11.0" fill="#ef914e"/>
<circle cx="181.7" cy="179.4" r="11.0" fill="#ec8556"/>
<circle cx="186.1" cy="180.0" r="11.0" fill="#e97f59"/>
<circle cx="190.5" cy="180.0" r="11.0" fill="#e67a5d"/>
<circle cx="195.0" cy="180.0" r="11.0" fill="#e37560"/>
<circle cx="199.4" cy="180.0" r="11.0" fill="#ea8158"/>
<circle cx="203.9" cy="180.1" r="11.0" fill="#ee8d51"/>
<circle cx="208.3" cy="180.3" r="11.0" fill="#f29949"/>
<circle cx="212.8" cy="180.4" r="11.0" fill="#f5a642"/>
<circle cx="217.0" cy="179.4" r="11.0" fill="#f5ad3f"/>
<circle cx="221.0" cy="177.5" r="11.0" fill="#f5ad3f"/>
<circle cx="81.6" cy="154.8" r="9.0" fill="#f5a443"/>
<circle cx="85.9" cy="155.9" r="9.0" fill="#f5a443"/>
<circle cx="90.2" cy="156.9" r="9.0" fill="#f5a443"/>
<circle cx="94.6" cy="157.6" r="9.0" fill="#f5a443"/>
<circle cx="99.0" cy="158.2" r="9.0" fill="#f5a443"/>
<circle cx="103.5" cy="158.7" r="9.0" fill="#f5a443"/>
<circle cx="107.9" cy="159.3" r="9.0" fill="#f5a443"/>
<circle cx="112.3" cy="160.0" r="9.0" fill="#f5a443"/>
<circle cx="116.7" cy="160.8" r="9.0" fill="#f5a443"/>
<circle cx="121.1" cy="161.5" r="9.0" fill="#f5a443"/>
<circle cx="125.5" cy="162.2" r="9.0" fill="#f5a443"/>
<circle cx="129.9" cy="162.7" r="9.0" fill="#f5a443"/>
<circle cx="134.3" cy="163.2" r="9.0" fill="#f5a443"/>
<circle cx="138.6" cy="164.3" r="9.0" fill="#f5a443"/>
<circle cx="142.8" cy="165.8" r="9.0" fill="#f5a443"/>
<circle cx="146.9" cy="167.4" r="9.0" fill="#f5a443"/>
<circle cx="151.2" cy="168.7" r="9.0" fill="#f5a443"/>
<circle cx="155.5" cy="169.8" r="9.0" fill="#f5a244"/>
<circle cx="159.8" cy="170.9" r="9.0" fill="#f4a045"/>
<circle cx="164.1" cy="172.0" r="9.0" fill="#f49e46"/>
<circle cx="168.5" cy="172.6" r="9.0" fill="#f39c48"/>
<circle cx="172.9" cy="173.3" r="9.0" fill="#f29a49"/>
<circle cx="177.3" cy="173.9" r="9.0" fill="#f29a49"/>
<circle cx="181.7" cy="174.9" r="9.0" fill="#f39c47"/>
<circle cx="186.1" cy="175.5" r="9.0" fill="#f49e46"/>
<circle cx="190.5" cy="175.5" r="9.0" fill="#f4a045"/>
<circle cx="195.0" cy="175.5" r="9.0" fill="#f5a344"/>
<circle cx="199.4" cy="175.5" r="9.0" fill="#f5a543"/>
<circle cx="203.9" cy="175.6" r="9.0" fill="#f5a742"/>
<circle cx="208.3" cy="175.8" r="9.0" fill="#f5a941"/>
<circle cx="212.8" cy="175.9" r="9.0" fill="#f5ac40"/>
<circle cx="217.0" cy="174.9" r="9.0" fill="#f5ad3f"/>
<circle cx="221.0" cy="173.0" r="9.0" fill="#f5ad3f"/>
<circle cx="181.0" cy="147.3" r="11.0" fill="#bf4385"/>
<circle cx="185.2" cy="147.8" r="11.0" fill="#c04485"/>
<circle cx="189.2" cy="149.1" r="11.0" fill="#c24683"/>
<circle cx="193.1" cy="150.9" r="11.0" fill="#da646c"/>
<circle cx="197.0" cy="152.4" r="11.0" fill="#ed8754"/>
<circle cx="201.0" cy="153.7" r="11.0" fill="#f5a642"/>
<circle cx="205.0" cy="155.3" r="11.0" fill="#f5c336"/>
<circle cx="182.0" cy="149.8" r="10.5" fill="#d8626e"/>
<circle cx="186.2" cy="150.3" r="10.5" fill="#d9636d"/>
<circle cx="190.2" cy="151.6" r="10.5" fill="#db666b"/>
<circle cx="194.1" cy="153.4" r="10.5" fill="#ed8754"/>
<circle cx="198.0" cy="154.9" r="10.5" fill="#f5ad3f"/>
<circle cx="202.0" cy="156.2" r="10.5" fill="#f5c635"/>
<circle cx="206.0" cy="157.8" r="10.5" fill="#f5cc33"/>
<circle cx="67.0" cy="116.2" r="11.0" fill="#f39d47"/>
<circle cx="71.2" cy="117.1" r="11.0" fill="#f39c48"/>
<circle cx="75.5" cy="117.9" r="11.0" fill="#f39c48"/>
<circle cx="79.7" cy="118.8" r="11.0" fill="#f39b48"/>
<circle cx="84.0" cy="119.5" r="11.0" fill="#f29b48"/>
<circle cx="88.3" cy="120.2" r="11.0" fill="#f29a49"/>
<circle cx="92.6" cy="120.9" r="11.0" fill="#f29a49"/>
<circle cx="96.8" cy="121.6" r="11.0" fill="#ef904f"/>
<circle cx="101.1" cy="122.2" r="11.0" fill="#e77c5c"/>
<circle cx="105.4" cy="122.8" r="11.0" fill="#dd6969"/>
<circle cx="109.7" cy="123.5" r="11.0" fill="#d05776"/>
<circle cx="114.0" cy="123.7" r="11.0" fill="#cd5279"/>
<circle cx="118.1" cy="125.0" r="11.0" fill="#d45c72"/>
<circle cx="122.1" cy="126.7" r="11.0" fill="#d9636d"/>
<circle cx="126.0" cy="128.6" r="11.0" fill="#dd6869"/>
<circle cx="129.7" cy="130.8" r="11.0" fill="#df6e66"/>
<circle cx="133.5" cy="133.0" r="11.0" fill="#e27362"/>
<circle cx="137.4" cy="134.8" r="11.0" fill="#e37560"/>
<circle cx="141.3" cy="136.6" r="11.0" fill="#e37560"/>
<circle cx="145.0" cy="138.9" r="11.0" fill="#e37560"/>
<circle cx="148.7" cy="141.2" r="11.0" fill="#e37560"/>
<circle cx="152.3" cy="143.6" r="11.0" fill="#e17064"/>
<circle cx="156.1" cy="145.7" r="11.0" fill="#dc6869"/>
<circle cx="160.0" cy="147.4" r="11.0" fill="#d7616f"/>
<circle cx="163.7" cy="149.7" r="11.0" fill="#d25a74"/>
<circle cx="167.4" cy="152.0" r="11.0" fill="#cd5379"/>
<circle cx="170.8" cy="154.6" r="11.0" fill="#cb507b"/>
<circle cx="174.3" cy="157.2" r="11.0" fill="#d25a74"/>
<circle cx="177.8" cy="159.8" r="11.0" fill="#d9646d"/>
<circle cx="181.7" cy="161.5" r="11.0" fill="#e27262"/>
<circle cx="185.8" cy="162.9" r="11.0" fill="#ec8555"/>
<circle cx="190.1" cy="163.8" r="11.0" fill="#f29949"/>
<circle cx="194.3" cy="164.7" r="11.0" fill="#f29949"/>
<circle cx="412.2" cy="75.3" r="11.2" fill="#f4a145"/>
<circle cx="409.0" cy="78.4" r="11.2" fill="#f4a145"/>
<circle cx="406.0" cy="81.7" r="11.2" fill="#f49f46"/>
<circle cx="403.1" cy="85.1" r="11.2" fill="#f39d47"/>
<circle cx="400.4" cy="88.7" r="11.2" fill="#f29a49"/>
<circle cx="397.8" cy="92.3" r="11.2" fill="#f2974a"/>
<circle cx="395.4" cy="96.1" r="11.2" fill="#f1954c"/>
<circle cx="393.1" cy="99.9" r="11.2" fill="#f0924e"/>
<circle cx="391.0" cy="103.9" r="11.2" fill="#ef904f"/>
<circle cx="389.2" cy="107.9" r="11.2" fill="#ef8e50"/>
<circle cx="387.6" cy="112.1" r="11.2" fill="#ee8c51"/>
<circle cx="386.4" cy="116.4" r="11.2" fill="#ed8a53"/>
<circle cx="385.5" cy="120.8" r="11.2" fill="#ed8754"/>
<circle cx="384.6" cy="125.2" r="11.2" fill="#ec8555"/>
<circle cx="384.0" cy="129.6" r="11.2" fill="#eb8357"/>
<circle cx="383.4" cy="134.0" r="11.2" fill="#e98059"/>
<circle cx="382.8" cy="138.4" r="11.2" fill="#e87d5b"/>
<circle cx="382.2" cy="142.9" r="11.2" fill="#e67a5d"/>
<circle cx="381.5" cy="147.3" r="11.2" fill="#e4775f"/>
<circle cx="380.8" cy="151.7" r="11.2" fill="#e27263"/>
<circle cx="380.2" cy="156.1" r="11.2" fill="#dd6a68"/>
<circle cx="379.0" cy="160.4" r="11.2" fill="#d8626e"/>
<circle cx="377.5" cy="164.6" r="11.2" fill="#d35b73"/>
<circle cx="375.4" cy="168.6" r="11.2" fill="#c94e7d"/>
<circle cx="372.6" cy="172.0" r="11.2" fill="#be4286"/>
<circle cx="369.8" cy="175.5" r="11.2" fill="#b33690"/>
<circle cx="414.6" cy="75.3" r="10.6" fill="#f29a49"/>
<circle cx="411.4" cy="78.4" r="10.6" fill="#f29a49"/>
<circle cx="408.4" cy="81.7" r="10.6" fill="#f1954c"/>
<circle cx="405.5" cy="85.1" r="10.6" fill="#ee8c51"/>
<circle cx="402.8" cy="88.7" r="10.6" fill="#eb8456"/>
<circle cx="400.2" cy="92.3" r="10.6" fill="#e77c5c"/>
<circle cx="397.8" cy="96.1" r="10.6" fill="#e5785e"/>
<circle cx="395.5" cy="99.9" r="10.6" fill="#e37461"/>
<circle cx="393.4" cy="103.9" r="10.6" fill="#e17064"/>
<circle cx="391.6" cy="107.9" r="10.6" fill="#df6d66"/>
<circle cx="390.0" cy="112.1" r="10.6" fill="#dd6a68"/>
<circle cx="388.8" cy="116.4" r="10.6" fill="#dd6969"/>
<circle cx="387.9" cy="120.8" r="10.6" fill="#dc686a"/>
<circle cx="387.0" cy="125.2" r="10.6" fill="#db676b"/>
<circle cx="386.4" cy="129.6" r="10.6" fill="#db666b"/>
<circle cx="385.8" cy="134.0" r="10.6" fill="#da646c"/>
<circle cx="385.2" cy="138.4" r="10.6" fill="#d9636d"/>
<circle cx="384.6" cy="142.9" r="10.6" fill="#d8626e"/>
<circle cx="383.9" cy="147.3" r="10.6" fill="#d8616e"/>
<circle cx="383.2" cy="151.7" r="10.6" fill="#d65f70"/>
<circle cx="382.6" cy="156.1" r="10.6" fill="#d35b73"/>
<circle cx="381.4" cy="160.4" r="10.6" fill="#d05776"/>
<circle cx="379.9" cy="164.6" r="10.6" fill="#cd5379"/>
<circle cx="377.8" cy="168.6" r="10.6" fill="#ca4f7c"/>
<circle cx="375.0" cy="172.0" r="10.6" fill="#c14584"/>
<circle cx="372.2" cy="175.5" r="10.6" fill="#b3368f"/>
<circle cx="537.3" cy="141.6" r="11.0" fill="#de6a68"/>
<circle cx="541.7" cy="140.0" r="11.0" fill="#de6a68"/>
<circle cx="546.0" cy="138.3" r="11.0" fill="#e77b5c"/>
<circle cx="550.6" cy="138.1" r="11.0" fill="#f1954c"/>
<circle cx="555.2" cy="138.4" r="11.0" fill="#f5af3e"/>
<circle cx="559.9" cy="138.9" r="11.0" fill="#f4cf33"/>
<circle cx="564.5" cy="139.3" r="11.0" fill="#eceb30"/>
<circle cx="448.8" cy="151.1" r="11.0" fill="#d25a74"/>
<circle cx="453.2" cy="151.4" r="11.0" fill="#d25a74"/>
<circle cx="457.6" cy="151.6" r="11.0" fill="#d25a74"/>
<circle cx="461.9" cy="151.7" r="11.0" fill="#d25a74"/>
<circle cx="466.3" cy="151.5" r="11.0" fill="#d25a74"/>
<circle cx="470.7" cy="151.3" r="11.0" fill="#d35b73"/>
<circle cx="475.1" cy="151.1" r="11.0" fill="#d7616f"/>
<circle cx="479.5" cy="150.9" r="11.0" fill="#db666b"/>
<circle cx="483.8" cy="150.5" r="11.0" fill="#df6c66"/>
<circle cx="488.2" cy="150.2" r="11.0" fill="#e27362"/>
<circle cx="492.6" cy="149.9" r="11.0" fill="#e4775f"/>
<circle cx="497.0" cy="149.6" r="11.0" fill="#e67a5d"/>
<circle cx="501.3" cy="149.3" r="11.0" fill="#e37560"/>
<circle cx="505.7" cy="148.9" r="11.0" fill="#d65f70"/>
<circle cx="510.1" cy="148.6" r="11.0" fill="#bd4187"/>
<circle cx="514.5" cy="148.3" r="11.0" fill="#9219a3"/>
<circle cx="518.8" cy="148.0" r="11.0" fill="#730da8"/>
<circle cx="523.2" cy="147.7" r="11.0" fill="#550ca4"/>
<circle cx="527.6" cy="147.4" r="11.0" fill="#330f99"/>
<circle cx="57.5" cy="125.7" r="11.5" fill="#f5a443"/>
<circle cx="61.7" cy="127.1" r="11.5" fill="#f5a443"/>
<circle cx="65.9" cy="128.5" r="11.5" fill="#f5a443"/>
<circle cx="70.0" cy="129.9" r="11.5" fill="#f5a443"/>
<circle cx="74.2" cy="131.4" r="11.5" fill="#f5a443"/>
<circle cx="78.4" cy="132.8" r="11.5" fill="#f5a443"/>
<circle cx="82.6" cy="134.2" r="11.5" fill="#f5a443"/>
<circle cx="86.7" cy="135.7" r="11.5" fill="#f5a443"/>
<circle cx="90.8" cy="137.3" r="11.5" fill="#f5a443"/>
<circle cx="94.9" cy="138.9" r="11.5" fill="#f5a443"/>
<circle cx="99.0" cy="140.5" r="11.5" fill="#f5a443"/>
<circle cx="103.2" cy="142.1" r="11.5" fill="#f5a443"/>
<circle cx="107.3" cy="143.7" r="11.5" fill="#f5a443"/>
<circle cx="111.4" cy="145.2" r="11.5" fill="#f5a443"/>
<circle cx="115.6" cy="146.7" r="11.5" fill="#f5a443"/>
<circle cx="119.7" cy="148.2" r="11.5" fill="#f5a443"/>
<circle cx="124.0" cy="149.1" r="11.5" fill="#f5a443"/>
<circle cx="128.4" cy="150.0" r="11.5" fill="#f5a443"/>
<circle cx="132.7" cy="150.9" r="11.5" fill="#f5a443"/>
<circle cx="137.0" cy="151.8" r="11.5" fill="#f5a443"/>
<circle cx="141.3" cy="152.9" r="11.5" fill="#f5a443"/>
<circle cx="145.5" cy="154.2" r="11.5" fill="#f5a443"/>
<circle cx="149.6" cy="155.8" r="11.5" fill="#f5a443"/>
<circle cx="153.7" cy="157.5" r="11.5" fill="#f5a542"/>
<circle cx="157.9" cy="158.8" r="11.5" fill="#f5a642"/>
<circle cx="162.2" cy="159.9" r="11.5" fill="#f5a742"/>
<circle cx="166.5" cy="160.7" r="11.5" fill="#f5a741"/>
<circle cx="170.9" cy="161.2" r="11.5" fill="#f5a841"/>
<circle cx="175.2" cy="161.8" r="11.5" fill="#f5a941"/>
<circle cx="179.6" cy="162.4" r="11.5" fill="#f5aa40"/>
<circle cx="184.0" cy="163.0" r="11.5" fill="#f5aa40"/>
<circle cx="188.3" cy="163.7" r="11.5" fill="#f5ab40"/>
<circle cx="192.7" cy="164.5" r="11.5" fill="#f5ac40"/>
<circle cx="197.0" cy="165.2" r="11.5" fill="#f5ad3f"/>
<circle cx="201.4" cy="166.0" r="11.5" fill="#f5ad3f"/>
<circle cx="205.7" cy="167.0" r="11.5" fill="#f5ad3f"/>
<circle cx="210.0" cy="168.1" r="11.5" fill="#f5ad3f"/>
<circle cx="214.2" cy="169.1" r="11.5" fill="#f5ae3f"/>
<circle cx="218.5" cy="170.1" r="11.5" fill="#f5ae3f"/>
<circle cx="222.8" cy="171.3" r="11.5" fill="#f5ae3f"/>
<circle cx="227.0" cy="172.5" r="11.5" fill="#f5ae3f"/>
<circle cx="231.3" cy="173.4" r="11.5" fill="#f5ae3f"/>
<circle cx="235.7" cy="174.0" r="11.5" fill="#f5ae3f"/>
<circle cx="240.1" cy="174.5" r="11.5" fill="#f5ae3e"/>
<circle cx="244.5" cy="175.1" r="11.5" fill="#f5af3e"/>
<circle cx="248.8" cy="175.7" r="11.5" fill="#f5af3e"/>
<circle cx="253.2" cy="176.3" r="11.5" fill="#f5af3e"/>
<circle cx="257.6" cy="176.9" r="11.5" fill="#f5af3e"/>
<circle cx="262.0" cy="177.4" r="11.5" fill="#f5af3e"/>
<circle cx="266.3" cy="178.0" r="11.5" fill="#f5af3e"/>
<circle cx="270.7" cy="178.6" r="11.5" fill="#f5af3e"/>
<circle cx="275.1" cy="179.1" r="11.5" fill="#f5af3e"/>
<circle cx="279.5" cy="179.6" r="11.5" fill="#f5b03e"/>
<circle cx="283.9" cy="180.2" r="11.5" fill="#f5b03e"/>
<circle cx="288.2" cy="180.7" r="11.5" fill="#f5b03e"/>
<circle cx="292.6" cy="181.2" r="11.5" fill="#f5b03e"/>
<circle cx="297.0" cy="181.9" r="11.5" fill="#f5b03e"/>
<circle cx="301.3" cy="182.5" r="11.5" fill="#f5b03e"/>
<circle cx="305.7" cy="183.1" r="11.5" fill="#f5b03e"/>
<circle cx="310.1" cy="183.6" r="11.5" fill="#f5b13e"/>
<circle cx="314.5" cy="184.1" r="11.5" fill="#f5b13e"/>
<circle cx="318.9" cy="184.7" r="11.5" fill="#f5b13d"/>
<circle cx="323.3" cy="185.1" r="11.5" fill="#f5b13d"/>
<circle cx="327.7" cy="185.3" r="11.5" fill="#f5b13d"/>
<circle cx="332.1" cy="185.5" r="11.5" fill="#f5b13d"/>
<circle cx="336.5" cy="185.7" r="11.5" fill="#f5b13d"/>
<circle cx="340.9" cy="185.9" r="11.5" fill="#f5af3e"/>
<circle cx="345.3" cy="185.8" r="11.5" fill="#f5a244"/>
<circle cx="349.7" cy="185.3" r="11.5" fill="#f2984a"/>
<circle cx="354.0" cy="184.7" r="11.5" fill="#ed8953"/>
<circle cx="358.3" cy="183.7" r="11.5" fill="#e4775f"/>
<circle cx="362.5" cy="182.2" r="11.5" fill="#db656b"/>
<circle cx="366.4" cy="180.3" r="11.5" fill="#d05876"/>
<circle cx="370.2" cy="178.0" r="11.5" fill="#c64a7f"/>
<circle cx="374.0" cy="175.7" r="11.5" fill="#cb507b"/>
<circle cx="377.7" cy="173.4" r="11.5" fill="#db666b"/>
<circle cx="381.5" cy="171.2" r="11.5" fill="#e77b5c"/>
<circle cx="385.4" cy="169.0" r="11.5" fill="#ed8a53"/>
<circle cx="389.4" cy="167.2" r="11.5" fill="#f29a49"/>
<circle cx="393.4" cy="165.3" r="11.5" fill="#f5a443"/>
<circle cx="397.5" cy="163.7" r="11.5" fill="#f5a244"/>
<circle cx="401.6" cy="162.1" r="11.5" fill="#f4a045"/>
<circle cx="405.7" cy="160.5" r="11.5" fill="#f39e47"/>
<circle cx="409.9" cy="159.0" r="11.5" fill="#f39c48"/>
<circle cx="414.0" cy="157.6" r="11.5" fill="#f29a49"/>
<circle cx="418.2" cy="156.1" r="11.5" fill="#ee8c51"/>
<circle cx="422.4" cy="154.8" r="11.5" fill="#e77c5c"/>
<circle cx="426.6" cy="153.5" r="11.5" fill="#df6c67"/>
<circle cx="430.9" cy="152.3" r="11.5" fill="#d9636d"/>
<circle cx="435.1" cy="151.1" r="11.5" fill="#d45c72"/>
<circle cx="439.4" cy="150.1" r="11.5" fill="#cf5677"/>
<circle cx="443.7" cy="149.0" r="11.5" fill="#ca507b"/>
<circle cx="448.0" cy="148.0" r="11.5" fill="#c84c7e"/>
<circle cx="452.1" cy="146.3" r="11.5" fill="#c54980"/>
<circle cx="455.8" cy="144.1" r="11.5" fill="#c24683"/>
<circle cx="458.9" cy="141.0" r="11.5" fill="#be4286"/>
<circle cx="462.1" cy="137.9" r="11.5" fill="#b93d8a"/>
<circle cx="465.6" cy="135.3" r="11.5" fill="#b4388e"/>
<circle cx="469.5" cy="133.2" r="11.5" fill="#b5388e"/>
<circle cx="473.5" cy="131.4" r="11.5" fill="#bf4286"/>
<circle cx="477.8" cy="130.2" r="11.5" fill="#c94d7d"/>
<circle cx="482.1" cy="129.3" r="11.5" fill="#d25974"/>
<circle cx="486.4" cy="128.5" r="11.5" fill="#db666b"/>
<circle cx="490.8" cy="128.2" r="11.5" fill="#e5785e"/>
<circle cx="495.2" cy="127.9" r="11.5" fill="#ef8e50"/>
<circle cx="499.6" cy="127.7" r="11.5" fill="#f0934d"/>
<circle cx="504.0" cy="127.7" r="11.5" fill="#f1954c"/>
<circle cx="508.5" cy="127.7" r="11.5" fill="#f1974b"/>
<circle cx="512.9" cy="127.7" r="11.5" fill="#f2984a"/>
<circle cx="517.3" cy="127.7" r="11.5" fill="#ee8d50"/>
<circle cx="521.7" cy="127.7" r="11.5" fill="#e4775f"/>
<circle cx="526.1" cy="127.7" r="11.5" fill="#d25a74"/>
<circle cx="169.6" cy="180.7" r="10.5" fill="#e37560"/>
<circle cx="175.0" cy="184.0" r="10.5" fill="#e37560"/>
<circle cx="181.3" cy="186.5" r="10.5" fill="#e37560"/>
<use href="#faults2"/>
<use href="#coast"/>
<circle cx="217.0" cy="177.9" r="5.7" fill="#f22a1a"/>
<circle cx="212.8" cy="178.9" r="5.8" fill="#f24c1e"/>
<circle cx="208.3" cy="178.8" r="5.8" fill="#f2511f"/>
<circle cx="203.9" cy="178.6" r="5.8" fill="#f2491e"/>
<circle cx="199.4" cy="178.5" r="5.7" fill="#370706"/>
<circle cx="195.0" cy="178.5" r="5.7" fill="#f2261a"/>
<circle cx="190.5" cy="178.5" r="5.7" fill="#f2321b"/>
<circle cx="181.7" cy="177.9" r="5.7" fill="#f22a1a"/>
<circle cx="177.3" cy="176.9" r="5.7" fill="#a91511"/>
<circle cx="172.9" cy="176.3" r="5.7" fill="#f22b1a"/>
<circle cx="168.5" cy="175.6" r="5.7" fill="#f22219"/>
<circle cx="164.1" cy="175.0" r="5.7" fill="#a91511"/>
<circle cx="159.8" cy="173.9" r="5.7" fill="#a91511"/>
<circle cx="151.2" cy="171.7" r="5.9" fill="#f28124"/>
<circle cx="146.9" cy="170.4" r="5.9" fill="#f28324"/>
<circle cx="142.8" cy="168.8" r="5.8" fill="#0a0101"/>
<circle cx="138.6" cy="167.3" r="5.9" fill="#f2ac29"/>
<circle cx="134.3" cy="166.2" r="5.9" fill="#f2b62a"/>
<circle cx="129.9" cy="165.7" r="5.9" fill="#f2b62a"/>
<circle cx="125.5" cy="165.2" r="5.9" fill="#f27b23"/>
<circle cx="107.9" cy="162.3" r="5.7" fill="#f22c1b"/>
<circle cx="103.5" cy="161.7" r="5.9" fill="#f28224"/>
<circle cx="99.0" cy="161.2" r="5.9" fill="#f3fe41"/>
<circle cx="94.6" cy="160.6" r="5.9" fill="#f3fe3a"/>
<circle cx="90.2" cy="159.9" r="5.7" fill="#630c0a"/>
<circle cx="85.9" cy="158.9" r="5.7" fill="#f22d1b"/>
<circle cx="81.6" cy="157.8" r="5.7" fill="#a91511"/>
<circle cx="202.0" cy="155.7" r="5.8" fill="#f2511f"/>
<circle cx="198.0" cy="154.4" r="5.8" fill="#f2451d"/>
<circle cx="194.1" cy="152.9" r="5.8" fill="#f2461d"/>
<circle cx="190.2" cy="151.1" r="5.8" fill="#f2501f"/>
<circle cx="186.2" cy="149.8" r="5.7" fill="#f2311b"/>
<circle cx="182.0" cy="149.3" r="5.9" fill="#f3fe38"/>
<circle cx="371.0" cy="175.5" r="5.8" fill="#0a0101"/>
<circle cx="373.8" cy="172.0" r="5.8" fill="#0a0101"/>
<circle cx="376.6" cy="168.6" r="5.7" fill="#630c0a"/>
<circle cx="378.7" cy="164.6" r="5.7" fill="#f2291a"/>
<circle cx="380.2" cy="160.4" r="5.7" fill="#f22b1a"/>
<circle cx="381.4" cy="156.1" r="5.7" fill="#f2271a"/>
<circle cx="382.0" cy="151.7" r="5.8" fill="#0a0101"/>
<circle cx="382.7" cy="147.3" r="5.7" fill="#f2281a"/>
<circle cx="383.4" cy="142.9" r="5.7" fill="#630c0a"/>
<circle cx="384.0" cy="138.4" r="5.8" fill="#0a0101"/>
<circle cx="384.6" cy="134.0" r="5.8" fill="#0a0101"/>
<circle cx="385.2" cy="129.6" r="5.7" fill="#a91511"/>
<circle cx="385.8" cy="125.2" r="5.8" fill="#f24a1e"/>
<circle cx="386.7" cy="120.8" r="5.7" fill="#370706"/>
<circle cx="387.6" cy="116.4" r="5.7" fill="#370706"/>
<circle cx="388.8" cy="112.1" r="5.7" fill="#da1b16"/>
<circle cx="390.4" cy="107.9" r="5.7" fill="#630c0a"/>
<circle cx="392.2" cy="103.9" r="5.8" fill="#0a0101"/>
<circle cx="394.3" cy="99.9" r="5.8" fill="#0a0101"/>
<circle cx="396.6" cy="96.1" r="5.7" fill="#630c0a"/>
<circle cx="399.0" cy="92.3" r="5.7" fill="#a91511"/>
<circle cx="401.6" cy="88.7" r="5.7" fill="#a91511"/>
<circle cx="404.3" cy="85.1" r="5.7" fill="#de1b17"/>
<circle cx="407.2" cy="81.7" r="5.7" fill="#630c0a"/>
<circle cx="410.2" cy="78.4" r="5.7" fill="#370706"/>
<circle cx="413.4" cy="75.3" r="5.8" fill="#0a0101"/>
<circle cx="564.5" cy="139.3" r="5.7" fill="#d81b16"/>
<circle cx="559.9" cy="138.9" r="5.9" fill="#f28024"/>
<circle cx="555.2" cy="138.4" r="5.9" fill="#f2b92a"/>
<circle cx="550.6" cy="138.1" r="5.9" fill="#f2ac29"/>
<circle cx="546.0" cy="138.3" r="5.7" fill="#f22b1a"/>
<circle cx="541.7" cy="140.0" r="5.7" fill="#f22e1b"/>
<circle cx="537.3" cy="141.6" r="5.9" fill="#f3fe39"/>
<circle cx="527.6" cy="147.4" r="5.7" fill="#f2251a"/>
<circle cx="523.2" cy="147.7" r="5.7" fill="#f22f1b"/>
<circle cx="518.8" cy="148.0" r="5.7" fill="#f2251a"/>
<circle cx="514.5" cy="148.3" r="5.7" fill="#a91511"/>
<circle cx="510.1" cy="148.6" r="5.7" fill="#f2251a"/>
<circle cx="505.7" cy="148.9" r="5.7" fill="#f2291a"/>
<circle cx="501.3" cy="149.3" r="5.8" fill="#0a0101"/>
<circle cx="497.0" cy="149.6" r="5.7" fill="#630c0a"/>
<circle cx="492.6" cy="149.9" r="5.7" fill="#630c0a"/>
<circle cx="488.2" cy="150.2" r="5.8" fill="#0a0101"/>
<circle cx="483.8" cy="150.5" r="5.7" fill="#a91511"/>
<circle cx="479.5" cy="150.9" r="5.8" fill="#f2501f"/>
<circle cx="475.1" cy="151.1" r="5.8" fill="#f2471e"/>
<circle cx="470.7" cy="151.3" r="5.8" fill="#f24a1e"/>
<circle cx="466.3" cy="151.5" r="5.8" fill="#f24a1e"/>
<circle cx="461.9" cy="151.7" r="5.8" fill="#f2531f"/>
<circle cx="457.6" cy="151.6" r="5.7" fill="#f2291a"/>
<circle cx="453.2" cy="151.4" r="5.7" fill="#f2301b"/>
<circle cx="448.8" cy="151.1" r="5.7" fill="#f2241a"/>
<circle cx="526.1" cy="127.7" r="5.8" fill="#f24a1e"/>
<circle cx="521.7" cy="127.7" r="5.8" fill="#f2501f"/>
<circle cx="517.3" cy="127.7" r="5.9" fill="#f28825"/>
<circle cx="512.9" cy="127.7" r="5.9" fill="#f28124"/>
<circle cx="508.5" cy="127.7" r="5.7" fill="#f2251a"/>
<circle cx="504.0" cy="127.7" r="5.9" fill="#f27c23"/>
<circle cx="499.6" cy="127.7" r="5.9" fill="#f28324"/>
<circle cx="495.2" cy="127.9" r="5.9" fill="#f27d24"/>
<circle cx="490.8" cy="128.2" r="5.7" fill="#f22f1b"/>
<circle cx="486.4" cy="128.5" r="5.7" fill="#a91511"/>
<circle cx="482.1" cy="129.3" r="5.7" fill="#a91511"/>
<circle cx="477.8" cy="130.2" r="5.8" fill="#0a0101"/>
<circle cx="473.5" cy="131.4" r="5.7" fill="#f22f1b"/>
<circle cx="469.5" cy="133.2" r="5.7" fill="#f2251a"/>
<circle cx="465.6" cy="135.3" r="5.7" fill="#f2261a"/>
<circle cx="462.1" cy="137.9" r="5.7" fill="#f22f1b"/>
<circle cx="458.9" cy="141.0" r="5.7" fill="#a91511"/>
<circle cx="455.8" cy="144.1" r="5.7" fill="#a91511"/>
<circle cx="452.1" cy="146.3" r="5.7" fill="#a91511"/>
<circle cx="448.0" cy="148.0" r="5.7" fill="#f22c1b"/>
<circle cx="443.7" cy="149.0" r="5.8" fill="#0a0101"/>
<circle cx="439.4" cy="150.1" r="5.7" fill="#f22f1b"/>
<circle cx="435.1" cy="151.1" r="5.7" fill="#f2271a"/>
<circle cx="430.9" cy="152.3" r="5.7" fill="#f2241a"/>
<circle cx="426.6" cy="153.5" r="5.7" fill="#f2261a"/>
<circle cx="422.4" cy="154.8" r="5.7" fill="#f22f1b"/>
<circle cx="418.2" cy="156.1" r="5.7" fill="#f2261a"/>
<circle cx="414.0" cy="157.6" r="5.7" fill="#a91511"/>
<circle cx="409.9" cy="159.0" r="5.7" fill="#630c0a"/>
<circle cx="405.7" cy="160.5" r="5.7" fill="#630c0a"/>
<circle cx="401.6" cy="162.1" r="5.7" fill="#f2271a"/>
<circle cx="397.5" cy="163.7" r="5.7" fill="#f2281a"/>
<circle cx="393.4" cy="165.3" r="5.7" fill="#f2281a"/>
<circle cx="389.4" cy="167.2" r="5.7" fill="#a91511"/>
<circle cx="385.4" cy="169.0" r="5.7" fill="#630c0a"/>
<circle cx="381.5" cy="171.2" r="5.7" fill="#630c0a"/>
<circle cx="377.7" cy="173.4" r="5.7" fill="#630c0a"/>
<circle cx="374.0" cy="175.7" r="5.7" fill="#630c0a"/>
<circle cx="370.2" cy="178.0" r="5.7" fill="#370706"/>
<circle cx="366.4" cy="180.3" r="5.7" fill="#f2281a"/>
<circle cx="362.5" cy="182.2" r="5.8" fill="#0a0101"/>
<circle cx="358.3" cy="183.7" r="5.9" fill="#f28925"/>
<circle cx="354.0" cy="184.7" r="5.7" fill="#630c0a"/>
<circle cx="349.7" cy="185.3" r="5.7" fill="#f2241a"/>
<circle cx="345.3" cy="185.8" r="5.7" fill="#a91511"/>
<circle cx="340.9" cy="185.9" r="5.7" fill="#a91511"/>
<circle cx="336.5" cy="185.7" r="5.8" fill="#0a0101"/>
<circle cx="332.1" cy="185.5" r="5.7" fill="#630c0a"/>
<circle cx="327.7" cy="185.3" r="5.7" fill="#a91511"/>
<circle cx="323.3" cy="185.1" r="5.7" fill="#a91511"/>
<circle cx="318.9" cy="184.7" r="5.7" fill="#f22219"/>
<circle cx="314.5" cy="184.1" r="5.8" fill="#f2541f"/>
<circle cx="310.1" cy="183.6" r="5.7" fill="#f2301b"/>
<circle cx="305.7" cy="183.1" r="5.8" fill="#f2551f"/>
<circle cx="301.3" cy="182.5" r="5.7" fill="#f2291a"/>
<circle cx="297.0" cy="181.9" r="5.9" fill="#f4fe47"/>
<circle cx="292.6" cy="181.2" r="5.9" fill="#f28925"/>
<circle cx="288.2" cy="180.7" r="5.7" fill="#f2251a"/>
<circle cx="283.9" cy="180.2" r="5.9" fill="#f8fe94"/>
<circle cx="279.5" cy="179.6" r="5.9" fill="#f8fe96"/>
<circle cx="275.1" cy="179.1" r="5.9" fill="#fdfeda"/>
<circle cx="270.7" cy="178.6" r="5.9" fill="#fdfed7"/>
<circle cx="266.3" cy="178.0" r="5.9" fill="#fcfed2"/>
<circle cx="262.0" cy="177.4" r="5.9" fill="#f8fe8a"/>
<circle cx="257.6" cy="176.9" r="5.9" fill="#f8fe88"/>
<circle cx="253.2" cy="176.3" r="5.9" fill="#f7fe84"/>
<circle cx="248.8" cy="175.7" r="5.8" fill="#f24f1e"/>
<circle cx="244.5" cy="175.1" r="5.9" fill="#f3fe38"/>
<circle cx="240.1" cy="174.5" r="5.9" fill="#f3fe44"/>
<circle cx="235.7" cy="174.0" r="5.9" fill="#f2fe33"/>
<circle cx="231.3" cy="173.4" r="5.9" fill="#f4fe46"/>
<circle cx="227.0" cy="172.5" r="5.9" fill="#f3fe42"/>
<circle cx="222.8" cy="171.3" r="5.9" fill="#f4fe47"/>
<circle cx="218.5" cy="170.1" r="5.7" fill="#f2301b"/>
<circle cx="214.2" cy="169.1" r="5.9" fill="#f4fe46"/>
<circle cx="210.0" cy="168.1" r="5.9" fill="#f3fe3f"/>
<circle cx="205.7" cy="167.0" r="5.9" fill="#f2fe32"/>
<circle cx="201.4" cy="166.0" r="5.9" fill="#f3fe43"/>
<circle cx="197.0" cy="165.2" r="5.9" fill="#f2fe36"/>
<circle cx="192.7" cy="164.5" r="5.9" fill="#f3fe39"/>
<circle cx="188.3" cy="163.7" r="5.9" fill="#f3fe41"/>
<circle cx="184.0" cy="163.0" r="5.9" fill="#f3fe3e"/>
<circle cx="179.6" cy="162.4" r="5.9" fill="#f3fe3b"/>
<circle cx="175.2" cy="161.8" r="5.9" fill="#f4fe47"/>
<circle cx="170.9" cy="161.2" r="5.9" fill="#f3fe40"/>
<circle cx="166.5" cy="160.7" r="5.9" fill="#f2d52d"/>
<circle cx="162.2" cy="159.9" r="5.9" fill="#f2d32d"/>
<circle cx="157.9" cy="158.8" r="5.9" fill="#f2dd2e"/>
<circle cx="153.7" cy="157.5" r="5.9" fill="#f2d72e"/>
<circle cx="149.6" cy="155.8" r="5.9" fill="#f2b92a"/>
<circle cx="145.5" cy="154.2" r="5.9" fill="#f2b229"/>
<circle cx="141.3" cy="152.9" r="5.7" fill="#a91511"/>
<circle cx="137.0" cy="151.8" r="5.7" fill="#f2251a"/>
<circle cx="132.7" cy="150.9" r="5.8" fill="#f24e1e"/>
<circle cx="128.4" cy="150.0" r="5.9" fill="#f28725"/>
<circle cx="124.0" cy="149.1" r="5.7" fill="#f2241a"/>
<circle cx="119.7" cy="148.2" r="5.7" fill="#f22f1b"/>
<circle cx="115.6" cy="146.7" r="5.7" fill="#f2311b"/>
<circle cx="111.4" cy="145.2" r="5.9" fill="#f2dd2e"/>
<circle cx="107.3" cy="143.7" r="5.7" fill="#f22f1b"/>
<circle cx="103.2" cy="142.1" r="5.9" fill="#f27a23"/>
<circle cx="99.0" cy="140.5" r="5.8" fill="#f24f1e"/>
<circle cx="94.9" cy="138.9" r="5.7" fill="#f2301b"/>
<circle cx="90.8" cy="137.3" r="5.7" fill="#f22219"/>
<circle cx="86.7" cy="135.7" r="5.9" fill="#f27e24"/>
<circle cx="82.6" cy="134.2" r="5.7" fill="#a91511"/>
<circle cx="78.4" cy="132.8" r="5.9" fill="#f2b029"/>
<circle cx="74.2" cy="131.4" r="5.9" fill="#f2d82e"/>
<circle cx="70.0" cy="129.9" r="5.9" fill="#f2b32a"/>
<circle cx="65.9" cy="128.5" r="5.9" fill="#f3fe3d"/>
<circle cx="61.7" cy="127.1" r="5.9" fill="#f28725"/>
<circle cx="57.5" cy="125.7" r="5.8" fill="#f2451d"/>
<circle cx="194.3" cy="164.7" r="5.9" fill="#f2fe33"/>
<circle cx="190.1" cy="163.8" r="5.9" fill="#f2fe35"/>
<circle cx="185.8" cy="162.9" r="5.9" fill="#f2d12d"/>
<circle cx="181.7" cy="161.5" r="5.9" fill="#f2d02d"/>
<circle cx="177.8" cy="159.8" r="5.9" fill="#f28a25"/>
<circle cx="174.3" cy="157.2" r="5.7" fill="#f2301b"/>
<circle cx="170.8" cy="154.6" r="5.7" fill="#f2231a"/>
<circle cx="167.4" cy="152.0" r="5.9" fill="#f28224"/>
<circle cx="163.7" cy="149.7" r="5.9" fill="#f27f24"/>
<circle cx="160.0" cy="147.4" r="5.9" fill="#f27f24"/>
<circle cx="156.1" cy="145.7" r="5.7" fill="#a91511"/>
<circle cx="152.3" cy="143.6" r="5.9" fill="#f28024"/>
<circle cx="148.7" cy="141.2" r="5.9" fill="#f8fe91"/>
<circle cx="141.3" cy="136.6" r="5.7" fill="#f22b1a"/>
<circle cx="137.4" cy="134.8" r="5.7" fill="#a91511"/>
<circle cx="133.5" cy="133.0" r="5.7" fill="#a91511"/>
<circle cx="126.0" cy="128.6" r="5.9" fill="#f2b229"/>
<circle cx="109.7" cy="123.5" r="5.7" fill="#a91511"/>
<circle cx="105.4" cy="122.8" r="5.7" fill="#f2251a"/>
<circle cx="101.1" cy="122.2" r="5.9" fill="#f27f24"/>
<circle cx="96.8" cy="121.6" r="5.9" fill="#f27c23"/>
<circle cx="92.6" cy="120.9" r="5.7" fill="#f22b1a"/>
<circle cx="88.3" cy="120.2" r="5.9" fill="#f2b82a"/>
<circle cx="84.0" cy="119.5" r="5.9" fill="#f2d62d"/>
<circle cx="79.7" cy="118.8" r="5.9" fill="#f2ad29"/>
<circle cx="67.0" cy="116.2" r="5.7" fill="#630c0a"/>
<circle cx="169.6" cy="180.7" r="5.8" fill="#0a0101"/>
<circle cx="181.3" cy="186.5" r="5.7" fill="#f2241a"/>
<path d="M550.2 49.2 L552.5 51.2 L554.7 53.1 L557.0 55.1 L559.3 57.0 L561.6 59.0 L563.8 60.9 L566.1 62.9 L568.4 64.8 L570.7 66.8 L572.9 68.7 L575.2 70.7 L577.5 72.6 L579.8 74.6 L582.0 76.5 L584.3 78.5 M485.3 49.2 L487.6 51.2 L489.8 53.1 L492.0 55.1 L494.2 57.0 L496.4 59.0 L498.6 60.9 L500.9 62.9 L503.1 64.8 L505.3 66.8 L507.5 68.7 L509.7 70.7 L511.9 72.6 L514.1 74.6 L516.4 76.5 L518.6 78.5 L520.8 80.4 L523.0 82.4 L525.2 84.3 L527.4 86.3 L529.6 88.2 L531.8 90.2 L534.1 92.1 L536.3 94.1 L538.5 96.0 L540.7 98.0 L542.9 99.9 L545.1 101.9 L547.3 103.8 L549.5 105.8 L551.7 107.8 L553.9 109.7 L556.1 111.7 L558.3 113.6 L560.6 115.6 L562.8 117.5 L565.0 119.5 L567.2 121.4 L569.4 123.4 L571.6 125.3 L573.8 127.3 L576.0 129.2 L578.2 131.2 L580.4 133.1 L582.6 135.1 L584.8 137.0 M422.1 49.2 L424.2 51.2 L426.4 53.1 L428.6 55.1 L430.7 57.0 L432.9 59.0 L435.0 60.9 L437.2 62.9 L439.4 64.8 L441.5 66.8 L443.7 68.7 L445.8 70.7 L448.0 72.6 L450.2 74.6 L452.3 76.5 L454.5 78.5 L456.6 80.4 L458.8 82.4 L461.0 84.3 L463.1 86.3 L465.3 88.2 L467.4 90.2 L469.6 92.1 L471.7 94.1 L473.9 96.0 L476.0 98.0 L478.2 99.9 L480.3 101.9 L482.5 103.8 L484.6 105.8 L486.8 107.8 L489.0 109.7 L491.1 111.7 L493.3 113.6 L495.4 115.6 L497.6 117.5 L499.7 119.5 L501.8 121.4 L504.0 123.4 L506.1 125.3 L508.3 127.3 L510.4 129.2 L512.6 131.2 L514.7 133.1 L516.9 135.1 L519.0 137.0 L521.2 139.0 L523.3 140.9 L525.4 142.9 L527.6 144.8 L529.7 146.8 L531.9 148.7 L534.0 150.7 L536.2 152.6 L538.3 154.6 L540.4 156.5 L542.6 158.5 L544.7 160.4 L546.8 162.4 L549.0 164.3 L551.1 166.3 L553.3 168.3 L555.4 170.2 L557.5 172.2 L559.7 174.1 L561.8 176.1 L563.9 178.0 L566.1 180.0 L568.2 181.9 L570.3 183.9 L572.5 185.8 L574.6 187.8 L576.7 189.7 L578.9 191.7 L581.0 193.6 L583.1 195.6 L585.3 197.5 M360.3 49.2 L362.4 51.2 L364.5 53.1 L366.6 55.1 L368.7 57.0 L370.8 59.0 L372.9 60.9 L375.1 62.9 L377.2 64.8 L379.3 66.8 L381.4 68.7 L383.5 70.7 L385.6 72.6 L387.7 74.6 L389.8 76.5 L391.9 78.5 L394.0 80.4 L396.1 82.4 L398.2 84.3 L400.3 86.3 L402.4 88.2 L404.6 90.2 L406.7 92.1 L408.8 94.1 L410.9 96.0 L413.0 98.0 L415.1 99.9 L417.2 101.9 L419.3 103.8 L421.4 105.8 L423.5 107.8 L425.6 109.7 L427.7 111.7 L429.8 113.6 L431.9 115.6 L434.0 117.5 L436.0 119.5 L438.1 121.4 L440.2 123.4 L442.3 125.3 L444.4 127.3 L446.5 129.2 L448.6 131.2 L450.7 133.1 L452.8 135.1 L454.9 137.0 L457.0 139.0 L459.1 140.9 L461.2 142.9 L463.2 144.8 L465.3 146.8 L467.4 148.7 L469.5 150.7 L471.6 152.6 L473.7 154.6 L475.8 156.5 L477.9 158.5 L479.9 160.4 L482.0 162.4 L484.1 164.3 L486.2 166.3 L488.3 168.3 L490.4 170.2 L492.4 172.2 L494.5 174.1 L496.6 176.1 L498.7 178.0 L500.7 180.0 L502.8 181.9 L504.9 183.9 L507.0 185.8 L509.1 187.8 L511.1 189.7 L513.2 191.7 L515.3 193.6 L517.4 195.6 L519.4 197.5 L521.5 199.5 L523.6 201.4 L525.6 203.4 L527.7 205.3 L529.8 207.3 L531.9 209.2 L533.9 211.2 L536.0 213.1 L538.1 215.1 L540.1 217.0 L542.2 219.0 L544.3 220.9 L546.3 222.9 M299.8 49.2 L301.9 51.2 L304.0 53.1 L306.0 55.1 L308.1 57.0 L310.2 59.0 L312.2 60.9 L314.3 62.9 L316.4 64.8 L318.4 66.8 L320.5 68.7 L322.5 70.7 L324.6 72.6 L326.7 74.6 L328.7 76.5 L330.8 78.5 L332.8 80.4 L334.9 82.4 L337.0 84.3 L339.0 86.3 L341.1 88.2 L343.1 90.2 L345.2 92.1 L347.2 94.1 L349.3 96.0 L351.3 98.0 L353.4 99.9 L355.5 101.9 L357.5 103.8 L359.6 105.8 L361.6 107.8 L363.7 109.7 L365.7 111.7 L367.8 113.6 L369.8 115.6 L371.8 117.5 L373.9 119.5 L375.9 121.4 L378.0 123.4 L380.0 125.3 L382.1 127.3 L384.1 129.2 L386.2 131.2 L388.2 133.1 L390.2 135.1 L392.3 137.0 L394.3 139.0 L396.4 140.9 L398.4 142.9 L400.5 144.8 L402.5 146.8 L404.5 148.7 L406.6 150.7 L408.6 152.6 L410.6 154.6 L412.7 156.5 L414.7 158.5 L416.7 160.4 L418.8 162.4 L420.8 164.3 L422.8 166.3 L424.9 168.3 L426.9 170.2 L428.9 172.2 L431.0 174.1 L433.0 176.1 L435.0 178.0 L437.0 180.0 L439.1 181.9 L441.1 183.9 L443.1 185.8 L445.1 187.8 L447.2 189.7 L449.2 191.7 L451.2 193.6 L453.2 195.6 L455.3 197.5 L457.3 199.5 L459.3 201.4 L461.3 203.4 L463.3 205.3 L465.4 207.3 L467.4 209.2 L469.4 211.2 L471.4 213.1 L473.4 215.1 L475.4 217.0 L477.5 219.0 L479.5 220.9 L481.5 222.9 M240.7 49.2 L242.7 51.2 L244.7 53.1 L246.8 55.1 L248.8 57.0 L250.8 59.0 L252.8 60.9 L254.8 62.9 L256.9 64.8 L258.9 66.8 L260.9 68.7 L262.9 70.7 L264.9 72.6 L266.9 74.6 L269.0 76.5 L271.0 78.5 L273.0 80.4 L275.0 82.4 L277.0 84.3 L279.0 86.3 L281.0 88.2 L283.1 90.2 L285.1 92.1 L287.1 94.1 L289.1 96.0 L291.1 98.0 L293.1 99.9 L295.1 101.9 L297.1 103.8 L299.1 105.8 L301.1 107.8 L303.1 109.7 L305.1 111.7 L307.1 113.6 L309.1 115.6 L311.1 117.5 L313.1 119.5 L315.1 121.4 L317.1 123.4 L319.1 125.3 L321.1 127.3 L323.1 129.2 L325.1 131.2 L327.1 133.1 L329.1 135.1 L331.1 137.0 L333.1 139.0 L335.1 140.9 L337.1 142.9 L339.1 144.8 L341.1 146.8 L343.1 148.7 L345.1 150.7 L347.1 152.6 L349.0 154.6 L351.0 156.5 L353.0 158.5 L355.0 160.4 L357.0 162.4 L359.0 164.3 L361.0 166.3 L363.0 168.3 L364.9 170.2 L366.9 172.2 L368.9 174.1 L370.9 176.1 L372.9 178.0 L374.8 180.0 L376.8 181.9 L378.8 183.9 L380.8 185.8 L382.8 187.8 L384.7 189.7 L386.7 191.7 L388.7 193.6 L390.7 195.6 L392.6 197.5 L394.6 199.5 L396.6 201.4 L398.5 203.4 L400.5 205.3 L402.5 207.3 L404.5 209.2 L406.4 211.2 L408.4 213.1 L410.4 215.1 L412.3 217.0 L414.3 219.0 L416.3 220.9 L418.2 222.9 M182.8 49.2 L184.7 51.2 L186.7 53.1 L188.7 55.1 L190.7 57.0 L192.7 59.0 L194.6 60.9 L196.6 62.9 L198.6 64.8 L200.6 66.8 L202.5 68.7 L204.5 70.7 L206.5 72.6 L208.5 74.6 L210.4 76.5 L212.4 78.5 L214.4 80.4 L216.4 82.4 L218.3 84.3 L220.3 86.3 L222.3 88.2 L224.2 90.2 L226.2 92.1 L228.2 94.1 L230.1 96.0 L232.1 98.0 L234.1 99.9 L236.0 101.9 L238.0 103.8 L240.0 105.8 L241.9 107.8 L243.9 109.7 L245.9 111.7 L247.8 113.6 L249.8 115.6 L251.7 117.5 L253.7 119.5 L255.6 121.4 L257.6 123.4 L259.6 125.3 L261.5 127.3 L263.5 129.2 L265.4 131.2 L267.4 133.1 L269.3 135.1 L271.3 137.0 L273.2 139.0 L275.2 140.9 L277.1 142.9 L279.1 144.8 L281.0 146.8 L283.0 148.7 L284.9 150.7 L286.9 152.6 L288.8 154.6 L290.8 156.5 L292.7 158.5 L294.6 160.4 L296.6 162.4 L298.5 164.3 L300.5 166.3 L302.4 168.3 L304.4 170.2 L306.3 172.2 L308.2 174.1 L310.2 176.1 L312.1 178.0 L314.0 180.0 L316.0 181.9 L317.9 183.9 L319.8 185.8 L321.8 187.8 L323.7 189.7 L325.6 191.7 L327.6 193.6 L329.5 195.6 L331.4 197.5 L333.4 199.5 L335.3 201.4 L337.2 203.4 L339.1 205.3 L341.1 207.3 L343.0 209.2 L344.9 211.2 L346.8 213.1 L348.8 215.1 L350.7 217.0 L352.6 219.0 L354.5 220.9 L356.4 222.9 M126.0 49.2 L127.9 51.2 L129.8 53.1 L131.8 55.1 L133.7 57.0 L135.7 59.0 L137.6 60.9 L139.5 62.9 L141.5 64.8 L143.4 66.8 L145.4 68.7 L147.3 70.7 L149.2 72.6 L151.2 74.6 L153.1 76.5 L155.0 78.5 L157.0 80.4 L158.9 82.4 L160.8 84.3 L162.8 86.3 L164.7 88.2 L166.6 90.2 L168.5 92.1 L170.5 94.1 L172.4 96.0 L174.3 98.0 L176.3 99.9 L178.2 101.9 L180.1 103.8 L182.0 105.8 L183.9 107.8 L185.9 109.7 L187.8 111.7 L189.7 113.6 L191.6 115.6 L193.5 117.5 L195.5 119.5 L197.4 121.4 L199.3 123.4 L201.2 125.3 L203.1 127.3 L205.0 129.2 L207.0 131.2 L208.9 133.1 L210.8 135.1 L212.7 137.0 L214.6 139.0 L216.5 140.9 L218.4 142.9 L220.3 144.8 L222.2 146.8 L224.1 148.7 L226.1 150.7 L228.0 152.6 L229.9 154.6 L231.8 156.5 L233.7 158.5 L235.6 160.4 L237.5 162.4 L239.4 164.3 L241.3 166.3 L243.2 168.3 L245.1 170.2 L247.0 172.2 L248.9 174.1 L250.8 176.1 L252.7 178.0 L254.5 180.0 L256.4 181.9 L258.3 183.9 L260.2 185.8 L262.1 187.8 L264.0 189.7 L265.9 191.7 L267.8 193.6 L269.7 195.6 L271.6 197.5 L273.4 199.5 L275.3 201.4 L277.2 203.4 L279.1 205.3 L281.0 207.3 L282.9 209.2 L284.7 211.2 L286.6 213.1 L288.5 215.1 L290.4 217.0 L292.3 219.0 L294.1 220.9 L296.0 222.9 M70.2 49.2 L72.1 51.2 L74.0 53.1 L76.0 55.1 L77.9 57.0 L79.8 59.0 L81.7 60.9 L83.6 62.9 L85.5 64.8 L87.4 66.8 L89.3 68.7 L91.2 70.7 L93.1 72.6 L95.0 74.6 L96.9 76.5 L98.8 78.5 L100.6 80.4 L102.5 82.4 L104.4 84.3 L106.3 86.3 L108.2 88.2 L110.1 90.2 L112.0 92.1 L113.9 94.1 L115.8 96.0 L117.7 98.0 L119.6 99.9 L121.4 101.9 L123.3 103.8 L125.2 105.8 L127.1 107.8 L129.0 109.7 L130.9 111.7 L132.8 113.6 L134.6 115.6 L136.5 117.5 L138.4 119.5 L140.3 121.4 L142.2 123.4 L144.0 125.3 L145.9 127.3 L147.8 129.2 L149.7 131.2 L151.5 133.1 L153.4 135.1 L155.3 137.0 L157.2 139.0 L159.0 140.9 L160.9 142.9 L162.8 144.8 L164.6 146.8 L166.5 148.7 L168.4 150.7 L170.2 152.6 L172.1 154.6 L174.0 156.5 L175.8 158.5 L177.7 160.4 L179.6 162.4 L181.4 164.3 L183.3 166.3 L185.1 168.3 L187.0 170.2 L188.9 172.2 L190.7 174.1 L192.6 176.1 L194.4 178.0 L196.3 180.0 L198.1 181.9 L200.0 183.9 L201.8 185.8 L203.7 187.8 L205.5 189.7 L207.4 191.7 L209.2 193.6 L211.1 195.6 L212.9 197.5 L214.8 199.5 L216.6 201.4 L218.5 203.4 L220.3 205.3 L222.2 207.3 L224.0 209.2 L225.8 211.2 L227.7 213.1 L229.5 215.1 L231.4 217.0 L233.2 219.0 L235.0 220.9 L236.9 222.9 M32.3 66.8 L34.2 68.7 L36.1 70.7 L37.9 72.6 L39.8 74.6 L41.7 76.5 L43.5 78.5 L45.4 80.4 L47.2 82.4 L49.1 84.3 L51.0 86.3 L52.8 88.2 L54.7 90.2 L56.5 92.1 L58.4 94.1 L60.2 96.0 L62.1 98.0 L63.9 99.9 L65.8 101.9 L67.6 103.8 L69.5 105.8 L71.3 107.8 L73.2 109.7 L75.0 111.7 L76.9 113.6 L78.7 115.6 L80.6 117.5 L82.4 119.5 L84.3 121.4 L86.1 123.4 L87.9 125.3 L89.8 127.3 L91.6 129.2 L93.5 131.2 L95.3 133.1 L97.1 135.1 L99.0 137.0 L100.8 139.0 L102.6 140.9 L104.5 142.9 L106.3 144.8 L108.1 146.8 L110.0 148.7 L111.8 150.7 L113.6 152.6 L115.5 154.6 L117.3 156.5 L119.1 158.5 L121.0 160.4 L122.8 162.4 L124.6 164.3 L126.4 166.3 L128.2 168.3 L130.1 170.2 L131.9 172.2 L133.7 174.1 L135.5 176.1 L137.4 178.0 L139.2 180.0 L141.0 181.9 L142.8 183.9 L144.6 185.8 L146.4 187.8 L148.3 189.7 L150.1 191.7 L151.9 193.6 L153.7 195.6 L155.5 197.5 L157.3 199.5 L159.1 201.4 L160.9 203.4 L162.7 205.3 L164.5 207.3 L166.3 209.2 L168.1 211.2 L169.9 213.1 L171.8 215.1 L173.6 217.0 L175.4 219.0 L177.2 220.9 L179.0 222.9 M31.1 123.4 L32.9 125.3 L34.7 127.3 L36.5 129.2 L38.3 131.2 L40.1 133.1 L41.9 135.1 L43.7 137.0 L45.5 139.0 L47.3 140.9 L49.1 142.9 L50.9 144.8 L52.7 146.8 L54.5 148.7 L56.3 150.7 L58.1 152.6 L59.9 154.6 L61.7 156.5 L63.5 158.5 L65.3 160.4 L67.1 162.4 L68.9 164.3 L70.6 166.3 L72.4 168.3 L74.2 170.2 L76.0 172.2 L77.8 174.1 L79.6 176.1 L81.4 178.0 L83.2 180.0 L84.9 181.9 L86.7 183.9 L88.5 185.8 L90.3 187.8 L92.1 189.7 L93.8 191.7 L95.6 193.6 L97.4 195.6 L99.2 197.5 L100.9 199.5 L102.7 201.4 L104.5 203.4 L106.3 205.3 L108.0 207.3 L109.8 209.2 L111.6 211.2 L113.3 213.1 L115.1 215.1 L116.9 217.0 L118.6 219.0 L120.4 220.9 L122.2 222.9 M31.7 183.9 L33.4 185.8 L35.2 187.8 L36.9 189.7 L38.6 191.7 L40.4 193.6 L42.1 195.6 L43.9 197.5 L45.6 199.5 L47.4 201.4 L49.1 203.4 L50.8 205.3 L52.6 207.3 L54.3 209.2 L56.0 211.2 L57.8 213.1 L59.5 215.1 L61.3 217.0 L63.0 219.0 L64.7 220.9 L66.4 222.9 M584.3 166.3 L582.5 168.3 L580.7 170.2 L578.9 172.2 L577.1 174.1 L575.3 176.1 L573.5 178.0 L571.7 180.0 L569.9 181.9 L568.1 183.9 L566.2 185.8 L564.4 187.8 L562.6 189.7 L560.8 191.7 L559.0 193.6 L557.2 195.6 L555.4 197.5 L553.6 199.5 L551.8 201.4 L550.0 203.4 L548.1 205.3 L546.3 207.3 L544.5 209.2 L542.7 211.2 L540.9 213.1 L539.1 215.1 L537.3 217.0 L535.4 219.0 L533.6 220.9 L531.8 222.9 M584.7 90.2 L582.9 92.1 L581.1 94.1 L579.3 96.0 L577.4 98.0 L575.6 99.9 L573.8 101.9 L571.9 103.8 L570.1 105.8 L568.3 107.8 L566.5 109.7 L564.6 111.7 L562.8 113.6 L561.0 115.6 L559.1 117.5 L557.3 119.5 L555.5 121.4 L553.6 123.4 L551.8 125.3 L550.0 127.3 L548.1 129.2 L546.3 131.2 L544.5 133.1 L542.6 135.1 L540.8 137.0 L539.0 139.0 L537.1 140.9 L535.3 142.9 L533.5 144.8 L531.6 146.8 L529.8 148.7 L527.9 150.7 L526.1 152.6 L524.3 154.6 L522.4 156.5 L520.6 158.5 L518.8 160.4 L516.9 162.4 L515.1 164.3 L513.2 166.3 L511.4 168.3 L509.6 170.2 L507.7 172.2 L505.9 174.1 L504.0 176.1 L502.2 178.0 L500.3 180.0 L498.5 181.9 L496.7 183.9 L494.8 185.8 L493.0 187.8 L491.1 189.7 L489.3 191.7 L487.4 193.6 L485.6 195.6 L483.8 197.5 L481.9 199.5 L480.1 201.4 L478.2 203.4 L476.4 205.3 L474.5 207.3 L472.7 209.2 L470.8 211.2 L469.0 213.1 L467.1 215.1 L465.3 217.0 L463.4 219.0 L461.6 220.9 L459.7 222.9 M553.2 49.2 L551.4 51.2 L549.5 53.1 L547.7 55.1 L545.8 57.0 L544.0 59.0 L542.1 60.9 L540.3 62.9 L538.4 64.8 L536.5 66.8 L534.7 68.7 L532.8 70.7 L531.0 72.6 L529.1 74.6 L527.3 76.5 L525.4 78.5 L523.5 80.4 L521.7 82.4 L519.8 84.3 L518.0 86.3 L516.1 88.2 L514.2 90.2 L512.4 92.1 L510.5 94.1 L508.7 96.0 L506.8 98.0 L504.9 99.9 L503.1 101.9 L501.2 103.8 L499.3 105.8 L497.5 107.8 L495.6 109.7 L493.7 111.7 L491.9 113.6 L490.0 115.6 L488.1 117.5 L486.3 119.5 L484.4 121.4 L482.5 123.4 L480.7 125.3 L478.8 127.3 L476.9 129.2 L475.1 131.2 L473.2 133.1 L471.3 135.1 L469.5 137.0 L467.6 139.0 L465.7 140.9 L463.8 142.9 L462.0 144.8 L460.1 146.8 L458.2 148.7 L456.4 150.7 L454.5 152.6 L452.6 154.6 L450.7 156.5 L448.9 158.5 L447.0 160.4 L445.1 162.4 L443.2 164.3 L441.4 166.3 L439.5 168.3 L437.6 170.2 L435.7 172.2 L433.9 174.1 L432.0 176.1 L430.1 178.0 L428.2 180.0 L426.3 181.9 L424.5 183.9 L422.6 185.8 L420.7 187.8 L418.8 189.7 L416.9 191.7 L415.1 193.6 L413.2 195.6 L411.3 197.5 L409.4 199.5 L407.5 201.4 L405.6 203.4 L403.8 205.3 L401.9 207.3 L400.0 209.2 L398.1 211.2 L396.2 213.1 L394.3 215.1 L392.4 217.0 L390.6 219.0 L388.7 220.9 L386.8 222.9 M482.7 49.2 L480.8 51.2 L478.9 53.1 L477.0 55.1 L475.1 57.0 L473.2 59.0 L471.4 60.9 L469.5 62.9 L467.6 64.8 L465.7 66.8 L463.8 68.7 L461.9 70.7 L460.0 72.6 L458.1 74.6 L456.2 76.5 L454.3 78.5 L452.4 80.4 L450.5 82.4 L448.6 84.3 L446.7 86.3 L444.8 88.2 L443.0 90.2 L441.1 92.1 L439.2 94.1 L437.3 96.0 L435.4 98.0 L433.5 99.9 L431.6 101.9 L429.7 103.8 L427.8 105.8 L425.9 107.8 L424.0 109.7 L422.1 111.7 L420.2 113.6 L418.3 115.6 L416.4 117.5 L414.5 119.5 L412.5 121.4 L410.6 123.4 L408.7 125.3 L406.8 127.3 L404.9 129.2 L403.0 131.2 L401.1 133.1 L399.2 135.1 L397.3 137.0 L395.4 139.0 L393.5 140.9 L391.6 142.9 L389.7 144.8 L387.8 146.8 L385.9 148.7 L383.9 150.7 L382.0 152.6 L380.1 154.6 L378.2 156.5 L376.3 158.5 L374.4 160.4 L372.5 162.4 L370.6 164.3 L368.7 166.3 L366.7 168.3 L364.8 170.2 L362.9 172.2 L361.0 174.1 L359.1 176.1 L357.2 178.0 L355.3 180.0 L353.3 181.9 L351.4 183.9 L349.5 185.8 L347.6 187.8 L345.7 189.7 L343.7 191.7 L341.8 193.6 L339.9 195.6 L338.0 197.5 L336.1 199.5 L334.1 201.4 L332.2 203.4 L330.3 205.3 L328.4 207.3 L326.5 209.2 L324.5 211.2 L322.6 213.1 L320.7 215.1 L318.8 217.0 L316.8 219.0 L314.9 220.9 L313.0 222.9 M411.4 49.2 L409.4 51.2 L407.5 53.1 L405.6 55.1 L403.7 57.0 L401.7 59.0 L399.8 60.9 L397.9 62.9 L396.0 64.8 L394.0 66.8 L392.1 68.7 L390.2 70.7 L388.2 72.6 L386.3 74.6 L384.4 76.5 L382.4 78.5 L380.5 80.4 L378.6 82.4 L376.7 84.3 L374.7 86.3 L372.8 88.2 L370.9 90.2 L368.9 92.1 L367.0 94.1 L365.1 96.0 L363.1 98.0 L361.2 99.9 L359.2 101.9 L357.3 103.8 L355.4 105.8 L353.4 107.8 L351.5 109.7 L349.6 111.7 L347.6 113.6 L345.7 115.6 L343.7 117.5 L341.8 119.5 L339.9 121.4 L337.9 123.4 L336.0 125.3 L334.0 127.3 L332.1 129.2 L330.1 131.2 L328.2 133.1 L326.3 135.1 L324.3 137.0 L322.4 139.0 L320.4 140.9 L318.5 142.9 L316.5 144.8 L314.6 146.8 L312.6 148.7 L310.7 150.7 L308.7 152.6 L306.8 154.6 L304.8 156.5 L302.9 158.5 L300.9 160.4 L299.0 162.4 L297.0 164.3 L295.1 166.3 L293.1 168.3 L291.2 170.2 L289.2 172.2 L287.3 174.1 L285.3 176.1 L283.4 178.0 L281.4 180.0 L279.5 181.9 L277.5 183.9 L275.5 185.8 L273.6 187.8 L271.6 189.7 L269.7 191.7 L267.7 193.6 L265.8 195.6 L263.8 197.5 L261.8 199.5 L259.9 201.4 L257.9 203.4 L256.0 205.3 L254.0 207.3 L252.0 209.2 L250.1 211.2 L248.1 213.1 L246.1 215.1 L244.2 217.0 L242.2 219.0 L240.2 220.9 L238.3 222.9 M339.2 49.2 L337.3 51.2 L335.3 53.1 L333.3 55.1 L331.4 57.0 L329.4 59.0 L327.4 60.9 L325.5 62.9 L323.5 64.8 L321.5 66.8 L319.6 68.7 L317.6 70.7 L315.6 72.6 L313.7 74.6 L311.7 76.5 L309.7 78.5 L307.8 80.4 L305.8 82.4 L303.8 84.3 L301.9 86.3 L299.9 88.2 L297.9 90.2 L295.9 92.1 L294.0 94.1 L292.0 96.0 L290.0 98.0 L288.1 99.9 L286.1 101.9 L284.1 103.8 L282.1 105.8 L280.2 107.8 L278.2 109.7 L276.2 111.7 L274.2 113.6 L272.2 115.6 L270.3 117.5 L268.3 119.5 L266.3 121.4 L264.3 123.4 L262.3 125.3 L260.4 127.3 L258.4 129.2 L256.4 131.2 L254.4 133.1 L252.4 135.1 L250.5 137.0 L248.5 139.0 L246.5 140.9 L244.5 142.9 L242.5 144.8 L240.5 146.8 L238.5 148.7 L236.6 150.7 L234.6 152.6 L232.6 154.6 L230.6 156.5 L228.6 158.5 L226.6 160.4 L224.6 162.4 L222.6 164.3 L220.6 166.3 L218.6 168.3 L216.7 170.2 L214.7 172.2 L212.7 174.1 L210.7 176.1 L208.7 178.0 L206.7 180.0 L204.7 181.9 L202.7 183.9 L200.7 185.8 L198.7 187.8 L196.7 189.7 L194.7 191.7 L192.7 193.6 L190.7 195.6 L188.7 197.5 L186.7 199.5 L184.7 201.4 L182.7 203.4 L180.7 205.3 L178.7 207.3 L176.7 209.2 L174.7 211.2 L172.7 213.1 L170.7 215.1 L168.7 217.0 L166.7 219.0 L164.7 220.9 L162.6 222.9 M266.2 49.2 L264.2 51.2 L262.2 53.1 L260.2 55.1 L258.2 57.0 L256.2 59.0 L254.2 60.9 L252.2 62.9 L250.2 64.8 L248.2 66.8 L246.2 68.7 L244.2 70.7 L242.2 72.6 L240.2 74.6 L238.2 76.5 L236.2 78.5 L234.2 80.4 L232.2 82.4 L230.1 84.3 L228.1 86.3 L226.1 88.2 L224.1 90.2 L222.1 92.1 L220.1 94.1 L218.1 96.0 L216.1 98.0 L214.1 99.9 L212.0 101.9 L210.0 103.8 L208.0 105.8 L206.0 107.8 L204.0 109.7 L202.0 111.7 L199.9 113.6 L197.9 115.6 L195.9 117.5 L193.9 119.5 L191.9 121.4 L189.8 123.4 L187.8 125.3 L185.8 127.3 L183.8 129.2 L181.8 131.2 L179.7 133.1 L177.7 135.1 L175.7 137.0 L173.7 139.0 L171.6 140.9 L169.6 142.9 L167.6 144.8 L165.6 146.8 L163.5 148.7 L161.5 150.7 L159.5 152.6 L157.4 154.6 L155.4 156.5 L153.4 158.5 L151.4 160.4 L149.3 162.4 L147.3 164.3 L145.3 166.3 L143.2 168.3 L141.2 170.2 L139.2 172.2 L137.1 174.1 L135.1 176.1 L133.0 178.0 L131.0 180.0 L129.0 181.9 L126.9 183.9 L124.9 185.8 L122.9 187.8 L120.8 189.7 L118.8 191.7 L116.7 193.6 L114.7 195.6 L112.7 197.5 L110.6 199.5 L108.6 201.4 L106.5 203.4 L104.5 205.3 L102.4 207.3 L100.4 209.2 L98.3 211.2 L96.3 213.1 L94.2 215.1 L92.2 217.0 L90.1 219.0 L88.1 220.9 L86.0 222.9 M192.4 49.2 L190.3 51.2 L188.3 53.1 L186.3 55.1 L184.2 57.0 L182.2 59.0 L180.1 60.9 L178.1 62.9 L176.0 64.8 L174.0 66.8 L172.0 68.7 L169.9 70.7 L167.9 72.6 L165.8 74.6 L163.8 76.5 L161.7 78.5 L159.7 80.4 L157.6 82.4 L155.6 84.3 L153.5 86.3 L151.5 88.2 L149.4 90.2 L147.4 92.1 L145.3 94.1 L143.3 96.0 L141.2 98.0 L139.1 99.9 L137.1 101.9 L135.0 103.8 L133.0 105.8 L130.9 107.8 L128.9 109.7 L126.8 111.7 L124.7 113.6 L122.7 115.6 L120.6 117.5 L118.6 119.5 L116.5 121.4 L114.4 123.4 L112.4 125.3 L110.3 127.3 L108.3 129.2 L106.2 131.2 L104.1 133.1 L102.1 135.1 L100.0 137.0 L97.9 139.0 L95.9 140.9 L93.8 142.9 L91.7 144.8 L89.6 146.8 L87.6 148.7 L85.5 150.7 L83.4 152.6 L81.4 154.6 L79.3 156.5 L77.2 158.5 L75.1 160.4 L73.1 162.4 L71.0 164.3 L68.9 166.3 L66.8 168.3 L64.8 170.2 L62.7 172.2 L60.6 174.1 L58.5 176.1 L56.4 178.0 L54.4 180.0 L52.3 181.9 L50.2 183.9 L48.1 185.8 L46.0 187.8 L44.0 189.7 L41.9 191.7 L39.8 193.6 L37.7 195.6 L35.6 197.5 L33.5 199.5 L31.4 201.4 M117.6 49.2 L115.5 51.2 L113.5 53.1 L111.4 55.1 L109.3 57.0 L107.2 59.0 L105.1 60.9 L103.0 62.9 L101.0 64.8 L98.9 66.8 L96.8 68.7 L94.7 70.7 L92.6 72.6 L90.5 74.6 L88.4 76.5 L86.3 78.5 L84.2 80.4 L82.2 82.4 L80.1 84.3 L78.0 86.3 L75.9 88.2 L73.8 90.2 L71.7 92.1 L69.6 94.1 L67.5 96.0 L65.4 98.0 L63.3 99.9 L61.2 101.9 L59.1 103.8 L57.0 105.8 L54.9 107.8 L52.8 109.7 L50.7 111.7 L48.6 113.6 L46.5 115.6 L44.4 117.5 L42.3 119.5 L40.2 121.4 L38.1 123.4 L36.0 125.3 L33.9 127.3 L31.8 129.2 M41.9 49.2 L39.8 51.2 L37.7 53.1 L35.6 55.1 L33.4 57.0 L31.3 59.0" fill="none" stroke="#1a1a1a" stroke-width="0.55" opacity="0.9"/>
<use href="#deco"/>
</g>
<rect x="38.6" y="50.2" width="539.1" height="171.7" fill="none" stroke="#000" stroke-width="1.6"/>
<path d="M70.9 50.2 l-4.4 -5.0 M126.5 50.2 l-4.4 -5.0 M183.5 50.2 l-4.4 -5.0 M241.7 50.2 l-4.4 -5.0 M300.2 50.2 l-4.4 -5.0 M361.0 50.2 l-4.4 -5.0 M423.5 50.2 l-4.4 -5.0 M485.4 50.2 l-4.4 -5.0 M549.8 50.2 l-4.4 -5.0 M65.8 221.9 l4.4 5.0 M121.4 221.9 l4.4 5.0 M178.2 221.9 l4.4 5.0 M235.8 221.9 l4.4 5.0 M296.0 221.9 l4.4 5.0 M356.6 221.9 l4.4 5.0 M418.0 221.9 l4.4 5.0 M480.7 221.9 l4.4 5.0 M545.0 221.9 l4.4 5.0 M38.6 52.5 l-4.4 4.4 M38.6 123.0 l-4.4 4.4 M38.6 194.2 l-4.4 4.4 M577.7 98.7 l4.8 -5.2 M577.7 174.5 l4.8 -5.2" fill="none" stroke="#1a1a1a" stroke-width="0.6"/>
<g font-size="12.6" fill="#1a1a1a" text-anchor="middle">
 <text x="65.0" y="42.2" textLength="34.6" lengthAdjust="spacingAndGlyphs">122°W</text>
 <text x="120.6" y="42.2" textLength="34.6" lengthAdjust="spacingAndGlyphs">121°W</text>
 <text x="177.4" y="42.2" textLength="34.6" lengthAdjust="spacingAndGlyphs">120°W</text>
 <text x="235.4" y="42.2" textLength="34.6" lengthAdjust="spacingAndGlyphs">119°W</text>
 <text x="294.4" y="42.2" textLength="34.6" lengthAdjust="spacingAndGlyphs">118°W</text>
 <text x="355.0" y="42.2" textLength="34.6" lengthAdjust="spacingAndGlyphs">117°W</text>
 <text x="413.0" y="42.2" textLength="34.6" lengthAdjust="spacingAndGlyphs">116°W</text>
 <text x="471.6" y="42.2" textLength="34.6" lengthAdjust="spacingAndGlyphs">115°W</text>
 <text x="531.6" y="42.2" textLength="34.6" lengthAdjust="spacingAndGlyphs">114°W</text>
<text x="68.8" y="239.8" textLength="34.6" lengthAdjust="spacingAndGlyphs">125°W</text>
<text x="120.4" y="239.8" textLength="34.6" lengthAdjust="spacingAndGlyphs">124°W</text>
<text x="173.5" y="239.8" textLength="34.6" lengthAdjust="spacingAndGlyphs">123°W</text>
<text x="227.2" y="239.8" textLength="34.6" lengthAdjust="spacingAndGlyphs">122°W</text>
<text x="298.4" y="239.8" textLength="34.6" lengthAdjust="spacingAndGlyphs">121°W</text>
<text x="358.7" y="239.8" textLength="34.6" lengthAdjust="spacingAndGlyphs">120°W</text>
<text x="420.7" y="239.8" textLength="34.6" lengthAdjust="spacingAndGlyphs">119°W</text>
<text x="484.1" y="239.8" textLength="34.6" lengthAdjust="spacingAndGlyphs">118°W</text>
<text x="548.0" y="239.8" textLength="34.6" lengthAdjust="spacingAndGlyphs">117°W</text>
<text x="14.5" y="61.8" textLength="26.4" lengthAdjust="spacingAndGlyphs">41°N</text>
<text x="14.5" y="132.8" textLength="26.4" lengthAdjust="spacingAndGlyphs">40°N</text>
<text x="14.5" y="203.1" textLength="26.4" lengthAdjust="spacingAndGlyphs">39°N</text>
<text x="599.2" y="97.5" textLength="26" lengthAdjust="spacingAndGlyphs">33°N</text>
<text x="599.2" y="175.0" textLength="26" lengthAdjust="spacingAndGlyphs">32°N</text>
</g>
<rect x="119.4" y="254.8" width="378" height="16" fill="url(#gplasma)" stroke="#000" stroke-width="1.5"/>
<path d="M120.2 270.8 v3.6 M164.4 270.8 v2.0 M208.5 270.8 v3.6 M252.7 270.8 v2.0 M296.9 270.8 v3.6 M341.1 270.8 v2.0 M385.2 270.8 v3.6 M429.4 270.8 v2.0 M473.6 270.8 v3.6" stroke="#1a1a1a" stroke-width="0.6" fill="none"/>
<g font-size="12.2" fill="#1a1a1a" text-anchor="middle">
<text x="119.7" y="287.4">0.0</text>
<text x="208.0" y="287.4">0.2</text>
<text x="296.4" y="287.4">0.4</text>
<text x="384.7" y="287.4">0.6</text>
<text x="473.1" y="287.4">0.8</text>
<text x="305.6" y="304" font-size="12.8" textLength="105" lengthAdjust="spacingAndGlyphs">Fault Misalignment</text>
</g>
<rect x="618.6" y="42.6" width="12.6" height="188" fill="url(#ghot)" stroke="#000" stroke-width="1.5"/>
<path d="M631.8 81.3 h3.6 M631.8 156.3 h3.6 M631.8 230.3 h3.6" stroke="#1a1a1a" stroke-width="0.6" fill="none"/>
<g font-size="12.2" fill="#1a1a1a" text-anchor="end">
<text x="655.0" y="85.6">10</text>
<text x="655.0" y="160.6">1</text>
<text x="655.0" y="234.6">0.1</text>
</g>
<text transform="translate(672.5,140.8) rotate(-90)" font-size="12.2" fill="#1a1a1a" text-anchor="middle" textLength="106.5" lengthAdjust="spacingAndGlyphs">Creep Rate (mm/yr)</text>
</g>
</svg></body></html>
